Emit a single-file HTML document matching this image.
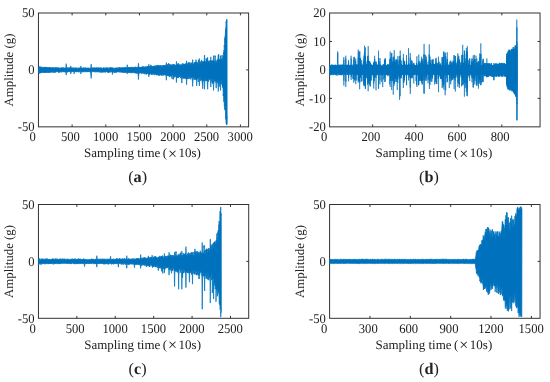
<!DOCTYPE html>
<html><head><meta charset="utf-8"><title>Figure</title>
<style>
html,body{margin:0;padding:0;background:#fff;}
svg{display:block;}
text{font-family:"Liberation Serif",serif;fill:#222222;text-rendering:geometricPrecision;}
.t{font-size:13.3px;}
.l{font-size:13.0px;}
.yl{font-size:12.8px;}
.c{font-size:16.2px;}
</style></head><body>
<svg width="550" height="382" viewBox="0 0 550 382">
<rect width="550" height="382" fill="#ffffff"/>
<rect x="38.45" y="13" width="210.15" height="113.85" fill="none" stroke="#333333" stroke-width="1"/>
<path d="M72.11 126.85v-2.4M72.11 13v2.4M105.77 126.85v-2.4M105.77 13v2.4M139.43 126.85v-2.4M139.43 13v2.4M173.09 126.85v-2.4M173.09 13v2.4M206.75 126.85v-2.4M206.75 13v2.4M240.41 126.85v-2.4M240.41 13v2.4M38.45 69.92h2.4M248.6 69.92h-2.4" stroke="#333333" stroke-width="1" fill="none"/>
<path d="M38.45 67.35L38.58 67.15L38.72 66.81L38.85 66.75L38.99 66.28L39.12 66.44L39.26 67.05L39.39 67.28L39.53 66.72L39.66 67.29L39.8 67.3L39.93 67.76L40.07 67.24L40.2 67.38L40.33 67.5L40.47 66.96L40.6 66.75L40.74 66.72L40.87 67.59L41.01 67.7L41.14 67.79L41.28 66.81L41.41 67.4L41.55 67.31L41.68 67.28L41.82 66.88L41.95 67.47L42.09 67.22L42.22 67.63L42.35 67.51L42.49 67.63L42.62 67.89L42.76 67.41L42.89 67.91L43.03 67.45L43.16 67.54L43.3 67.48L43.43 67.86L43.57 67.83L43.7 67.79L43.84 67.32L43.97 67.41L44.1 67.27L44.24 67.61L44.37 67.45L44.51 67.24L44.64 67.73L44.78 67.42L44.91 66.84L45.05 67.38L45.18 67.44L45.32 67.05L45.45 67.51L45.59 67.07L45.72 67.22L45.86 67.45L45.99 67.44L46.12 67.29L46.26 66.91L46.39 67.05L46.53 67.62L46.66 68.06L46.8 67.79L46.93 67.68L47.07 68.13L47.2 67.9L47.34 67.29L47.47 67.8L47.61 67.47L47.74 67.92L47.87 67.95L48.01 67.82L48.14 67.83L48.28 68.17L48.41 67.84L48.55 67.42L48.68 67.57L48.82 67.52L48.95 67.54L49.09 67.48L49.22 67.92L49.36 67.1L49.49 67.57L49.63 67.31L49.76 67.36L49.89 67.86L50.03 67.72L50.16 67.79L50.3 67.48L50.43 67.63L50.57 67.84L50.7 67.74L50.84 67.52L50.97 68.08L51.11 67.86L51.24 67.74L51.38 67.95L51.51 68.08L51.64 68.11L51.78 67.81L51.91 68.13L52.05 68.08L52.18 67.59L52.32 67.41L52.45 67.48L52.59 67.85L52.72 67.83L52.86 68.07L52.99 67.7L53.13 68.03L53.26 67.96L53.4 68.22L53.53 68.02L53.66 68.25L53.8 67.35L53.93 67.5L54.07 67.68L54.2 67.92L54.34 67.92L54.47 68.11L54.61 68.08L54.74 67.84L54.88 67.87L55.01 67.36L55.15 67.67L55.28 67.6L55.41 67.67L55.55 67.82L55.68 68.07L55.82 67.52L55.95 67.69L56.09 67.43L56.22 67.68L56.36 67.6L56.49 67.65L56.63 67.81L56.76 67.85L56.9 67.55L57.03 68.15L57.16 68.06L57.3 68.2L57.43 67.72L57.57 68.08L57.7 68.17L57.84 68.15L57.97 67.77L58.11 67.9L58.24 67.63L58.38 67.73L58.51 67.51L58.65 67.9L58.78 67.95L58.92 68.27L59.05 67.73L59.18 68.01L59.32 68.04L59.45 68.2L59.59 68.16L59.72 68.13L59.86 68.09L59.99 67.89L60.13 68.05L60.26 67.94L60.4 68.33L60.53 68.08L60.67 68.07L60.8 68.31L60.93 68.22L61.07 67.85L61.2 67.58L61.34 67.64L61.47 68.15L61.61 67.91L61.74 67.94L61.88 67.84L62.01 67.46L62.15 67.52L62.28 67.76L62.42 67.76L62.55 68.1L62.69 67.82L62.82 67.75L62.95 68.12L63.09 67.94L63.22 67.73L63.36 68.12L63.49 68.06L63.63 67.98L63.76 67.7L63.9 68.17L64.03 68.32L64.17 68.09L64.3 67.88L64.44 67.94L64.57 68.01L64.7 68.03L64.84 68.07L64.97 68.07L65.11 67.99L65.24 68.01L65.38 67.92L65.51 68.14L65.65 68.44L65.78 67.19L65.92 66.33L66.05 65.44L66.19 63.66L66.32 65.32L66.46 65.96L66.59 67.49L66.72 67.73L66.86 67.75L66.99 67.89L67.13 68.13L67.26 68L67.4 68.33L67.53 67.59L67.67 67.7L67.8 67.62L67.94 67.74L68.07 68.15L68.21 67.9L68.34 68.13L68.47 68.43L68.61 68.4L68.74 67.62L68.88 67.68L69.01 67.73L69.15 67.8L69.28 67.55L69.42 67.6L69.55 67.58L69.69 67.91L69.82 67.83L69.96 67.83L70.09 68.1L70.23 67.97L70.36 68.35L70.49 67.6L70.63 66.91L70.76 65.94L70.9 66.5L71.03 67.72L71.17 67.67L71.3 67.58L71.44 67.82L71.57 67.85L71.71 67.86L71.84 67.92L71.98 68.12L72.11 68.16L72.24 68.4L72.38 67.89L72.51 67.62L72.65 67.94L72.78 68.07L72.92 67.8L73.05 67.91L73.19 67.85L73.32 68.21L73.46 67.88L73.59 67.99L73.73 68.31L73.86 68.06L73.99 67.76L74.13 67.93L74.26 67.78L74.4 68.13L74.53 68.1L74.67 68.45L74.8 68.51L74.94 68.24L75.07 68.47L75.21 67.79L75.34 67.71L75.48 67.65L75.61 67.77L75.75 67.81L75.88 67.98L76.01 68L76.15 67.89L76.28 68.15L76.42 68.05L76.55 68.11L76.69 68.05L76.82 68.02L76.96 67.75L77.09 68.18L77.23 68.26L77.36 68.3L77.5 68.43L77.63 68.37L77.76 68.2L77.9 68.02L78.03 68.31L78.17 68.27L78.3 68.55L78.44 68.22L78.57 68.2L78.71 68.32L78.84 67.61L78.98 67.7L79.11 68.05L79.25 67.98L79.38 67.83L79.52 68.25L79.65 68.04L79.78 68.09L79.92 68L80.05 68.16L80.19 68.05L80.32 67.94L80.46 67.91L80.59 67.69L80.73 67.09L80.86 65.94L81 67.01L81.13 67.77L81.27 67.7L81.4 67.97L81.53 67.99L81.67 67.87L81.8 67.84L81.94 68.18L82.07 68.06L82.21 68.15L82.34 68.42L82.48 67.95L82.61 68.21L82.75 68.13L82.88 68.11L83.02 68.12L83.15 67.79L83.29 68.01L83.42 67.69L83.55 67.8L83.69 68.37L83.82 68.22L83.96 68.47L84.09 67.68L84.23 67.98L84.36 67.95L84.5 68.32L84.63 68.51L84.77 68.33L84.9 67.64L85.04 67.71L85.17 67.66L85.3 67.92L85.44 67.78L85.57 67.8L85.71 68.27L85.84 68.24L85.98 68.24L86.11 68.09L86.25 68.04L86.38 68.32L86.52 68.13L86.65 67.77L86.79 67.94L86.92 68.63L87.06 68.31L87.19 68.63L87.32 68.13L87.46 68.17L87.59 67.89L87.73 68.06L87.86 67.77L88 68.17L88.13 68.19L88.27 67.97L88.4 68.19L88.54 67.82L88.67 67.89L88.81 68.12L88.94 68.23L89.07 68.16L89.21 68.29L89.34 68.18L89.48 68.37L89.61 68.29L89.75 68.04L89.88 68.03L90.02 67.91L90.15 68.21L90.29 68.18L90.42 68.49L90.56 68.29L90.69 67.52L90.82 66.68L90.96 65.78L91.09 64.23L91.23 64.23L91.36 65.63L91.5 66.48L91.63 67.59L91.77 68.36L91.9 68.06L92.04 68.2L92.17 68.11L92.31 68.11L92.44 68.18L92.58 67.63L92.71 67.64L92.84 67.96L92.98 67.99L93.11 68.15L93.25 68.12L93.38 67.8L93.52 67.66L93.65 67.61L93.79 68.05L93.92 67.93L94.06 68.28L94.19 67.99L94.33 68.08L94.46 67.92L94.59 67.66L94.73 67.98L94.86 68.05L95 67.76L95.13 67.95L95.27 67.91L95.4 68.05L95.54 67.89L95.67 67.87L95.81 67.98L95.94 68.2L96.08 68.19L96.21 67.93L96.35 67.98L96.48 67.66L96.61 68.1L96.75 67.99L96.88 68.01L97.02 67.49L97.15 67.7L97.29 67.39L97.42 68.27L97.56 68.23L97.69 68.54L97.83 67.97L97.96 67.97L98.1 68.22L98.23 67.9L98.36 68.1L98.5 68.26L98.63 67.62L98.77 67.59L98.9 67.76L99.04 68.42L99.17 68.29L99.31 68.09L99.44 68L99.58 67.69L99.71 67.92L99.85 67.78L99.98 68.03L100.12 68.21L100.25 68.14L100.38 67.75L100.52 67.88L100.65 67.81L100.79 68.04L100.92 68.2L101.06 67.56L101.19 67.71L101.33 67.7L101.46 68.02L101.6 68.32L101.73 68.18L101.87 68.06L102 67.97L102.13 68.35L102.27 68.11L102.4 68.29L102.54 68.31L102.67 68.23L102.81 68.47L102.94 68.21L103.08 68.05L103.21 67.84L103.35 67.92L103.48 67.64L103.62 67.59L103.75 67.94L103.89 67.64L104.02 67.79L104.15 68.07L104.29 68.45L104.42 68.36L104.56 68.16L104.69 68.06L104.83 67.8L104.96 67.91L105.1 67.89L105.23 68.18L105.37 68.15L105.5 67.81L105.64 67.86L105.77 68.19L105.9 68.08L106.04 67.98L106.17 67.76L106.31 68.23L106.44 68.01L106.58 68.27L106.71 67.78L106.85 67.62L106.98 67.53L107.12 67.98L107.25 67.89L107.39 68.03L107.52 68.1L107.65 67.77L107.79 68.14L107.92 68.1L108.06 67.76L108.19 68.13L108.33 68.26L108.46 68.44L108.6 68.09L108.73 68.18L108.87 68.4L109 68.43L109.14 68.25L109.27 67.92L109.41 68.1L109.54 67.74L109.67 67.66L109.81 67.72L109.94 68.06L110.08 67.62L110.21 68.05L110.35 67.68L110.48 68.08L110.62 67.81L110.75 68.11L110.89 67.94L111.02 68.33L111.16 67.98L111.29 67.97L111.42 67.54L111.56 67.62L111.69 67.79L111.83 67.93L111.96 67.56L112.1 67.81L112.23 68.01L112.37 67.82L112.5 68.22L112.64 68.23L112.77 67.94L112.91 67.69L113.04 67.52L113.18 68.32L113.31 68.4L113.44 68.16L113.58 68.43L113.71 68.18L113.85 68.28L113.98 68.18L114.12 68.32L114.25 68.52L114.39 68.3L114.52 68.14L114.66 68.01L114.79 68.27L114.93 68.01L115.06 68.03L115.19 68.28L115.33 68.05L115.46 68.06L115.6 67.77L115.73 68.08L115.87 67.87L116 68.44L116.14 68.16L116.27 68.22L116.41 67.95L116.54 67.74L116.68 67.77L116.81 68.06L116.95 68.22L117.08 68.29L117.21 68L117.35 68.05L117.48 67.67L117.62 68.2L117.75 68.16L117.89 68.28L118.02 68.13L118.16 67.94L118.29 68.02L118.43 67.7L118.56 67.47L118.7 67.8L118.83 67.77L118.96 67.89L119.1 68.14L119.23 67.56L119.37 67.92L119.5 67.62L119.64 68.06L119.77 67.66L119.91 67.85L120.04 67.68L120.18 67.69L120.31 67.73L120.45 68.3L120.58 67.98L120.72 68.07L120.85 67.68L120.98 67.85L121.12 68.05L121.25 68.11L121.39 68.27L121.52 68.07L121.66 67.86L121.79 67.95L121.93 67.46L122.06 67.32L122.2 67.37L122.33 67.78L122.47 67.65L122.6 67.38L122.73 67.72L122.87 68.02L123 68.05L123.14 68.17L123.27 67.77L123.41 68L123.54 67.84L123.68 68.03L123.81 67.94L123.95 67.57L124.08 68.27L124.22 67.92L124.35 68.3L124.48 67.62L124.62 67.77L124.75 67.48L124.89 67.33L125.02 67.84L125.16 67.46L125.29 67.94L125.43 68.04L125.56 67.71L125.7 67.24L125.83 67.53L125.97 67.61L126.1 67.39L126.24 67.28L126.37 67.64L126.5 67.83L126.64 68.02L126.77 67.92L126.91 67.51L127.04 66.35L127.18 64.8L127.31 64.8L127.45 66.44L127.58 67.34L127.72 67.88L127.85 68.1L127.99 67.72L128.12 67.24L128.25 67.06L128.39 67.36L128.52 67.36L128.66 67.31L128.79 67.74L128.93 67.33L129.06 67.81L129.2 67.53L129.33 67.77L129.47 68.06L129.6 67.89L129.74 67.31L129.87 67.6L130.01 67.24L130.14 67.26L130.27 67.66L130.41 67.42L130.54 67.07L130.68 67.52L130.81 67.5L130.95 67.07L131.08 67.14L131.22 67.33L131.35 67.94L131.49 67.56L131.62 67.48L131.76 67.11L131.89 67.4L132.02 67.22L132.16 66.96L132.29 67.2L132.43 67.22L132.56 66.92L132.7 67.25L132.83 67.28L132.97 67.61L133.1 67.61L133.24 67.58L133.37 67.7L133.51 67.77L133.64 67.96L133.78 67.31L133.91 67.09L134.04 67.65L134.18 67.74L134.31 67.49L134.45 67.73L134.58 67.46L134.72 67.14L134.85 67.69L134.99 66.83L135.12 66.79L135.26 66.75L135.39 67.57L135.53 67.62L135.66 67.28L135.79 67.76L135.93 67.4L136.06 67.59L136.2 67.19L136.33 67.44L136.47 67.56L136.6 66.98L136.74 67.46L136.87 67.42L137.01 67.51L137.14 67.81L137.28 67.55L137.41 67.32L137.55 67.54L137.68 67.21L137.81 67.45L137.95 67.04L138.08 66.14L138.22 65.38L138.35 63.32L138.49 63.32L138.62 64.86L138.76 66.28L138.89 66.8L139.03 67.53L139.16 67.34L139.3 67.15L139.43 67.63L139.56 67.15L139.7 67.2L139.83 66.96L139.97 67.49L140.1 67.06L140.24 67.35L140.37 67.26L140.51 67.64L140.64 67.35L140.78 67.2L140.91 67.34L141.05 67.1L141.18 67.17L141.31 67.16L141.45 67.2L141.58 66.93L141.72 67.37L141.85 67.32L141.99 67.8L142.12 67.83L142.26 66.64L142.39 66.56L142.53 67.15L142.66 67.26L142.8 66.78L142.93 66.72L143.07 66.34L143.2 66.81L143.33 66.94L143.47 67.33L143.6 67.23L143.74 67.28L143.87 66.69L144.01 66.69L144.14 66.43L144.28 67.53L144.41 67.13L144.55 67.62L144.68 67.65L144.82 67.11L144.95 67.11L145.08 67.09L145.22 67.49L145.35 67.64L145.49 67.13L145.62 67.37L145.76 67.34L145.89 66.15L146.03 66.48L146.16 66.75L146.3 66.87L146.43 66.9L146.57 67.44L146.7 67.27L146.84 66.79L146.97 67.39L147.1 66.41L147.24 66.14L147.37 66.68L147.51 66.41L147.64 66.37L147.78 66.85L147.91 66.87L148.05 67.36L148.18 66.9L148.32 66.55L148.45 66.82L148.59 66.85L148.72 65.48L148.85 64.23L148.99 65.61L149.12 66.6L149.26 66.56L149.39 67.02L149.53 66.13L149.66 66.66L149.8 66.53L149.93 66.87L150.07 66.9L150.2 67.43L150.34 66.6L150.47 66.05L150.61 66.67L150.74 64.83L150.87 65.76L151.01 65.24L151.14 65.87L151.28 66.41L151.41 66.47L151.55 66.65L151.68 66.03L151.82 66.77L151.95 66.41L152.09 66.67L152.22 66.47L152.36 66.79L152.49 67.32L152.62 67.18L152.76 66.22L152.89 66.5L153.03 66.15L153.16 66.58L153.3 65.82L153.43 66.02L153.57 66.55L153.7 67.01L153.84 66.63L153.97 66.93L154.11 66.42L154.24 66.96L154.38 66.26L154.51 66.03L154.64 66.08L154.78 66.05L154.91 65.72L155.05 66.31L155.18 66.29L155.32 66.04L155.45 65.48L155.59 66.97L155.72 66.73L155.86 66.52L155.99 66.43L156.13 67.08L156.26 66.8L156.39 65.75L156.53 65.54L156.66 65.78L156.8 65.74L156.93 66.23L157.07 66.02L157.2 65.26L157.34 64.96L157.47 65.37L157.61 65.39L157.74 65.17L157.88 65.51L158.01 65.35L158.14 65.47L158.28 65.22L158.41 65.34L158.55 65.81L158.68 65.93L158.82 65.44L158.95 65.4L159.09 65.44L159.22 66.06L159.36 66.02L159.49 65.93L159.63 66.22L159.76 65.55L159.9 65.79L160.03 66.2L160.16 66.85L160.3 66.91L160.43 66.02L160.57 65.31L160.7 65.61L160.84 65.49L160.97 65.28L161.11 65.62L161.24 65.52L161.38 65.3L161.51 65.53L161.65 65.7L161.78 66.52L161.91 66.3L162.05 66.56L162.18 65.77L162.32 66.42L162.45 65.68L162.59 66.18L162.72 66.29L162.86 66.69L162.99 66.25L163.13 66.34L163.26 64.97L163.4 65.43L163.53 65.69L163.67 65.89L163.8 65.4L163.93 65.44L164.07 65.87L164.2 66.13L164.34 65.6L164.47 65.34L164.61 65.34L164.74 66L164.88 65.46L165.01 65.02L165.15 65.2L165.28 65.56L165.42 65.54L165.55 65.61L165.68 65.75L165.82 64.78L165.95 65.45L166.09 64.7L166.22 64.08L166.36 62.52L166.49 63.92L166.63 65.53L166.76 65.46L166.9 65.84L167.03 66.12L167.17 66.31L167.3 64.78L167.44 65.71L167.57 65.46L167.7 64.36L167.84 65.23L167.97 64.52L168.11 66.47L168.24 66.37L168.38 65.73L168.51 63L168.65 63.59L168.78 63.89L168.92 64.64L169.05 64.53L169.19 65.28L169.32 64.74L169.45 64.33L169.59 65L169.72 66.53L169.86 65.68L169.99 66L170.13 65.72L170.26 66.05L170.4 65.91L170.53 64.47L170.67 64.12L170.8 64.35L170.94 66.35L171.07 65.62L171.21 66.25L171.34 65.49L171.47 65.8L171.61 65.74L171.74 64.76L171.88 64.78L172.01 65.35L172.15 64.98L172.28 65.06L172.42 64.94L172.55 65.08L172.69 65.01L172.82 64.36L172.96 65.36L173.09 65.39L173.22 65.43L173.36 64.2L173.49 64.01L173.63 64.67L173.76 65.26L173.9 65.78L174.03 66.1L174.17 64.22L174.3 64.95L174.44 65.26L174.57 65.63L174.71 65.48L174.84 66.15L174.97 65.47L175.11 64.7L175.24 65.43L175.38 65.5L175.51 65.82L175.65 65.78L175.78 65.68L175.92 65.22L176.05 64.93L176.19 64.99L176.32 63.21L176.46 61.39L176.59 63.33L176.73 64.5L176.86 64.77L176.99 65.36L177.13 64.59L177.26 65.29L177.4 65.98L177.53 65.33L177.67 65.62L177.8 63.5L177.94 64.34L178.07 64.47L178.21 64.36L178.34 63.66L178.48 64.02L178.61 63.84L178.74 63.58L178.88 63.99L179.01 65.21L179.15 64.86L179.28 64.91L179.42 65.44L179.55 64.54L179.69 65.59L179.82 65.7L179.96 64.84L180.09 65.07L180.23 65.03L180.36 65.6L180.5 65.11L180.63 65.19L180.76 65.39L180.9 65.49L181.03 64.21L181.17 64.69L181.3 65.16L181.44 64.95L181.57 65.08L181.71 65.64L181.84 64.82L181.98 64.86L182.11 65.38L182.25 63.59L182.38 63.68L182.51 63.37L182.65 64.13L182.78 64.79L182.92 65.27L183.05 64.92L183.19 64.71L183.32 65.47L183.46 63.68L183.59 64.14L183.73 64.82L183.86 65.47L184 64.51L184.13 64.47L184.27 63.91L184.4 64.17L184.53 64.83L184.67 64.72L184.8 64.39L184.94 65.34L185.07 65.05L185.21 63.86L185.34 63.89L185.48 64.39L185.61 63.59L185.75 64.09L185.88 64.18L186.02 63.76L186.15 64.29L186.28 64.46L186.42 63.04L186.55 60.82L186.69 62.04L186.82 63.71L186.96 63.24L187.09 62.97L187.23 62.93L187.36 63.55L187.5 64.63L187.63 64.42L187.77 64.92L187.9 64.97L188.04 64.48L188.17 65.2L188.3 62.96L188.44 62.58L188.57 63.3L188.71 63.93L188.84 63.31L188.98 62.54L189.11 63.14L189.25 62.6L189.38 63.68L189.52 64.94L189.65 64.21L189.79 64.15L189.92 62.94L190.05 62.47L190.19 63.75L190.32 64.17L190.46 64.63L190.59 64.32L190.73 63.46L190.86 63.57L191 63.62L191.13 63.45L191.27 64.04L191.4 63.66L191.54 63.7L191.67 63.77L191.8 62.44L191.94 64.69L192.07 65.11L192.21 64.43L192.34 63.45L192.48 62.09L192.61 59.68L192.75 59.68L192.88 62.04L193.02 63.07L193.15 64.31L193.29 64.74L193.42 65.24L193.56 64.59L193.69 63.87L193.82 64.96L193.96 64.3L194.09 63.3L194.23 64.33L194.36 62.29L194.5 63.54L194.63 63.55L194.77 62.72L194.9 62.53L195.04 62.83L195.17 62.35L195.31 62.72L195.44 62.72L195.57 63.87L195.71 62.46L195.84 63.06L195.98 59.6L196.11 60.94L196.25 60.95L196.38 63.61L196.52 62.18L196.65 63.21L196.79 62.57L196.92 62.7L197.06 62.79L197.19 63.47L197.33 62.39L197.46 62.48L197.59 63.7L197.73 64.61L197.86 63.42L198 64.95L198.13 63.73L198.27 63.77L198.4 59.75L198.54 60.24L198.67 60.68L198.81 62.67L198.94 61.29L199.08 62.2L199.21 61L199.34 58.54L199.48 61.22L199.61 61.86L199.75 62.76L199.88 62.93L200.02 64.04L200.15 63.18L200.29 63.43L200.42 61.6L200.56 62.97L200.69 63.13L200.83 64.8L200.96 63.73L201.1 63.51L201.23 61.82L201.36 60.86L201.5 59.89L201.63 63.62L201.77 63.63L201.9 64.3L202.04 61.77L202.17 61.26L202.31 61.31L202.44 63.24L202.58 62.23L202.71 62.23L202.85 61.85L202.98 61.57L203.11 61.83L203.25 61.75L203.38 61.33L203.52 61.52L203.65 61.48L203.79 63.07L203.92 62.02L204.06 61.95L204.19 60.79L204.33 57.69L204.46 55.12L204.6 55.12L204.73 59.36L204.87 60.36L205 61.62L205.13 61.21L205.27 63.62L205.4 62.25L205.54 63.66L205.67 62.27L205.81 63.69L205.94 62.34L206.08 60.14L206.21 58.28L206.35 59.96L206.48 62.05L206.62 60.96L206.75 61.37L206.88 58.89L207.02 58.89L207.15 58.76L207.29 61.34L207.42 60.17L207.56 57.4L207.69 57.4L207.83 60.7L207.96 62.66L208.1 62.12L208.23 61.55L208.37 61.96L208.5 60.88L208.63 61.76L208.77 61.74L208.9 63.56L209.04 62.87L209.17 64.14L209.31 60.89L209.44 60.88L209.58 61.15L209.71 63.17L209.85 62.93L209.98 63.67L210.12 60.09L210.25 61.21L210.39 60.99L210.52 60.7L210.65 59.84L210.79 56.83L210.92 60.38L211.06 60.93L211.19 63.15L211.33 61.72L211.46 60.61L211.6 61.38L211.73 61.92L211.87 62.68L212 61.14L212.14 60.82L212.27 62.09L212.4 60.45L212.54 63.14L212.67 62.42L212.81 63.89L212.94 62.26L213.08 60.88L213.21 60.95L213.35 58.89L213.48 55.69L213.62 55.69L213.75 60.09L213.89 59.6L214.02 60.99L214.16 63.68L214.29 62.37L214.42 63.65L214.56 61.02L214.69 62.58L214.83 62.62L214.96 55.44L215.1 57.01L215.23 56.32L215.37 60.6L215.5 62.09L215.64 61.78L215.77 62.09L215.91 62.99L216.04 62.27L216.17 60.34L216.31 61.98L216.44 62.14L216.58 61.86L216.71 61.49L216.85 62.89L216.98 63.21L217.12 63.11L217.25 61.51L217.39 59.22L217.52 59.26L217.66 60.94L217.79 62.87L217.93 61.42L218.06 57.92L218.19 55.12L218.33 55.12L218.46 59.85L218.6 54.99L218.73 54.17L218.87 55.24L219 60.63L219.14 59.53L219.27 60.37L219.41 60.29L219.54 61.33L219.68 59.98L219.81 59.85L219.94 59.07L220.08 59.81L220.21 61.56L220.35 59.43L220.48 55.69L220.62 55.69L220.75 60.42L220.89 60.88L221.02 58.86L221.16 60.02L221.29 60.93L221.43 59.29L221.56 60.19L221.7 59.8L221.83 57.3L221.96 56.06L222.1 54.98L222.23 61L222.37 60.46L222.5 59.97L222.64 60.79L222.77 58.02L222.91 58.19L223.04 56.79L223.18 55.81L223.31 57L223.45 52.46L223.58 54.02L223.71 53.52L223.85 50.28L223.98 51.27L224.12 50.74L224.25 45.3L224.39 47.05L224.52 43.59L224.66 43.88L224.79 37.63L224.93 42.76L225.06 35.62L225.2 34.95L225.33 33.96L225.46 31.67L225.6 29.73L225.73 33.72L225.87 27.8L226 31.36L226.14 21.34L226.27 24.96L226.41 27.53L226.54 20.18L226.68 23.04L226.81 18.97L226.95 21.38L227.08 26.68L227.15 116.75L227.01 123.79L226.88 124.49L226.74 115.53L226.61 124.98L226.47 115.05L226.34 115.99L226.21 123.59L226.07 119.65L225.94 112.33L225.8 119.24L225.67 118.91L225.53 109.22L225.4 111.29L225.26 104.64L225.13 109.66L224.99 107.25L224.86 109.71L224.72 105.54L224.59 103.19L224.46 105.24L224.32 106.44L224.19 100.38L224.05 97.36L223.92 102L223.78 98.68L223.65 93.92L223.51 96.27L223.38 94.39L223.24 95.95L223.11 92.51L222.97 86.26L222.84 87.56L222.7 83.47L222.57 87.25L222.44 83.25L222.3 84.49L222.17 85.19L222.03 82.36L221.9 83.86L221.76 80.02L221.63 79.57L221.49 80.35L221.36 82.05L221.22 82.03L221.09 84.35L220.95 83.7L220.82 82.65L220.69 87.76L220.55 90.42L220.42 88.24L220.28 82.6L220.15 81.63L220.01 82.27L219.88 81.79L219.74 82.51L219.61 81.19L219.47 81.72L219.34 86.41L219.2 86.79L219.07 86L218.93 80.24L218.8 81.16L218.67 80.97L218.53 84.85L218.4 89.25L218.26 91.56L218.13 87.6L217.99 86.24L217.86 82.53L217.72 81.05L217.59 79.98L217.45 81.14L217.32 83.23L217.18 82.31L217.05 82.28L216.92 80.58L216.78 81.36L216.65 79.94L216.51 82.33L216.38 83.19L216.24 88.14L216.11 88.14L215.97 83.79L215.84 82.54L215.7 79.68L215.57 80.04L215.43 80.66L215.3 80.27L215.17 80.11L215.03 82.48L214.9 79.51L214.76 79.09L214.63 80.93L214.49 79.99L214.36 80.37L214.22 79.58L214.09 80L213.95 81.87L213.82 84.35L213.68 85.96L213.55 90.42L213.41 87.13L213.28 83.98L213.15 82.09L213.01 80.9L212.88 78.84L212.74 79.97L212.61 79.57L212.47 83.88L212.34 81.45L212.2 81.71L212.07 82.36L211.93 80.85L211.8 81.58L211.66 77.14L211.53 78.79L211.4 77.01L211.26 80.55L211.13 81.6L210.99 83.17L210.86 87L210.72 87L210.59 82.75L210.45 80.33L210.32 79.19L210.18 80.21L210.05 77.68L209.91 78.86L209.78 77.72L209.64 78.39L209.51 77.67L209.38 79.28L209.24 79.21L209.11 80.37L208.97 80.01L208.84 79.07L208.7 79.33L208.57 79.42L208.43 81.67L208.3 81.92L208.16 81.81L208.03 80.86L207.89 83.83L207.76 87.46L207.63 89.28L207.49 86.88L207.36 84.08L207.22 81.26L207.09 80.84L206.95 80.48L206.82 79.96L206.68 81.07L206.55 79.63L206.41 78.99L206.28 80.75L206.14 80.4L206.01 78.07L205.87 77.52L205.74 78.51L205.61 79.87L205.47 80.9L205.34 79.2L205.2 78.44L205.07 77.99L204.93 80.87L204.8 82.34L204.66 85.94L204.53 89.28L204.39 87.44L204.26 83.83L204.12 80.43L203.99 78.39L203.86 78.94L203.72 79.06L203.59 80.96L203.45 81.14L203.32 79.05L203.18 78.64L203.05 80.34L202.91 84.03L202.78 88.71L202.64 88.71L202.51 83.91L202.37 83.8L202.24 83.82L202.1 81.79L201.97 79.6L201.84 79.9L201.7 79.98L201.57 78.85L201.43 78.65L201.3 78.38L201.16 80.54L201.03 79.03L200.89 79.84L200.76 80.5L200.62 79.63L200.49 80.5L200.35 76.68L200.22 78.09L200.09 76.54L199.95 77.93L199.82 78.12L199.68 78.41L199.55 82.17L199.41 85.86L199.28 85.86L199.14 82.88L199.01 79.84L198.87 77.62L198.74 77.09L198.6 77.85L198.47 78.35L198.34 81.66L198.2 82.06L198.07 80.59L197.93 79.08L197.8 78.11L197.66 78.01L197.53 77.97L197.39 79.15L197.26 78.56L197.12 76.68L196.99 78.23L196.85 80.85L196.72 85.86L196.58 85.86L196.45 81.7L196.32 79.35L196.18 78.12L196.05 80.05L195.91 77.19L195.78 77.44L195.64 77.18L195.51 79.15L195.37 78.71L195.24 79.63L195.1 77.41L194.97 77.98L194.83 77.7L194.7 76.5L194.57 76.06L194.43 77.05L194.3 79.32L194.16 79.96L194.03 78.03L193.89 77.17L193.76 78.36L193.62 76.71L193.49 77.29L193.35 76.76L193.22 77.59L193.08 79.89L192.95 82.02L192.81 82.91L192.68 86.43L192.55 83.9L192.41 81.81L192.28 78.58L192.14 76.68L192.01 76.34L191.87 77.4L191.74 75.91L191.6 77.17L191.47 77.67L191.33 77.19L191.2 77.77L191.06 77.68L190.93 78.5L190.8 79.41L190.66 76.89L190.53 76.28L190.39 77.59L190.26 77.76L190.12 78.32L189.99 78.25L189.85 77.32L189.72 76.18L189.58 76.26L189.45 77.16L189.31 78.51L189.18 78.26L189.04 79.06L188.91 79.01L188.78 78.71L188.64 76.79L188.51 76.79L188.37 75.43L188.24 77.33L188.1 77.49L187.97 77.29L187.83 78.5L187.7 79.12L187.56 77.46L187.43 78.79L187.29 78.96L187.16 77.97L187.03 77.14L186.89 78.4L186.76 81.01L186.62 84.73L186.49 84.73L186.35 79.74L186.22 77.98L186.08 78.9L185.95 77.68L185.81 77.43L185.68 78.63L185.54 77.6L185.41 75.89L185.27 77.16L185.14 76.6L185.01 76.79L184.87 78.4L184.74 77.74L184.6 77.62L184.47 77.85L184.33 78.46L184.2 78.35L184.06 78.29L183.93 77.16L183.79 77.98L183.66 77.96L183.52 77.96L183.39 78.11L183.26 78.49L183.12 77.92L182.99 77.19L182.85 76.86L182.72 78.45L182.58 77.36L182.45 76.3L182.31 77.18L182.18 77.59L182.04 79.95L181.91 83.02L181.77 83.02L181.64 80.4L181.5 76.96L181.37 75.67L181.24 75.83L181.1 76.77L180.97 75.9L180.83 75.38L180.7 75.92L180.56 77.92L180.43 77.52L180.29 78.31L180.16 76.01L180.02 76L179.89 75.93L179.75 76.04L179.62 76.94L179.49 75.7L179.35 75.08L179.22 75.85L179.08 74.92L178.95 75.46L178.81 76.32L178.68 75.34L178.54 77.28L178.41 77.75L178.27 76.66L178.14 77.75L178 76.55L177.87 77.87L177.74 76.96L177.6 77.94L177.47 76.36L177.33 76.78L177.2 77.75L177.06 77.65L176.93 76.13L176.79 76.76L176.66 78.87L176.52 82.45L176.39 82.45L176.25 78.53L176.12 77.63L175.98 77L175.85 76.08L175.72 75.33L175.58 75.16L175.45 75.66L175.31 76.73L175.18 76.82L175.04 76.61L174.91 76.32L174.77 76.34L174.64 75.58L174.5 76.28L174.37 77.39L174.23 77.51L174.1 74.85L173.97 75.54L173.83 75.94L173.7 76.41L173.56 76.63L173.43 76.1L173.29 79.3L173.16 77.8L173.02 79.29L172.89 75.69L172.75 75.58L172.62 75.24L172.48 75.34L172.35 75.08L172.21 74.26L172.08 77.28L171.95 77.17L171.81 78.48L171.68 74.9L171.54 75.32L171.41 75.62L171.27 75.18L171.14 75.98L171 75.81L170.87 75.9L170.73 76.02L170.6 75.06L170.46 75.25L170.33 75.01L170.2 75.92L170.06 76.71L169.93 76.8L169.79 76.02L169.66 75.86L169.52 77.01L169.39 76.61L169.25 75.15L169.12 76.33L168.98 75.26L168.85 75.85L168.71 75.09L168.58 75.91L168.44 75.62L168.31 74.7L168.18 75.39L168.04 74.36L167.91 74.26L167.77 75.28L167.64 75.4L167.5 74.36L167.37 75.39L167.23 75.01L167.1 75.78L166.96 75.78L166.83 74.34L166.69 75.32L166.56 77.28L166.43 80.17L166.29 80.17L166.16 76.71L166.02 76.36L165.89 76.19L165.75 75.58L165.62 74.91L165.48 75.07L165.35 74.27L165.21 74.15L165.08 75.07L164.94 74.2L164.81 74.51L164.68 74.96L164.54 75.07L164.41 74.8L164.27 73.95L164.14 74.16L164 74.56L163.87 75.22L163.73 74.33L163.6 74.28L163.46 74.86L163.33 75.26L163.19 74.32L163.06 75.29L162.92 74.82L162.79 74.94L162.66 74.34L162.52 75.26L162.39 74.59L162.25 75.16L162.12 74.28L161.98 74.81L161.85 74.84L161.71 75.7L161.58 74.8L161.44 75.11L161.31 74.9L161.17 74.69L161.04 75.1L160.91 74.97L160.77 75.07L160.64 75.22L160.5 74.97L160.37 73.63L160.23 74.13L160.1 74.28L159.96 74.32L159.83 74.54L159.69 74.19L159.56 75.55L159.42 74.51L159.29 75.3L159.15 74.64L159.02 75.31L158.89 75.17L158.75 73.9L158.62 73.94L158.48 74.34L158.35 75.51L158.21 74.66L158.08 74.81L157.94 73.65L157.81 74.22L157.67 74.09L157.54 75.04L157.4 75.11L157.27 74.62L157.14 73.71L157 73.68L156.87 74.21L156.73 75.16L156.6 75.27L156.46 74.58L156.33 74.07L156.19 73.95L156.06 74.07L155.92 74.89L155.79 74.26L155.65 74.45L155.52 74.47L155.38 74.3L155.25 74.16L155.12 73.06L154.98 73.82L154.85 73.75L154.71 73.64L154.58 74.08L154.44 73.39L154.31 75.12L154.17 75.28L154.04 74.77L153.9 74.03L153.77 73.86L153.63 74.11L153.5 73.51L153.37 74.05L153.23 74.02L153.1 73.64L152.96 72.94L152.83 73.07L152.69 73.98L152.56 74.2L152.42 74.87L152.29 74L152.15 73.73L152.02 74.22L151.88 74.1L151.75 74.1L151.61 73.26L151.48 74.52L151.35 74.34L151.21 74.54L151.08 73.41L150.94 73.57L150.81 74.22L150.67 73.42L150.54 73.77L150.4 73.14L150.27 73.09L150.13 72.76L150 73.41L149.86 74.21L149.73 74.24L149.6 74.35L149.46 73.85L149.33 74.45L149.19 73.81L149.06 74.84L148.92 76.76L148.79 76.76L148.65 74.36L148.52 73.86L148.38 74.22L148.25 73.03L148.11 73.08L147.98 73.48L147.85 73.22L147.71 73.75L147.58 73.07L147.44 73.55L147.31 73.78L147.17 73.06L147.04 72.82L146.9 73.42L146.77 72.95L146.63 73.97L146.5 74.37L146.36 74.41L146.23 73.86L146.09 73.67L145.96 74.32L145.83 72.6L145.69 72.85L145.56 73.14L145.42 72.84L145.29 73.37L145.15 73.52L145.02 73.28L144.88 73.74L144.75 73.11L144.61 73.24L144.48 73.38L144.34 72.87L144.21 74.25L144.08 74.08L143.94 73.64L143.81 72.45L143.67 72.95L143.54 72.38L143.4 72.79L143.27 72.6L143.13 73.15L143 73.46L142.86 73.39L142.73 72.78L142.59 72.5L142.46 72.9L142.32 72.88L142.19 73.37L142.06 73.21L141.92 73.35L141.79 73.32L141.65 73.75L141.52 73.04L141.38 72.71L141.25 73.11L141.11 73.2L140.98 73.06L140.84 73.05L140.71 72.71L140.57 72.47L140.44 73L140.31 72.62L140.17 72.9L140.04 72.96L139.9 73.28L139.77 72.74L139.63 73.25L139.5 73.15L139.36 73.14L139.23 73.03L139.09 72.79L138.96 73.2L138.82 74.9L138.69 75.53L138.55 76.95L138.42 79.6L138.29 77.01L138.15 76.51L138.02 74.1L137.88 73.65L137.75 72.65L137.61 72.17L137.48 72.26L137.34 72.85L137.21 73.14L137.07 73.35L136.94 72.86L136.8 73.35L136.67 73.34L136.54 72.79L136.4 72.96L136.27 73.29L136.13 72.71L136 72.77L135.86 72.23L135.73 73.24L135.59 73.16L135.46 72.86L135.32 73.05L135.19 72.73L135.05 72.45L134.92 72.83L134.78 73.16L134.65 72.55L134.52 72.37L134.38 72.81L134.25 72.75L134.11 72.84L133.98 73L133.84 72.93L133.71 72.07L133.57 72.55L133.44 72.58L133.3 72.88L133.17 72.3L133.03 72.29L132.9 72.31L132.77 72.27L132.63 72.65L132.5 72.4L132.36 72.11L132.23 72.55L132.09 71.91L131.96 72.16L131.82 72.37L131.69 73.19L131.55 72.76L131.42 72.54L131.28 72.63L131.15 72.54L131.02 72.96L130.88 72.21L130.75 72.27L130.61 72.42L130.48 72.59L130.34 72.57L130.21 73.05L130.07 73.02L129.94 72.74L129.8 72.88L129.67 72.74L129.53 72.81L129.4 72.89L129.26 71.92L129.13 71.91L129 72.24L128.86 72.82L128.73 72.9L128.59 72.31L128.46 71.96L128.32 72.31L128.19 72.16L128.05 72.44L127.92 71.96L127.78 72.06L127.65 72.58L127.51 72.58L127.38 72.95L127.25 73.91L127.11 73.21L126.98 72.69L126.84 71.84L126.71 72.05L126.57 72.28L126.44 72.77L126.3 72.79L126.17 72.29L126.03 72.26L125.9 72.45L125.76 72.72L125.63 72.84L125.49 72.28L125.36 72.39L125.23 72.51L125.09 72.64L124.96 72.84L124.82 72.75L124.69 72.21L124.55 72.23L124.42 72.46L124.28 72.68L124.15 72.29L124.01 72.44L123.88 72.37L123.74 72.28L123.61 72.19L123.48 72.21L123.34 72.46L123.21 72.69L123.07 72.66L122.94 72.69L122.8 72.28L122.67 72.44L122.53 72.08L122.4 71.98L122.26 72L122.13 72.38L121.99 72.48L121.86 72.39L121.72 72.04L121.59 72.25L121.46 72.07L121.32 72.05L121.19 71.96L121.05 71.94L120.92 72.19L120.78 72.02L120.65 72.22L120.51 71.81L120.38 71.93L120.24 71.81L120.11 72.11L119.97 72.16L119.84 72.23L119.71 71.87L119.57 71.9L119.44 71.84L119.3 72.17L119.17 71.78L119.03 71.55L118.9 71.88L118.76 71.81L118.63 72.1L118.49 71.92L118.36 71.8L118.22 72.14L118.09 71.78L117.95 71.65L117.82 72L117.69 71.98L117.55 71.95L117.42 71.69L117.28 71.65L117.15 71.86L117.01 72.19L116.88 72.23L116.74 72.29L116.61 72.43L116.47 72.03L116.34 72.04L116.2 72.52L116.07 72.14L115.94 71.84L115.8 71.95L115.67 71.98L115.53 71.92L115.4 72.25L115.26 71.95L115.13 71.87L114.99 72.3L114.86 71.98L114.72 72.48L114.59 72.33L114.45 72.02L114.32 72.45L114.19 72.04L114.05 72.5L113.92 71.96L113.78 71.97L113.65 71.71L113.51 71.79L113.38 71.56L113.24 71.54L113.11 72.36L112.97 71.88L112.84 72.14L112.7 72.46L112.57 74.48L112.43 74.48L112.3 72.77L112.17 71.97L112.03 72.02L111.9 71.65L111.76 71.64L111.63 71.83L111.49 71.98L111.36 71.9L111.22 71.65L111.09 72.25L110.95 72.41L110.82 72.08L110.68 71.49L110.55 71.63L110.42 71.76L110.28 71.85L110.15 72.04L110.01 71.81L109.88 72L109.74 72.19L109.61 71.96L109.47 72.01L109.34 72.27L109.2 71.93L109.07 71.87L108.93 72.14L108.8 72.31L108.66 72.65L108.53 72.46L108.4 72.62L108.26 71.99L108.13 72.46L107.99 72.14L107.86 72.27L107.72 72.47L107.59 72.3L107.45 72.01L107.32 72.08L107.18 72.01L107.05 72.02L106.91 71.7L106.78 71.74L106.65 71.62L106.51 71.84L106.38 71.72L106.24 71.82L106.11 71.51L105.97 71.5L105.84 72.02L105.7 72.13L105.57 72.34L105.43 71.9L105.3 71.99L105.16 72.29L105.03 72L104.89 72.24L104.76 72.13L104.63 72.07L104.49 71.67L104.36 71.88L104.22 71.52L104.09 71.89L103.95 71.89L103.82 71.91L103.68 72.04L103.55 71.92L103.41 72.01L103.28 72.32L103.14 72.18L103.01 72.05L102.88 71.89L102.74 71.7L102.61 72.19L102.47 72.14L102.34 72.33L102.2 72.09L102.07 72.27L101.93 72.23L101.8 72.27L101.66 72.5L101.53 72.57L101.39 71.9L101.26 71.83L101.12 72.16L100.99 71.86L100.86 71.79L100.72 71.88L100.59 71.88L100.45 72.32L100.32 72.28L100.18 71.35L100.05 71.65L99.91 71.67L99.78 71.77L99.64 71.89L99.51 71.68L99.37 72.26L99.24 71.85L99.11 71.82L98.97 72.12L98.84 72.28L98.7 71.97L98.57 71.45L98.43 71.65L98.3 71.8L98.16 71.73L98.03 72.03L97.89 71.71L97.76 71.66L97.62 71.83L97.49 71.49L97.36 71.95L97.22 71.89L97.09 71.71L96.95 71.64L96.82 72.01L96.68 71.93L96.55 72.21L96.41 72.03L96.28 71.93L96.14 71.44L96.01 71.56L95.87 71.69L95.74 71.63L95.6 71.36L95.47 71.3L95.34 72.16L95.2 71.88L95.07 72.2L94.93 71.61L94.8 71.64L94.66 71.87L94.53 72.08L94.39 71.76L94.26 71.68L94.12 71.75L93.99 71.9L93.85 71.83L93.72 71.74L93.59 71.65L93.45 71.66L93.32 71.72L93.18 71.51L93.05 71.73L92.91 71.34L92.78 71.48L92.64 71.63L92.51 71.68L92.37 71.75L92.24 71.45L92.1 71.41L91.97 71.64L91.83 71.45L91.7 71.62L91.57 73.65L91.43 76.03L91.3 76.9L91.16 78.46L91.03 76.6L90.89 75.66L90.76 74.3L90.62 71.58L90.49 71.99L90.35 72.24L90.22 72.24L90.08 71.69L89.95 71.38L89.82 71.58L89.68 71.86L89.55 71.86L89.41 71.87L89.28 72.01L89.14 72.03L89.01 71.74L88.87 71.65L88.74 71.97L88.6 71.99L88.47 71.62L88.33 71.82L88.2 71.54L88.06 71.36L87.93 71.59L87.8 71.42L87.66 72L87.53 71.68L87.39 71.8L87.26 71.82L87.12 72.08L86.99 72.05L86.85 71.51L86.72 71.78L86.58 71.56L86.45 71.41L86.31 71.57L86.18 71.34L86.05 71.79L85.91 72.2L85.78 71.82L85.64 71.59L85.51 71.95L85.37 71.64L85.24 71.71L85.1 71.75L84.97 72.11L84.83 71.72L84.7 71.71L84.56 71.75L84.43 71.21L84.29 71.41L84.16 71.53L84.03 71.38L83.89 71.66L83.76 71.5L83.62 71.44L83.49 71.77L83.35 71.51L83.22 72.13L83.08 71.75L82.95 72.03L82.81 72.03L82.68 72.14L82.54 72.22L82.41 71.78L82.28 71.41L82.14 71.78L82.01 71.54L81.87 71.78L81.74 71.46L81.6 71.88L81.47 71.84L81.33 71.96L81.2 72.19L81.06 72.38L80.93 73.91L80.79 73.91L80.66 72.39L80.53 72.01L80.39 71.76L80.26 71.64L80.12 71.57L79.99 71.58L79.85 71.37L79.72 71.55L79.58 72L79.45 72.03L79.31 71.84L79.18 71.83L79.04 71.91L78.91 72.25L78.77 72.04L78.64 72.09L78.51 72.08L78.37 71.74L78.24 71.76L78.1 71.49L77.97 71.78L77.83 71.6L77.7 71.41L77.56 71.52L77.43 71.47L77.29 71.7L77.16 71.31L77.02 71.64L76.89 71.55L76.76 71.87L76.62 72.08L76.49 72.08L76.35 71.99L76.22 72.03L76.08 71.85L75.95 71.9L75.81 71.95L75.68 72.06L75.54 71.92L75.41 71.69L75.27 71.88L75.14 71.65L75 71.78L74.87 71.7L74.74 71.49L74.6 71.64L74.47 71.5L74.33 72.56L74.2 73.91L74.06 73.91L73.93 72.29L73.79 71.79L73.66 71.89L73.52 71.64L73.39 71.71L73.25 71.8L73.12 71.64L72.99 71.91L72.85 71.58L72.72 71.55L72.58 71.88L72.45 71.52L72.31 71.48L72.18 71.65L72.04 71.83L71.91 71.71L71.77 71.85L71.64 72.1L71.5 72.19L71.37 72.22L71.23 72.04L71.1 71.83L70.97 72.6L70.83 73.91L70.7 73.91L70.56 72.51L70.43 72.17L70.29 71.49L70.16 71.52L70.02 71.79L69.89 71.56L69.75 71.54L69.62 71.75L69.48 71.35L69.35 71.69L69.22 71.62L69.08 71.63L68.95 71.56L68.81 71.79L68.68 71.93L68.54 71.76L68.41 71.98L68.27 71.47L68.14 71.33L68 71.67L67.87 72.04L67.73 71.88L67.6 72.21L67.46 71.95L67.33 72.35L67.2 72.18L67.06 72.02L66.93 71.88L66.79 72.12L66.66 71.63L66.52 72.66L66.39 73.22L66.25 75.05L66.12 75.05L65.98 73.54L65.85 72.51L65.71 71.9L65.58 72L65.45 72.21L65.31 71.83L65.18 71.96L65.04 71.76L64.91 71.75L64.77 71.83L64.64 71.84L64.5 72.01L64.37 72.17L64.23 71.65L64.1 71.45L63.96 71.53L63.83 71.99L63.7 71.63L63.56 71.96L63.43 71.81L63.29 72.13L63.16 71.97L63.02 71.52L62.89 71.73L62.75 71.45L62.62 71.7L62.48 71.8L62.35 71.73L62.21 71.64L62.08 71.91L61.94 71.86L61.81 71.97L61.68 72.36L61.54 72.24L61.41 71.41L61.27 71.69L61.14 71.58L61 71.64L60.87 71.74L60.73 71.78L60.6 71.84L60.46 71.69L60.33 72.08L60.19 71.42L60.06 71.78L59.93 71.47L59.79 72.21L59.66 71.77L59.52 71.99L59.39 72.41L59.25 72.22L59.12 72.42L58.98 71.92L58.85 71.8L58.71 72.08L58.58 72.57L58.44 72.21L58.31 72.29L58.17 71.77L58.04 72.01L57.91 71.96L57.77 71.58L57.64 71.95L57.5 71.98L57.37 71.76L57.23 71.8L57.1 71.74L56.96 71.81L56.83 71.71L56.69 71.81L56.56 71.72L56.42 71.9L56.29 71.57L56.16 72.09L56.02 71.93L55.89 71.77L55.75 72.23L55.62 72.27L55.48 72.28L55.35 72.12L55.21 72.07L55.08 72.46L54.94 72.35L54.81 72.56L54.67 72.05L54.54 71.85L54.4 71.79L54.27 71.92L54.14 72.45L54 72.07L53.87 72.58L53.73 71.92L53.6 72.01L53.46 71.81L53.33 71.71L53.19 71.75L53.06 72.12L52.92 72.37L52.79 72.67L52.65 72.36L52.52 71.73L52.39 72.12L52.25 72L52.12 72.12L51.98 71.86L51.85 72.14L51.71 71.87L51.58 72.03L51.44 72.06L51.31 72.32L51.17 72.28L51.04 72.24L50.9 72.21L50.77 72.04L50.63 71.76L50.5 72.05L50.37 72.3L50.23 71.88L50.1 72.39L49.96 72.22L49.83 72.63L49.69 72.05L49.56 72.22L49.42 72.39L49.29 72.45L49.15 72.71L49.02 72.66L48.88 72.11L48.75 72.36L48.62 72.64L48.48 72.05L48.35 71.79L48.21 71.84L48.08 72.83L47.94 72.69L47.81 72.57L47.67 71.92L47.54 72.35L47.4 72.36L47.27 71.79L47.13 71.67L47 72.11L46.87 72.26L46.73 72.45L46.6 72.49L46.46 72.03L46.33 72.24L46.19 71.89L46.06 72.62L45.92 72.7L45.79 72.96L45.65 72.59L45.52 72.42L45.38 72.7L45.25 72.2L45.11 72.38L44.98 72.71L44.85 72.54L44.71 72.77L44.58 72.89L44.44 72.19L44.31 72.49L44.17 72.5L44.04 72.23L43.9 72.46L43.77 72.19L43.63 72.47L43.5 72.55L43.36 72.6L43.23 71.84L43.1 72.29L42.96 71.98L42.83 72.46L42.69 72.09L42.56 72.28L42.42 72.11L42.29 72.3L42.15 72.5L42.02 72.25L41.88 72.69L41.75 72.36L41.61 72.78L41.48 72.54L41.34 72.89L41.21 72.04L41.08 72.17L40.94 72.54L40.81 73.09L40.67 73.06L40.54 72.9L40.4 72.75L40.27 72.82L40.13 73L40 73.07L39.86 72.9L39.73 73.43L39.59 73.08L39.46 72.79L39.33 72.86L39.19 72.81L39.06 73.22L38.92 73.15L38.79 72.57L38.65 72.43L38.52 72.35Z" fill="#0072BD" stroke="#0072BD" stroke-width="0.7" stroke-linejoin="round"/>
<text transform="translate(32.75 141.3) scale(0.95 1)" text-anchor="middle" class="t">0</text>
<text transform="translate(70.41 141.3) scale(0.95 1)" text-anchor="middle" class="t">500</text>
<text transform="translate(105.57 141.3) scale(0.95 1)" text-anchor="middle" class="t">1000</text>
<text transform="translate(139.23 141.3) scale(0.95 1)" text-anchor="middle" class="t">1500</text>
<text transform="translate(172.89 141.3) scale(0.95 1)" text-anchor="middle" class="t">2000</text>
<text transform="translate(206.55 141.3) scale(0.95 1)" text-anchor="middle" class="t">2500</text>
<text transform="translate(240.21 141.3) scale(0.95 1)" text-anchor="middle" class="t">3000</text>
<text transform="translate(34.65 131.2) scale(0.95 1)" text-anchor="end" class="t">-50</text>
<text transform="translate(34.65 74.27) scale(0.95 1)" text-anchor="end" class="t">0</text>
<text transform="translate(34.65 17.35) scale(0.95 1)" text-anchor="end" class="t">50</text>
<text transform="translate(142.53 157.35) scale(1.0 1)" text-anchor="middle" class="l">Sampling time<tspan dx="-0.8"> (</tspan><tspan font-size="16" dx="1.0" dy="1.5">×</tspan><tspan dx="-1.8" dy="-1.5"> 10s)</tspan></text>
<text transform="translate(13.1 70.02) rotate(-90) scale(1.0 1)" text-anchor="middle" class="yl">Amplitude (g)</text>
<text x="137.6" y="182" text-anchor="middle" class="c">(<tspan font-weight="bold">a</tspan>)</text>
<rect x="329.6" y="13" width="210.45" height="113.85" fill="none" stroke="#333333" stroke-width="1"/>
<path d="M372.66 126.85v-2.4M372.66 13v2.4M415.72 126.85v-2.4M415.72 13v2.4M458.78 126.85v-2.4M458.78 13v2.4M501.84 126.85v-2.4M501.84 13v2.4M329.6 98.39h2.4M540.05 98.39h-2.4M329.6 69.92h2.4M540.05 69.92h-2.4M329.6 41.46h2.4M540.05 41.46h-2.4" stroke="#333333" stroke-width="1" fill="none"/>
<path d="M329.6 65.99L329.64 66.23L329.67 64.99L329.71 73.14L329.74 73.03L329.78 66.32L329.82 69.77L329.85 72.68L329.89 75.15L329.92 72.99L329.96 68.03L329.99 67.41L330.03 71.5L330.07 65.41L330.1 69.82L330.14 69.74L330.17 71.06L330.21 70.97L330.25 71.45L330.28 66.41L330.32 70.57L330.35 72.83L330.39 70.62L330.43 65.32L330.46 68.42L330.5 74.2L330.53 70.8L330.57 70.29L330.6 75.18L330.64 64.93L330.68 65.42L330.71 74.23L330.75 69.36L330.78 71.95L330.82 73.04L330.86 72.37L330.89 74.75L330.93 67.89L330.96 71.37L331 67.76L331.04 66.51L331.07 69.14L331.11 71.62L331.14 73.82L331.18 68.29L331.21 68.04L331.25 66.88L331.29 73.84L331.32 74.83L331.36 65.82L331.39 68.77L331.43 74.31L331.47 67.66L331.5 74.72L331.54 68.5L331.57 69.33L331.61 67.6L331.65 74.32L331.68 65.51L331.72 65.16L331.75 64.68L331.79 67.05L331.82 71.96L331.86 64.75L331.9 68.69L331.93 67.56L331.97 68.18L332 73.1L332.04 66.11L332.08 68.34L332.11 72.94L332.15 71.24L332.18 73.78L332.22 70.65L332.26 64.63L332.29 71.18L332.33 71.06L332.36 66.65L332.4 74.44L332.43 74.04L332.47 67.27L332.51 73.92L332.54 68.72L332.58 66.5L332.61 69.24L332.65 74.47L332.69 73.1L332.72 69.49L332.76 65.01L332.79 68.26L332.83 67.8L332.87 68.89L332.9 71.81L332.94 68.76L332.97 75.23L333.01 70.85L333.04 66.55L333.08 73.12L333.12 68.32L333.15 67.54L333.19 73.64L333.22 66.06L333.26 72.7L333.3 64.92L333.33 71.61L333.37 68.72L333.4 65.07L333.44 66.46L333.48 70.08L333.51 73.23L333.55 68.68L333.58 68.97L333.62 74.64L333.65 71.2L333.69 65.37L333.73 69.65L333.76 73.37L333.8 68.37L333.83 70.42L333.87 65.45L333.91 70.03L333.94 75.05L333.98 73.59L334.01 73.44L334.05 65.04L334.09 71.45L334.12 71.56L334.16 64.78L334.19 73.1L334.23 68.61L334.26 65.08L334.3 65.49L334.34 73.6L334.37 70.24L334.41 72.61L334.44 67.76L334.48 72.67L334.52 73.42L334.55 72.39L334.59 73.92L334.62 67.58L334.66 72.31L334.7 71.01L334.73 72.35L334.77 71.22L334.8 72.03L334.84 71.51L334.87 67.67L334.91 73.45L334.95 67.91L334.98 71.58L335.02 74.32L335.05 74.04L335.09 65.59L335.13 74.88L335.16 72.34L335.2 65.99L335.23 74.47L335.27 73.05L335.31 72.43L335.34 66.29L335.38 74.08L335.41 65.11L335.45 74.04L335.48 69.22L335.52 66.97L335.56 69.29L335.59 69.84L335.63 70.6L335.66 72.6L335.7 64.6L335.74 70.97L335.77 68.42L335.81 69.03L335.84 64.93L335.88 72.69L335.92 73.66L335.95 65.61L335.99 69.83L336.02 68.4L336.06 68.57L336.09 66.87L336.13 66.27L336.17 67.75L336.2 75.28L336.24 66.28L336.27 74.87L336.31 66.06L336.35 75.32L336.38 66.96L336.42 68.42L336.45 75.05L336.49 67.18L336.53 69.06L336.56 74.02L336.6 65.85L336.63 68.94L336.67 70.33L336.7 65.11L336.74 73.14L336.78 73.43L336.81 65.68L336.85 73.6L336.88 66.49L336.92 73.06L336.96 66.53L336.99 70.92L337.03 68.66L337.06 68.77L337.1 71.06L337.14 69.73L337.17 68.31L337.21 73.86L337.24 65.43L337.28 66.43L337.31 73.08L337.35 72.9L337.39 71.07L337.42 66.99L337.46 69.74L337.49 71.93L337.53 67.02L337.57 73.22L337.6 67.67L337.64 67.18L337.67 51.42L337.71 75.62L337.75 52.85L337.78 64.83L337.82 72.1L337.85 70.36L337.89 65.21L337.92 73.92L337.96 65.63L338 71.38L338.03 71.62L338.07 64.57L338.1 71.11L338.14 72.66L338.18 73.09L338.21 67.81L338.25 68.46L338.28 72.75L338.32 69.98L338.36 72.23L338.39 66.28L338.43 71.46L338.46 68.67L338.5 65.45L338.53 72.75L338.57 65.03L338.61 70.08L338.64 68.41L338.68 72.39L338.71 67.82L338.75 67.5L338.79 68.93L338.82 66L338.86 70.23L338.89 75.17L338.93 65.45L338.97 69.19L339 68.68L339.04 68.86L339.07 74.89L339.11 72.22L339.14 74.36L339.18 68.3L339.22 66.09L339.25 68.19L339.29 66.53L339.32 71.74L339.36 74.99L339.4 70.9L339.43 73.51L339.47 72.03L339.5 72.75L339.54 73.38L339.58 67.89L339.61 68.87L339.65 66.43L339.68 64.69L339.72 72.76L339.75 65.19L339.79 67.03L339.83 69.25L339.86 64.81L339.9 69.79L339.93 75.03L339.97 73.98L340.01 71.95L340.04 67.8L340.08 69.21L340.11 67.94L340.15 75.13L340.19 72.65L340.22 69.33L340.26 68.26L340.29 70.66L340.33 72.97L340.37 71.98L340.4 67.1L340.44 67.57L340.47 72.66L340.51 65.05L340.54 74.86L340.58 72.8L340.62 70.59L340.65 66.63L340.69 69.22L340.72 68.03L340.76 65.04L340.8 71.36L340.83 73.37L340.87 70.9L340.9 69.24L340.94 73.88L340.98 74.92L341.01 67.48L341.05 64.64L341.08 65.26L341.12 71.26L341.15 70.42L341.19 66.37L341.23 64.68L341.26 71.48L341.3 65.04L341.33 67.78L341.37 73.74L341.41 70.46L341.44 75.3L341.48 70.93L341.51 69.68L341.55 66.7L341.59 71.76L341.62 68.31L341.66 68.16L341.69 69.66L341.73 68.7L341.76 70.36L341.8 68.73L341.84 70.35L341.87 65.47L341.91 74.11L341.94 65.99L341.98 67.27L342.02 75.21L342.05 67.56L342.09 71.41L342.12 69.85L342.16 69.73L342.2 67.38L342.23 70.07L342.27 68.46L342.3 72.96L342.34 74.57L342.37 68.11L342.41 64.64L342.45 74.49L342.48 65.48L342.52 71.18L342.55 68.27L342.59 72.46L342.63 67.86L342.66 70.62L342.7 66.73L342.73 72.34L342.77 71.73L342.81 68.57L342.84 74.19L342.88 64.79L342.91 68.76L342.95 64.82L342.98 73.41L343.02 67.66L343.06 73.15L343.09 74.43L343.13 70.54L343.16 70.24L343.2 69.3L343.24 70.29L343.27 73.22L343.31 67.96L343.34 72.46L343.38 72.19L343.42 66.88L343.45 67.96L343.49 67.47L343.52 65.36L343.56 66.11L343.59 72.96L343.63 64.78L343.67 69.71L343.7 69.29L343.74 72.32L343.77 71.14L343.81 57.12L343.85 85.58L343.88 59.68L343.92 80.88L343.95 67.85L343.99 67.42L344.03 68.64L344.06 74.53L344.1 69.24L344.13 71.5L344.17 67.6L344.2 67.64L344.24 69.9L344.28 67.42L344.31 73.78L344.35 66.51L344.38 64.85L344.42 65.59L344.46 66.55L344.49 70.95L344.53 65.25L344.56 69.25L344.6 73.01L344.64 69.47L344.67 66.13L344.71 68L344.74 66.32L344.78 74.95L344.81 64.84L344.85 65.35L344.89 69.89L344.92 65.35L344.96 73.37L344.99 71.38L345.03 73.5L345.07 68.09L345.1 65.41L345.14 65.26L345.17 74.47L345.21 67.02L345.25 69.29L345.28 72.94L345.32 65.65L345.35 69.61L345.39 74.88L345.42 71.27L345.46 67.95L345.5 66.13L345.53 73.18L345.57 68.93L345.6 74.4L345.64 65.47L345.68 75.23L345.71 64.83L345.75 55.69L345.78 87L345.82 58.54L345.86 81.88L345.89 70.59L345.93 73.08L345.96 72.23L346 74.31L346.03 72.43L346.07 68.26L346.11 69.37L346.14 69.19L346.18 69.61L346.21 65.1L346.25 66.14L346.29 72.48L346.32 69.31L346.36 64.85L346.39 72.44L346.43 67.75L346.47 68.33L346.5 68.09L346.54 69.32L346.57 67.32L346.61 71.27L346.64 65.2L346.68 69.2L346.72 71.68L346.75 68.42L346.79 67.92L346.82 65.39L346.86 68.45L346.9 69.68L346.93 71.51L346.97 70.73L347 72.23L347.04 68.62L347.08 66.02L347.11 68.92L347.15 73.14L347.18 74.94L347.22 65.84L347.25 72.14L347.29 67.88L347.33 65.11L347.36 65.17L347.4 69.33L347.43 65.46L347.47 70.98L347.51 65.16L347.54 67.99L347.58 74.46L347.61 66.55L347.65 73.6L347.69 64.55L347.72 74.8L347.76 67.15L347.79 73.68L347.83 69.49L347.86 71.31L347.9 65.87L347.94 72.37L347.97 67.54L348.01 65.16L348.04 74.64L348.08 67.61L348.12 74.43L348.15 66.91L348.19 66.06L348.22 73.83L348.26 65.77L348.3 70.59L348.33 72L348.37 64.89L348.4 71.18L348.44 73.06L348.47 71.77L348.51 65.55L348.55 59.96L348.58 81.31L348.62 61.96L348.65 77.89L348.69 66.25L348.73 75.23L348.76 66.73L348.8 64.81L348.83 70.95L348.87 70.6L348.91 64.97L348.94 70.93L348.98 71.26L349.01 66.04L349.05 70.21L349.08 68.34L349.12 72.24L349.16 67.98L349.19 71.35L349.23 66.86L349.26 70.01L349.3 65.39L349.34 69.41L349.37 66.06L349.41 70.57L349.44 68.09L349.48 72.44L349.52 68.99L349.55 68.16L349.59 73.27L349.62 69.45L349.66 65.36L349.69 73.15L349.73 70.05L349.77 66.28L349.8 70.72L349.84 75.01L349.87 69.65L349.91 70.33L349.95 65.3L349.98 68.15L350.02 66.93L350.05 71.35L350.09 65.64L350.13 66.37L350.16 74.35L350.2 68.19L350.23 65.55L350.27 68.3L350.3 64.83L350.34 72.51L350.38 68.98L350.41 69.56L350.45 72.14L350.48 66.88L350.52 70.67L350.56 68.31L350.59 66.87L350.63 67.47L350.66 74.25L350.7 74.74L350.74 66.46L350.77 68.3L350.81 73.73L350.84 73.93L350.88 69.95L350.91 73.41L350.95 65.27L350.99 72.91L351.02 65.13L351.06 67.59L351.09 69.32L351.13 55.69L351.17 79.89L351.2 58.54L351.24 76.9L351.27 74.62L351.31 74.81L351.35 65.13L351.38 66.13L351.42 67.18L351.45 74.21L351.49 68.59L351.52 67.6L351.56 70.68L351.6 71.25L351.63 67.48L351.67 75.22L351.7 70.24L351.74 72.56L351.78 70.53L351.81 69.36L351.85 70.79L351.88 65.85L351.92 65.79L351.96 67.12L351.99 66.74L352.03 69.92L352.06 72.4L352.1 66.51L352.13 74.07L352.17 68.91L352.21 68.48L352.24 74.15L352.28 73.12L352.31 68.06L352.35 66.06L352.39 71.11L352.42 69.59L352.46 67.67L352.49 69.04L352.53 70.33L352.57 68.43L352.6 67.65L352.64 66.67L352.67 69.26L352.71 68.18L352.74 64.44L352.78 78.86L352.82 66.57L352.85 72.91L352.89 70.61L352.92 65.76L352.96 73.75L353 67.99L353.03 72.65L353.07 68.56L353.1 66.5L353.14 66.46L353.18 66.92L353.21 69.73L353.25 69.45L353.28 73.47L353.32 74.07L353.35 67.24L353.39 74.77L353.43 65.24L353.46 73.32L353.5 67.54L353.53 70.49L353.57 68.71L353.61 67.15L353.64 65.74L353.68 79.17L353.71 57.12L353.75 82.73L353.79 59.68L353.82 78.89L353.86 64.85L353.89 71.14L353.93 72.73L353.96 69.29L354 65.37L354.04 65.32L354.07 69.08L354.11 71.09L354.14 67.25L354.18 69.29L354.22 66.43L354.25 66.32L354.29 67.74L354.32 64.81L354.36 68.32L354.4 56.81L354.43 80.65L354.47 72.97L354.5 68.54L354.54 67.03L354.57 70.76L354.61 73.52L354.65 71.53L354.68 66.88L354.72 73.09L354.75 75.21L354.79 65.83L354.83 64.82L354.86 65.93L354.9 66.67L354.93 67.44L354.97 69.37L355.01 68.28L355.04 67.26L355.08 71.78L355.11 73.11L355.15 67.83L355.18 68.81L355.22 64.62L355.26 70.85L355.29 70.85L355.33 74.01L355.36 75.17L355.4 73.83L355.44 68.93L355.47 64.91L355.51 74.11L355.54 73.6L355.58 67.96L355.62 72.07L355.65 58.54L355.69 84.16L355.72 60.82L355.76 79.89L355.79 67.17L355.83 66.9L355.87 65L355.9 68.92L355.94 73.73L355.97 74.46L356.01 68.38L356.05 69.54L356.08 72.64L356.12 73.55L356.15 71.54L356.19 64.49L356.23 80.52L356.26 64.49L356.3 67.19L356.33 70.34L356.37 66.16L356.4 69.9L356.44 72.19L356.48 65.34L356.51 68.29L356.55 66.22L356.58 72.81L356.62 64.81L356.66 68.46L356.69 71.28L356.73 72.62L356.76 74.26L356.8 74.98L356.84 73.21L356.87 71.98L356.91 69.59L356.94 71.03L356.98 74.84L357.01 73.77L357.05 75.13L357.09 74.9L357.12 72.12L357.16 68.43L357.19 73.67L357.23 65.78L357.27 64.65L357.3 68.68L357.34 74.81L357.37 73.37L357.41 69.81L357.45 65.22L357.48 64.71L357.52 67.36L357.55 65.7L357.59 74.28L357.62 69.85L357.66 70.16L357.7 72.99L357.73 69.23L357.77 69.24L357.8 64.83L357.84 74.61L357.88 72.1L357.91 73.48L357.95 72.92L357.98 71.89L358.02 71.34L358.06 64.98L358.09 71.78L358.13 70.1L358.16 73.54L358.2 57.75L358.23 82.6L358.27 49.64L358.31 61.57L358.34 80.44L358.38 69.67L358.41 51.81L358.45 81.13L358.49 74.78L358.52 70.88L358.56 64.64L358.59 73.52L358.63 74.85L358.67 70.08L358.7 68.51L358.74 71.2L358.77 72.95L358.81 67.86L358.84 68.95L358.88 71.58L358.92 68.67L358.95 66.25L358.99 69.77L359.02 71.14L359.06 68.67L359.1 69.87L359.13 74.26L359.17 65.56L359.2 73.99L359.24 67.3L359.28 70.65L359.31 65.25L359.35 80.51L359.38 66.46L359.42 70.25L359.45 72.66L359.49 67L359.53 66.38L359.56 69.9L359.6 52.23L359.63 89.24L359.67 65.25L359.71 58.52L359.74 82.26L359.78 50.91L359.81 82.26L359.85 58.52L359.89 69.32L359.92 65.66L359.96 68.06L359.99 72.21L360.03 72.21L360.06 65.1L360.1 68.07L360.14 61.28L360.17 77.72L360.21 58.04L360.24 75.6L360.28 70.29L360.32 68.11L360.35 62.64L360.39 77.54L360.42 57.79L360.46 77.54L360.5 62.64L360.53 66.46L360.57 68.02L360.6 70.23L360.64 66.04L360.67 73.08L360.71 75.27L360.75 66.55L360.78 68.44L360.82 71.69L360.85 69.07L360.89 74.45L360.93 71.95L360.96 69.18L361 66.2L361.03 71.91L361.07 74.67L361.11 74.38L361.14 72.02L361.18 68.56L361.21 67.71L361.25 67.82L361.28 65.87L361.32 67.96L361.36 68.08L361.39 68.91L361.43 68.12L361.46 67.43L361.5 64.78L361.54 73.39L361.57 63.99L361.61 74.79L361.64 60.03L361.68 74.79L361.72 66.07L361.75 81.42L361.79 63.51L361.82 81.42L361.86 66.07L361.9 69.05L361.93 65.01L361.97 67.9L362 68.14L362.04 69.33L362.07 71.87L362.11 66.96L362.15 71.13L362.18 71.69L362.22 69.41L362.25 64.79L362.29 67.39L362.33 68.04L362.36 73.95L362.4 66.59L362.43 70.76L362.47 68.54L362.51 69.27L362.54 66.84L362.58 74.99L362.61 74.28L362.65 72.29L362.68 73.14L362.72 67.96L362.76 74.07L362.79 74.33L362.83 69.6L362.86 74.62L362.9 66.74L362.94 71.77L362.97 72.06L363.01 68.87L363.04 64.77L363.08 72.27L363.12 72.89L363.15 71.35L363.19 66.91L363.22 65.24L363.26 73.67L363.29 75.01L363.33 72.03L363.37 71.86L363.4 67.25L363.44 67.97L363.47 67.25L363.51 71.08L363.55 70.7L363.58 65.15L363.62 74.81L363.65 75.1L363.69 75.15L363.73 66.5L363.76 69.73L363.8 67.82L363.83 68.26L363.87 61.28L363.9 84.61L363.94 55.51L363.98 84.61L364.01 61.31L364.05 86.18L364.08 58.08L364.12 81.75L364.16 72.25L364.19 69.8L364.23 70.26L364.26 68.79L364.3 65.09L364.34 62.1L364.37 84.49L364.41 62.1L364.44 52.33L364.48 85.88L364.51 45.73L364.55 81.53L364.59 69.45L364.62 64.95L364.66 67.55L364.69 74.99L364.73 64.69L364.77 69.49L364.8 69.06L364.84 65.11L364.87 69.01L364.91 72.95L364.95 70.69L364.98 67.23L365.02 71.04L365.05 73.51L365.09 71.12L365.12 65.88L365.16 81.59L365.2 65.88L365.23 61.86L365.27 84.9L365.3 56.49L365.34 56.4L365.38 88.79L365.41 47.39L365.45 88.79L365.48 56.4L365.52 72.49L365.56 69.98L365.59 70.51L365.63 69.02L365.66 69.16L365.7 65.4L365.73 68.58L365.77 71.53L365.81 66.74L365.84 73.59L365.88 66.95L365.91 69.09L365.95 72.52L365.99 67.19L366.02 63.98L366.06 77.47L366.09 63.98L366.13 69.87L366.17 68.51L366.2 71.93L366.24 69.07L366.27 64.73L366.31 64.53L366.34 67.54L366.38 72.06L366.42 70.18L366.45 66.59L366.49 65.74L366.52 65.04L366.56 71.14L366.6 71.68L366.63 71.7L366.67 66.84L366.7 64.98L366.74 69.24L366.78 70.54L366.81 68.13L366.85 70.77L366.88 64.86L366.92 78.23L366.95 61.49L366.99 78.23L367.03 64.86L367.06 73.69L367.1 64.9L367.13 67.8L367.17 71.13L367.21 64.61L367.24 74.18L367.28 71.56L367.31 65.77L367.35 64.59L367.39 77.43L367.42 61.03L367.46 59.9L367.49 84.87L367.53 56.14L367.56 80.8L367.6 75.31L367.64 74.28L367.67 74.19L367.71 67.64L367.74 68.54L367.78 73L367.82 70.9L367.85 65.04L367.89 73.06L367.92 74.6L367.96 68.34L368 74.17L368.03 69.31L368.07 72.58L368.1 74.98L368.14 55.63L368.17 91.22L368.21 46.1L368.25 63.29L368.28 82.77L368.32 60.8L368.35 62.36L368.39 82.09L368.43 62.36L368.46 59.41L368.5 80.39L368.53 74.45L368.57 66.31L368.61 69.55L368.64 74.95L368.68 73.7L368.71 68.24L368.75 69.28L368.78 72.72L368.82 72.18L368.86 65.3L368.89 67.36L368.93 68.17L368.96 65.34L369 72.83L369.04 71.77L369.07 66.27L369.11 62.43L369.14 83.61L369.18 66.58L369.22 61.26L369.25 84.57L369.29 61.26L369.32 70.5L369.36 67.7L369.39 72.89L369.43 72.59L369.47 73.12L369.5 67.96L369.54 65.08L369.57 67.16L369.61 72.45L369.65 68.19L369.68 71.54L369.72 66.42L369.75 64.64L369.79 80.63L369.83 61.11L369.86 80.63L369.9 64.64L369.93 71.66L369.97 70.38L370 68.22L370.04 65.29L370.08 62.93L370.11 85.79L370.15 62.93L370.18 73.49L370.22 68.94L370.26 64.83L370.29 86.69L370.33 62.91L370.36 82.12L370.4 66.16L370.44 68.09L370.47 69.66L370.51 65.21L370.54 73.91L370.58 71.98L370.61 69.84L370.65 64.89L370.69 74.48L370.72 68.82L370.76 65.39L370.79 73.77L370.83 67.72L370.87 67.86L370.9 71.44L370.94 69.54L370.97 65.22L371.01 70.27L371.05 70.4L371.08 66.44L371.12 80.48L371.15 64.12L371.19 80.48L371.22 66.44L371.26 64.83L371.3 66.48L371.33 65.65L371.37 68.68L371.4 72.03L371.44 68.8L371.48 67.99L371.51 73.8L371.55 66.95L371.58 72.05L371.62 69.79L371.66 72.45L371.69 72.28L371.73 65.85L371.76 67L371.8 74.66L371.83 66.99L371.87 65.33L371.91 67.72L371.94 67.85L371.98 72.48L372.01 67.77L372.05 71.23L372.09 65.35L372.12 67.71L372.16 71.84L372.19 65.78L372.23 66.96L372.27 73.16L372.3 73.01L372.34 75.19L372.37 67L372.41 74.4L372.44 72.35L372.48 67.37L372.52 72.03L372.55 72.24L372.59 74.62L372.62 74.79L372.66 69.15L372.7 73.83L372.73 64.91L372.77 75.05L372.8 71.92L372.84 73.34L372.88 65.61L372.91 67.21L372.95 74.13L372.98 74.73L373.02 74.43L373.05 67.33L373.09 67.25L373.13 68.49L373.16 70.04L373.2 70.33L373.23 68.89L373.27 74.16L373.31 65.68L373.34 77.54L373.38 62.86L373.41 77.54L373.45 65.68L373.49 64.73L373.52 65.07L373.56 65.18L373.59 80.17L373.63 63.41L373.66 63.98L373.7 88.6L373.74 61.75L373.77 83.51L373.81 74.47L373.84 71.07L373.88 66.21L373.92 70.14L373.95 69.32L373.99 69.27L374.02 65.13L374.06 73.16L374.1 67.96L374.13 70.47L374.17 72.79L374.2 74.81L374.24 68.73L374.27 73.35L374.31 69.03L374.35 70.68L374.38 70.95L374.42 64.91L374.45 81.06L374.49 63.03L374.53 61.44L374.56 77.17L374.6 55.78L374.63 61.93L374.67 76.59L374.71 58.94L374.74 74.77L374.78 69.72L374.81 69.37L374.85 74.56L374.88 66.59L374.92 71.24L374.96 73.06L374.99 73.09L375.03 64.68L375.06 65.13L375.1 70.26L375.14 72.4L375.17 67.67L375.21 74.76L375.24 66.04L375.28 75.27L375.32 74.8L375.35 71.72L375.39 70.4L375.42 75.28L375.46 72.24L375.49 64.69L375.53 66.96L375.57 74.7L375.6 65.85L375.64 70.3L375.67 64.63L375.71 71.86L375.75 71.99L375.78 64.68L375.82 77.52L375.85 61.18L375.89 77.52L375.93 64.68L375.96 71.95L376 62.2L376.03 90.37L376.07 62.2L376.1 68.19L376.14 72.84L376.18 67.7L376.21 73.44L376.25 73.8L376.28 69.88L376.32 73.47L376.36 73.95L376.39 68.93L376.43 64.78L376.46 74.73L376.5 70.53L376.54 74.36L376.57 69.51L376.61 69.12L376.64 70.03L376.68 74.91L376.71 67.75L376.75 69.84L376.79 69.13L376.82 68.11L376.86 65.53L376.89 70.63L376.93 65.46L376.97 73.43L377 70.43L377.04 73.42L377.07 71.31L377.11 65.56L377.15 64.79L377.18 70.22L377.22 72.34L377.25 71.84L377.29 65.58L377.32 70.59L377.36 73.19L377.4 66.3L377.43 69.82L377.47 70.71L377.5 65.56L377.54 67.26L377.58 75.18L377.61 64.88L377.65 70.42L377.68 73.39L377.72 65.49L377.76 70.8L377.79 67.93L377.83 67.21L377.86 73.23L377.9 64.7L377.93 69.25L377.97 74.72L378.01 69.53L378.04 75.13L378.08 64.74L378.11 68.13L378.15 71.23L378.19 66.69L378.22 66.74L378.26 67.76L378.29 72.79L378.33 74.33L378.37 66.07L378.4 65.72L378.44 71.6L378.47 58.33L378.51 88.68L378.54 50.6L378.58 88.68L378.62 58.33L378.65 67.66L378.69 68.79L378.72 74.36L378.76 74.55L378.8 73.74L378.83 69.96L378.87 68.54L378.9 64.56L378.94 65.59L378.98 67.34L379.01 71.19L379.05 71.61L379.08 67.79L379.12 71.59L379.15 67.05L379.19 67.45L379.23 74.04L379.26 66.64L379.3 74.32L379.33 71.9L379.37 64.79L379.41 68.29L379.44 66.07L379.48 65.31L379.51 72.47L379.55 66.73L379.59 71.31L379.62 74.63L379.66 74.18L379.69 73.97L379.73 68.5L379.76 68.39L379.8 66.17L379.84 72.14L379.87 61.26L379.91 84.21L379.94 58.01L379.98 80.31L380.02 71.09L380.05 64.54L380.09 71.91L380.12 72.76L380.16 65.82L380.2 65.89L380.23 73.57L380.27 71.68L380.3 69.82L380.34 74.62L380.37 71.32L380.41 67L380.45 67.02L380.48 73.72L380.52 72.05L380.55 72.43L380.59 67.93L380.63 73.91L380.66 64.67L380.7 74.08L380.73 69.61L380.77 67.73L380.81 65.08L380.84 68.69L380.88 66.08L380.91 69.59L380.95 72.94L380.98 70.78L381.02 68.77L381.06 69.59L381.09 66.87L381.13 69.5L381.16 71.19L381.2 69.76L381.24 69.71L381.27 75.22L381.31 71.78L381.34 69.14L381.38 67.63L381.42 70.71L381.45 67.26L381.49 69.89L381.52 71.34L381.56 66.47L381.59 81.95L381.63 66.47L381.67 67.44L381.7 72.95L381.74 67.7L381.77 69.87L381.81 65.33L381.85 75.27L381.88 66.97L381.92 70.29L381.95 66.08L381.99 68.78L382.03 75.25L382.06 67.85L382.1 69.57L382.13 72.75L382.17 74.01L382.2 71.03L382.24 69.27L382.28 70.16L382.31 75.15L382.35 73.73L382.38 67.97L382.42 69.43L382.46 67.3L382.49 70.85L382.53 72.55L382.56 66.7L382.6 72.97L382.64 74.68L382.67 65.8L382.71 87.16L382.74 65.8L382.78 65L382.81 72.83L382.85 74.01L382.89 68.18L382.92 73.78L382.96 72.31L382.99 70.86L383.03 72.37L383.07 68.26L383.1 73.82L383.14 68.37L383.17 74.08L383.21 69.06L383.25 64.75L383.28 64.18L383.32 79.53L383.35 64.18L383.39 73.62L383.43 71.33L383.46 66.94L383.5 73.91L383.53 68.15L383.57 71.85L383.6 65.41L383.64 71.54L383.68 71.84L383.71 72.39L383.75 69.49L383.78 65.03L383.82 69.49L383.86 67.31L383.89 69.7L383.93 74.44L383.96 68.99L384 68.9L384.04 68.88L384.07 72.1L384.11 72.45L384.14 71.77L384.18 75L384.21 73.59L384.25 72.23L384.29 69.79L384.32 65.47L384.36 67.75L384.39 69.75L384.43 59.34L384.47 78.11L384.5 74.82L384.54 67.91L384.57 67.7L384.61 68.25L384.65 66.11L384.68 60.34L384.72 82.03L384.75 60.34L384.79 64.52L384.82 68.97L384.86 68.92L384.9 68.7L384.93 72.41L384.97 72.06L385 65.85L385.04 68.84L385.08 64.94L385.11 73.08L385.15 69L385.18 68.84L385.22 74.93L385.26 68.56L385.29 58.41L385.33 81.59L385.36 58.41L385.4 68.9L385.43 68.05L385.47 65.69L385.51 66.23L385.54 64.73L385.58 64.78L385.61 67.76L385.65 72.3L385.69 69.49L385.72 74.43L385.76 69.21L385.79 72.03L385.83 69.53L385.87 67.22L385.9 74.68L385.94 65.86L385.97 74.92L386.01 70.03L386.04 72.97L386.08 74.91L386.12 70.14L386.15 72.5L386.19 74.47L386.22 66.42L386.26 72.68L386.3 65.19L386.33 68.75L386.37 71.49L386.4 74.68L386.44 66.08L386.48 74.16L386.51 66.94L386.55 69.62L386.58 70.41L386.62 74.46L386.65 70.79L386.69 75.15L386.73 67.08L386.76 67.68L386.8 73.86L386.83 69.82L386.87 73.41L386.91 67.63L386.94 73.29L386.98 73.46L387.01 72.26L387.05 64.82L387.09 66.48L387.12 70.97L387.16 66.74L387.19 71.42L387.23 73.3L387.26 65.63L387.3 74.94L387.34 66.75L387.37 64.95L387.41 74.42L387.44 66.04L387.48 66.9L387.52 74.87L387.55 70.53L387.59 72.52L387.62 71.18L387.66 71.2L387.7 71.07L387.73 75.23L387.77 72.4L387.8 72.2L387.84 68.31L387.87 67.81L387.91 63.94L387.95 76.28L387.98 63.94L388.02 69.32L388.05 71.94L388.09 74.9L388.13 67.47L388.16 69.25L388.2 73.57L388.23 69.8L388.27 65.12L388.31 68.78L388.34 71.99L388.38 66.61L388.41 71.06L388.45 75.17L388.48 74.47L388.52 64.93L388.56 74.32L388.59 66.86L388.63 75L388.66 70.75L388.7 72.28L388.74 71.61L388.77 74.35L388.81 70.98L388.84 67.12L388.88 69.66L388.92 73.9L388.95 66.62L388.99 65.91L389.02 70.4L389.06 71.45L389.09 75.14L389.13 74.57L389.17 71.27L389.2 74.11L389.24 64.85L389.27 68.37L389.31 71.95L389.35 69.01L389.38 73.51L389.42 65.41L389.45 69.92L389.49 67.77L389.53 73.36L389.56 70.21L389.6 67.61L389.63 71.14L389.67 74.63L389.7 58.95L389.74 84.25L389.78 70.33L389.81 64.74L389.85 69.28L389.88 65.79L389.92 74.98L389.96 68.5L389.99 69.81L390.03 71.46L390.06 65.58L390.1 74.34L390.14 70.08L390.17 58.91L390.21 86.95L390.24 51.57L390.28 58.64L390.31 75.66L390.35 75.08L390.39 73.39L390.42 65.29L390.46 65.89L390.49 66.68L390.53 71L390.57 63.74L390.6 78.03L390.64 61.42L390.67 75.82L390.71 62.34L390.75 80.91L390.78 57.29L390.82 80.91L390.85 62.34L390.89 63.89L390.92 76.8L390.96 61.63L391 74.92L391.03 68.43L391.07 64.74L391.1 70.18L391.14 65.62L391.18 65.7L391.21 64.69L391.25 71.44L391.28 70.2L391.32 75.1L391.36 71.18L391.39 71.51L391.43 73.99L391.46 66.33L391.5 72.31L391.53 73.92L391.57 74.08L391.61 75.07L391.64 53.14L391.68 90.06L391.71 53.14L391.75 70.86L391.79 64.91L391.82 71.24L391.86 70.2L391.89 67.87L391.93 65.28L391.97 66.42L392 81.39L392.04 66.42L392.07 64.05L392.11 76.08L392.14 64.05L392.18 66.62L392.22 65.03L392.25 61.59L392.29 80.39L392.32 66.26L392.36 65.83L392.4 66.88L392.43 74.49L392.47 73.08L392.5 74.03L392.54 70.29L392.58 74.62L392.61 69.38L392.65 65.34L392.68 64.72L392.72 74.93L392.75 67.95L392.79 73.79L392.83 66.01L392.86 75L392.9 61.63L392.93 80.63L392.97 75.28L393.01 68.17L393.04 73.11L393.08 67.55L393.11 62.35L393.15 78.81L393.19 62.35L393.22 57.35L393.26 94.61L393.29 57.35L393.33 67.62L393.36 75.23L393.4 72.11L393.44 67.53L393.47 74.84L393.51 66.06L393.54 65.47L393.58 67.12L393.62 62.79L393.65 81.86L393.69 58.03L393.72 64.65L393.76 79.08L393.8 64.65L393.83 61.86L393.87 83.69L393.9 56.49L393.94 66.06L393.97 86.16L394.01 66.06L394.05 66.85L394.08 66.7L394.12 66.2L394.15 62.96L394.19 78.91L394.23 62.96L394.26 50.17L394.3 84.01L394.33 69.66L394.37 68.12L394.41 67.8L394.44 68.1L394.48 72.79L394.51 75.08L394.55 65.03L394.58 65.62L394.62 69.87L394.66 62L394.69 78.03L394.73 70.38L394.76 60.94L394.8 77.29L394.84 72.96L394.87 74.33L394.91 64.94L394.94 66.16L394.98 73.4L395.02 66.44L395.05 65.55L395.09 78.85L395.12 62.64L395.16 78.85L395.19 65.55L395.23 73.6L395.27 68.94L395.3 68.7L395.34 62.34L395.37 81.91L395.41 59.49L395.45 78.64L395.48 72.47L395.52 68.4L395.55 73.33L395.59 65.49L395.63 68.32L395.66 66.8L395.7 71.65L395.73 70.7L395.77 72.61L395.8 72.62L395.84 70.84L395.88 66.82L395.91 69.89L395.95 66.32L395.98 74.12L396.02 72.21L396.06 74.94L396.09 65.45L396.13 74.65L396.16 69.47L396.2 68.05L396.24 73.13L396.27 65.84L396.31 78.1L396.34 64.31L396.38 75.87L396.41 63.14L396.45 74.14L396.49 60.6L396.52 59.33L396.56 81.95L396.59 59.33L396.63 71.95L396.67 67.25L396.7 70.47L396.74 64.78L396.77 70.17L396.81 75.21L396.85 66.9L396.88 78.65L396.92 65.77L396.95 60.97L396.99 77.6L397.02 67.34L397.06 65.54L397.1 64.5L397.13 80.25L397.17 62.46L397.2 64.12L397.24 90.12L397.28 64.12L397.31 62.07L397.35 78.99L397.38 62.07L397.42 72.04L397.46 71.96L397.49 73.26L397.53 69.03L397.56 74.33L397.6 72.65L397.63 73.49L397.67 67.69L397.71 72.3L397.74 74.25L397.78 59.94L397.81 83.17L397.85 56.2L397.89 79.55L397.92 71.59L397.96 69.29L397.99 74.58L398.03 66.27L398.07 77.24L398.1 65.46L398.14 68.2L398.17 67.07L398.21 73.06L398.24 65.68L398.28 69.54L398.32 70.86L398.35 73.25L398.39 73.48L398.42 66L398.46 64.85L398.5 70.81L398.53 67.51L398.57 67.78L398.6 69.99L398.64 70.14L398.68 69.35L398.71 71.58L398.75 67.27L398.78 70.81L398.82 69.88L398.85 73.37L398.89 64.78L398.93 74.49L398.96 67.58L399 68.19L399.03 71.61L399.07 64.77L399.11 74.94L399.14 72.38L399.18 71.68L399.21 68.39L399.25 59.92L399.29 76.66L399.32 56.16L399.36 64.55L399.39 78.43L399.43 62.54L399.46 76.11L399.5 69.63L399.54 61.6L399.57 99.81L399.61 61.6L399.64 70.51L399.68 71.69L399.72 71.23L399.75 68.29L399.79 71.7L399.82 66.13L399.86 71.42L399.9 70.63L399.93 70.65L399.97 65.56L400 68.79L400.04 62.28L400.07 75.83L400.11 59.41L400.15 55.87L400.18 96.22L400.22 50.6L400.25 64.02L400.29 77.74L400.33 60.08L400.36 77.74L400.4 64.02L400.43 73.64L400.47 73.81L400.51 68.58L400.54 71.63L400.58 75.02L400.61 73.5L400.65 73.49L400.68 73.24L400.72 70.42L400.76 65.49L400.79 69.04L400.83 67.33L400.86 74.19L400.9 67.84L400.94 65.98L400.97 64.57L401.01 67.63L401.04 68.77L401.08 64.93L401.12 73.94L401.15 66.76L401.19 67.55L401.22 67.48L401.26 64.27L401.29 78.26L401.33 60.5L401.37 78.26L401.4 64.27L401.44 65.07L401.47 74.01L401.51 66.53L401.55 70.17L401.58 72.15L401.62 72.58L401.65 71.51L401.69 71.35L401.73 72.89L401.76 72.96L401.8 64.83L401.83 70.78L401.87 68.59L401.9 67.73L401.94 71.74L401.98 65.22L402.01 72.15L402.05 73.26L402.08 74.85L402.12 72.49L402.16 74.67L402.19 68.55L402.23 69.11L402.26 75.09L402.3 65.06L402.34 67.45L402.37 69.38L402.41 65.11L402.44 69.6L402.48 73.43L402.51 66.9L402.55 65L402.59 74.68L402.62 69.88L402.66 72.88L402.69 65.56L402.73 74.3L402.77 66.61L402.8 73.1L402.84 68.4L402.87 67.85L402.91 67.11L402.95 74.76L402.98 70.11L403.02 73.97L403.05 73.96L403.09 73.58L403.12 73.73L403.16 65.22L403.2 69.27L403.23 72.59L403.27 70.08L403.3 58.28L403.34 87.94L403.38 53.91L403.41 83.02L403.45 68.67L403.48 65.35L403.52 78.95L403.56 66.31L403.59 70.3L403.63 67.14L403.66 61.04L403.7 79.77L403.73 61.04L403.77 64.62L403.81 75.19L403.84 66.72L403.88 63.35L403.91 82.8L403.95 60.89L403.99 79.29L404.02 67.67L404.06 68.42L404.09 65.04L404.13 74.06L404.17 65.32L404.2 69.69L404.24 67.68L404.27 68.11L404.31 71.1L404.34 69.64L404.38 64.81L404.42 70.05L404.45 63.35L404.49 80.7L404.52 60.88L404.56 77.76L404.6 64.03L404.63 77.06L404.67 61.82L404.7 75.11L404.74 71.21L404.78 74.28L404.81 66.25L404.85 66.94L404.88 66.31L404.92 66.48L404.96 72.49L404.99 68.58L405.03 70.3L405.06 71.11L405.1 70.89L405.13 68.05L405.17 64.54L405.21 70.22L405.24 71.37L405.28 68.54L405.31 68.53L405.35 70.93L405.39 68.35L405.42 68.23L405.46 67.26L405.49 73.53L405.53 68.27L405.57 70.81L405.6 65.82L405.64 68.64L405.67 66.56L405.71 66.57L405.74 73.03L405.78 74.49L405.82 67.12L405.85 74.73L405.89 65.08L405.92 67.87L405.96 70.75L406 68.08L406.03 73.91L406.07 68.43L406.1 65.38L406.14 75.33L406.18 65.19L406.21 71.97L406.25 71.04L406.28 65.17L406.32 66.72L406.35 71.17L406.39 64.74L406.43 74.98L406.46 61.03L406.5 85.14L406.53 55.1L406.57 85.14L406.61 61.03L406.64 70.16L406.68 74.54L406.71 68.35L406.75 66.17L406.79 65.53L406.82 73.77L406.86 69.86L406.89 64.68L406.93 74.56L406.96 67.71L407 72.24L407.04 65.51L407.07 68.75L407.11 65.64L407.14 74.79L407.18 68.78L407.22 70.79L407.25 74.17L407.29 70.91L407.32 67.31L407.36 69.04L407.4 68.91L407.43 72.31L407.47 69.83L407.5 70.51L407.54 65.49L407.57 65.84L407.61 70.6L407.65 69.89L407.68 72.17L407.72 69.2L407.75 73.92L407.79 64.89L407.83 70.85L407.86 75.23L407.9 72.12L407.93 65.07L407.97 71.98L408.01 71.15L408.04 64.79L408.08 66.84L408.11 71.43L408.15 73.55L408.18 71.11L408.22 71.3L408.26 65.66L408.29 69.5L408.33 65.33L408.36 64.67L408.4 65.93L408.44 70.94L408.47 71.11L408.51 48.12L408.54 80.41L408.58 66.15L408.62 66.49L408.65 71.95L408.69 67.37L408.72 63.51L408.76 76.3L408.79 63.51L408.83 66.15L408.87 67.78L408.9 73.75L408.94 72.63L408.97 71.97L409.01 69.78L409.05 65.54L409.08 64.84L409.12 68.81L409.15 74.15L409.19 64.75L409.23 64.94L409.26 74.38L409.3 68.13L409.33 68.12L409.37 68.19L409.4 67.49L409.44 75.28L409.48 71.99L409.51 71.68L409.55 68.31L409.58 74.3L409.62 72.34L409.66 73.44L409.69 74.82L409.73 70.21L409.76 73.12L409.8 70.12L409.84 64.89L409.87 77.94L409.91 74.13L409.94 66.99L409.98 68.22L410.01 73.62L410.05 71.24L410.09 71.2L410.12 70.41L410.16 57.61L410.19 87.59L410.23 52.99L410.27 54.05L410.3 93.83L410.34 66.2L410.37 71.33L410.41 74.94L410.45 67.02L410.48 72.68L410.52 64.53L410.55 65.35L410.59 65.76L410.62 65.77L410.66 74.54L410.7 75.04L410.73 71L410.77 70.78L410.8 70.91L410.84 68.88L410.88 66.85L410.91 66.81L410.95 67.18L410.98 77.46L411.02 65.35L411.06 77.46L411.09 67.18L411.13 70.45L411.16 65.78L411.2 64.05L411.23 74.81L411.27 60.13L411.31 74.81L411.34 64.05L411.38 71.7L411.41 66.04L411.45 65.14L411.49 66.95L411.52 65.35L411.56 72.57L411.59 64.45L411.63 74.33L411.67 62.39L411.7 73.13L411.74 73.1L411.77 64.69L411.81 77.83L411.84 61.19L411.88 77.83L411.92 64.69L411.95 73.16L411.99 64.43L412.02 78.27L412.06 60.76L412.1 78.27L412.13 64.43L412.17 75.17L412.2 66.19L412.24 67.39L412.28 74.48L412.31 73.6L412.35 65.97L412.38 73.23L412.42 65.51L412.45 69.49L412.49 64.69L412.53 69.87L412.56 73.91L412.6 68.78L412.63 70.52L412.67 74.57L412.71 66.48L412.74 65.61L412.78 64.91L412.81 68.37L412.85 69.03L412.89 73.22L412.92 64.9L412.96 67.38L412.99 68.1L413.03 67.82L413.06 66.23L413.1 71.62L413.14 74.12L413.17 64.61L413.21 74.99L413.24 72.4L413.28 70.01L413.32 74.9L413.35 71.98L413.39 65.92L413.42 68.57L413.46 69.02L413.5 75.14L413.53 70.71L413.57 74.01L413.6 71.15L413.64 71.13L413.67 70.74L413.71 71.92L413.75 62.96L413.78 83.42L413.82 62.96L413.85 71.61L413.89 73.78L413.93 71.49L413.96 65.91L414 71.45L414.03 66.46L414.07 67.84L414.11 72.54L414.14 73.26L414.18 74.11L414.21 70.47L414.25 67.82L414.28 72.15L414.32 65.01L414.36 75.18L414.39 66.84L414.43 73.49L414.46 64.54L414.5 74.27L414.54 65.37L414.57 70.99L414.61 72.23L414.64 74.89L414.68 72.96L414.72 71.19L414.75 65.21L414.79 64.87L414.82 74.47L414.86 69.25L414.89 74.98L414.93 74.21L414.97 68.67L415 69.63L415.04 65.6L415.07 65.56L415.11 73.61L415.15 68.48L415.18 66.61L415.22 66.98L415.25 69.2L415.29 69.79L415.33 69.16L415.36 70.86L415.4 69.22L415.43 65.69L415.47 71.57L415.5 70.57L415.54 70.59L415.58 65.96L415.61 72.69L415.65 70.58L415.68 67.21L415.72 71.09L415.76 66.08L415.79 69.52L415.83 74.26L415.86 71.37L415.9 73.75L415.94 70.58L415.97 65.1L416.01 81.06L416.04 65.1L416.08 65.63L416.11 67.16L416.15 67.05L416.19 65.68L416.22 65.41L416.26 73.45L416.29 65.63L416.33 73.59L416.37 72.39L416.4 66.78L416.44 64.75L416.47 84.97L416.51 62.81L416.55 80.86L416.58 68.45L416.62 65.32L416.65 69.49L416.69 69.52L416.72 68.99L416.76 69.35L416.8 69.04L416.83 67.97L416.87 56.28L416.9 86.98L416.94 72.8L416.98 75.27L417.01 74.61L417.05 73.15L417.08 65.58L417.12 71.92L417.16 68.83L417.19 71.95L417.23 64.65L417.26 73.25L417.3 71.06L417.33 71.33L417.37 73.02L417.41 74.53L417.44 71.1L417.48 73.15L417.51 75.08L417.55 65.75L417.59 71.62L417.62 75.21L417.66 68.67L417.69 70.16L417.73 67.87L417.77 71.44L417.8 73.82L417.84 68.42L417.87 71.02L417.91 65.85L417.94 71.8L417.98 72.93L418.02 73.32L418.05 72.56L418.09 72.75L418.12 69.69L418.16 71.31L418.2 64.85L418.23 73.13L418.27 65.16L418.3 71.7L418.34 70.11L418.38 65.67L418.41 85.2L418.45 62.83L418.48 85.2L418.52 65.67L418.55 68.03L418.59 63.41L418.63 80.53L418.66 60.97L418.7 77.64L418.73 67.54L418.77 66.43L418.81 54.53L418.84 84.81L418.88 72.08L418.91 73.82L418.95 71.45L418.99 71.53L419.02 74.7L419.06 66.18L419.09 65.92L419.13 73.2L419.16 69.37L419.2 65.92L419.24 66.18L419.27 80.8L419.31 63.68L419.34 80.8L419.38 66.18L419.42 66.42L419.45 73.61L419.49 74.98L419.52 65.59L419.56 73.47L419.6 69.39L419.63 67.66L419.67 71.8L419.7 65.28L419.74 71.68L419.77 63.39L419.81 76.93L419.85 60.94L419.88 75.02L419.92 65.63L419.95 70.4L419.99 65.24L420.03 74.39L420.06 66.08L420.1 64.74L420.13 67.64L420.17 73.89L420.21 64.54L420.24 66.67L420.28 73.06L420.31 64.84L420.35 74.4L420.38 73.93L420.42 75.17L420.46 66.09L420.49 80.52L420.53 63.53L420.56 80.52L420.6 66.09L420.64 74.34L420.67 68.42L420.71 73.51L420.74 69.81L420.78 71.63L420.82 65.95L420.85 77.8L420.89 63.31L420.92 77.8L420.96 65.95L420.99 73.33L421.03 64.69L421.07 75.12L421.1 73.21L421.14 68.39L421.17 73.88L421.21 72.51L421.25 69.91L421.28 67.15L421.32 62.38L421.35 82.7L421.39 59.55L421.43 66.55L421.46 80.99L421.5 66.55L421.53 61.99L421.57 78.07L421.6 56.7L421.64 78.07L421.68 61.99L421.71 66.24L421.75 67.68L421.78 66.81L421.82 73.58L421.86 66.93L421.89 69.2L421.93 73.71L421.96 73.9L422 66.06L422.04 71.02L422.07 72.39L422.11 71.35L422.14 67.93L422.18 65.23L422.21 84.33L422.25 62.09L422.29 84.33L422.32 65.23L422.36 65.11L422.39 72.27L422.43 71.5L422.47 71.3L422.5 71.45L422.54 72.43L422.57 58.66L422.61 80.35L422.65 70.83L422.68 70.22L422.72 64.56L422.75 71.77L422.79 67.86L422.82 65.49L422.86 80.43L422.9 63.82L422.93 77.56L422.97 69.68L423 60.92L423.04 80.07L423.08 72.17L423.11 75.31L423.15 67.43L423.18 69.41L423.22 68.45L423.26 69.17L423.29 71.21L423.33 70.37L423.36 70.18L423.4 65.41L423.43 71.56L423.47 73.68L423.51 74.43L423.54 71.69L423.58 69.14L423.61 69.03L423.65 67.46L423.69 68.2L423.72 74.43L423.76 71.12L423.79 71.33L423.83 74.11L423.87 68.97L423.9 66.95L423.94 74.87L423.97 69.6L424.01 54.31L424.04 93.53L424.08 43.89L424.12 93.53L424.15 54.31L424.19 72.73L424.22 73.09L424.26 68.12L424.3 70.96L424.33 65.29L424.37 64.86L424.4 81.29L424.44 64.86L424.48 65.55L424.51 74.55L424.55 66.94L424.58 71.45L424.62 65.97L424.65 75.01L424.69 69.11L424.73 74.58L424.76 72.15L424.8 69.23L424.83 73.83L424.87 67.82L424.91 69.79L424.94 72.91L424.98 69.51L425.01 70.51L425.05 74.97L425.09 67.66L425.12 67.6L425.16 59.17L425.19 76.27L425.23 71.33L425.26 68.38L425.3 68.76L425.34 74.77L425.37 67.5L425.41 72.39L425.44 70.74L425.48 58.98L425.52 80.65L425.55 54.88L425.59 77.72L425.62 74.32L425.66 68.81L425.7 73.33L425.73 65.33L425.77 65.2L425.8 67.61L425.84 65.77L425.87 67.04L425.91 68.26L425.95 67.25L425.98 65.48L426.02 72.99L426.05 67.45L426.09 73.39L426.13 70.35L426.16 71.66L426.2 68.48L426.23 68.42L426.27 65.57L426.31 66.25L426.34 74.63L426.38 60.25L426.41 80.74L426.45 56.62L426.49 77.79L426.52 64.79L426.56 73.01L426.59 64.99L426.63 67.15L426.66 67.09L426.7 68.76L426.74 65.76L426.77 72.8L426.81 65.93L426.84 65.81L426.88 68.77L426.92 68.18L426.95 72.86L426.99 70.02L427.02 68.99L427.06 71.91L427.1 74.88L427.13 65.06L427.17 66.62L427.2 71.38L427.24 69.58L427.27 68.94L427.31 64.97L427.35 69.29L427.38 67.51L427.42 66.65L427.45 74.25L427.49 69.04L427.53 65.27L427.56 66.42L427.6 65.36L427.63 73.58L427.67 66.92L427.71 72.32L427.74 65.86L427.78 66.85L427.81 71.28L427.85 69.07L427.88 70.26L427.92 65.15L427.96 69.34L427.99 64L428.03 83.31L428.06 61.78L428.1 79.66L428.14 70.02L428.17 70.34L428.21 74.59L428.24 71.65L428.28 72.23L428.32 72.23L428.35 70.54L428.39 74.96L428.42 74.98L428.46 72.79L428.49 67.59L428.53 65.2L428.57 67.16L428.6 74.5L428.64 66.41L428.67 66.47L428.71 66.2L428.75 67.47L428.78 72.51L428.82 69.98L428.85 70.57L428.89 74.96L428.93 69.49L428.96 72.47L429 65.03L429.03 68.12L429.07 66.57L429.1 74.98L429.14 67.63L429.18 66.65L429.21 54.64L429.25 80.34L429.28 44.45L429.32 80.34L429.36 54.64L429.39 59.33L429.43 89.03L429.46 59.33L429.5 72.43L429.54 65.79L429.57 74.74L429.61 67.89L429.64 71.61L429.68 69.66L429.71 71.5L429.75 74.46L429.79 73.54L429.82 63.88L429.86 79.32L429.89 59.85L429.93 79.32L429.97 60.19L430 85.07L430.04 56.54L430.07 80.94L430.11 72.54L430.15 73.43L430.18 74.56L430.22 65.51L430.25 77.87L430.29 62.57L430.32 77.87L430.36 65.51L430.4 65.23L430.43 73.28L430.47 72.41L430.5 71.66L430.54 72.49L430.58 70.84L430.61 66.65L430.65 74.56L430.68 72.69L430.72 74.76L430.76 66.95L430.79 74.04L430.83 69.82L430.86 65.94L430.9 71.92L430.93 74.08L430.97 72.45L431.01 65.17L431.04 74.3L431.08 65.99L431.11 74.03L431.15 64.47L431.19 81.77L431.22 64.47L431.26 71.86L431.29 67.74L431.33 73.73L431.37 65.8L431.4 69.11L431.44 65.1L431.47 68.89L431.51 69.15L431.54 66.05L431.58 69.03L431.62 74.39L431.65 68.72L431.69 72.16L431.72 68.43L431.76 64.54L431.8 68.74L431.83 66.32L431.87 71.5L431.9 59.48L431.94 81.7L431.98 75.13L432.01 72.98L432.05 72.41L432.08 71.86L432.12 64.22L432.15 78.46L432.19 60.42L432.23 78.46L432.26 64.22L432.3 67.53L432.33 70.37L432.37 70.86L432.41 74.45L432.44 75.19L432.48 66.06L432.51 73.72L432.55 59.94L432.59 76.09L432.62 59.94L432.66 66.37L432.69 67.61L432.73 64.54L432.76 69.47L432.8 65.27L432.84 69.86L432.87 72.5L432.91 70.99L432.94 68.2L432.98 65.71L433.02 66.51L433.05 65.27L433.09 69.52L433.12 70.35L433.16 63.3L433.2 74L433.23 58.88L433.27 74L433.3 63.3L433.34 68.31L433.37 66.32L433.41 65.13L433.45 67.9L433.48 66.54L433.52 66.55L433.55 66.58L433.59 68.85L433.63 65.11L433.66 65.69L433.7 75.25L433.73 74.02L433.77 64.6L433.81 68.13L433.84 73.82L433.88 65.48L433.91 74.37L433.95 69.52L433.98 71.14L434.02 72.21L434.06 72.75L434.09 74.39L434.13 71.25L434.16 74.25L434.2 68.58L434.24 71.86L434.27 67.04L434.31 65.19L434.34 65.74L434.38 67.33L434.42 66.89L434.45 74.34L434.49 64.82L434.52 69.1L434.56 64.03L434.59 84.5L434.63 64.03L434.67 70.25L434.7 74.01L434.74 65.4L434.77 69.93L434.81 73.9L434.85 64.84L434.88 69.05L434.92 67.17L434.95 66.65L434.99 67.81L435.03 70.53L435.06 72.3L435.1 74.78L435.13 68.58L435.17 74.14L435.2 71.34L435.24 65.71L435.28 65.55L435.31 66.44L435.35 73.24L435.38 65.15L435.42 73.82L435.46 65.4L435.49 63.11L435.53 81.84L435.56 58.57L435.6 63.54L435.64 80.56L435.67 63.54L435.71 71.94L435.74 71.73L435.78 69.18L435.81 73.8L435.85 70.4L435.89 73.84L435.92 70.43L435.96 65.52L435.99 65.38L436.03 64.97L436.07 67.49L436.1 67.26L436.14 70.71L436.17 62.68L436.21 83.81L436.25 57.86L436.28 83.81L436.32 62.68L436.35 74.69L436.39 67.72L436.42 73.36L436.46 67.88L436.5 69.24L436.53 67.85L436.57 67.74L436.6 66.83L436.64 70.15L436.68 69.16L436.71 72.62L436.75 69.91L436.78 74.36L436.82 65.01L436.86 63L436.89 84.11L436.93 63L436.96 71.06L437 69.64L437.03 70.15L437.07 71.68L437.11 68.6L437.14 71L437.18 70.94L437.21 74.98L437.25 68.92L437.29 74.43L437.32 66.05L437.36 70.17L437.39 71.5L437.43 68.18L437.47 65.76L437.5 73.51L437.54 70.99L437.57 64.8L437.61 65.99L437.64 71.1L437.68 71.42L437.72 66.51L437.75 74.42L437.79 74.05L437.82 69.16L437.86 69.19L437.9 69.17L437.93 67.06L437.97 65.8L438 71.01L438.04 71.81L438.08 66.14L438.11 72.69L438.15 63.51L438.18 78.85L438.22 63.51L438.25 68.44L438.29 74.18L438.33 67.6L438.36 69.97L438.4 61.95L438.43 78.76L438.47 56.63L438.51 62.81L438.54 92.26L438.58 62.81L438.61 65.05L438.65 64.57L438.69 69.28L438.72 69.21L438.76 74.69L438.79 74.05L438.83 67L438.86 69.16L438.9 69.2L438.94 67.19L438.97 66.54L439.01 67.65L439.04 75.22L439.08 69.45L439.12 63.82L439.15 76.88L439.19 61.53L439.22 74.98L439.26 69.68L439.3 75.07L439.33 69.79L439.37 69.23L439.4 65.4L439.44 65.76L439.47 74.66L439.51 73.8L439.55 71.2L439.58 66.9L439.62 73.53L439.65 66.96L439.69 68.92L439.73 65.84L439.76 71.63L439.8 70.98L439.83 74.68L439.87 69.73L439.91 66.95L439.94 69.78L439.98 69.69L440.01 65.43L440.05 67.04L440.08 71.93L440.12 65.11L440.16 67.49L440.19 72.08L440.23 73.05L440.26 68.03L440.3 69.85L440.34 68.86L440.37 73.93L440.41 63.71L440.44 78.91L440.48 70.79L440.52 72.04L440.55 63.49L440.59 78.82L440.62 73.98L440.66 69.49L440.69 70.61L440.73 72.3L440.77 69.72L440.8 68.11L440.84 71.37L440.87 72.01L440.91 66L440.95 68.22L440.98 72.03L441.02 73.64L441.05 71.17L441.09 65.18L441.13 66.35L441.16 73.06L441.2 68.78L441.23 75.28L441.27 65.52L441.3 66.97L441.34 79.03L441.38 65L441.41 79.03L441.45 66.97L441.48 67.94L441.52 71.26L441.56 75.28L441.59 72.96L441.63 68.18L441.66 67.74L441.7 75.15L441.74 69.38L441.77 68.42L441.81 68.44L441.84 68.29L441.88 66.89L441.91 71.71L441.95 66.13L441.99 70.56L442.02 74.68L442.06 68.29L442.09 71.63L442.13 68.46L442.17 57.24L442.2 88.1L442.24 57.24L442.27 58.24L442.31 80.07L442.35 68.09L442.38 61.83L442.42 81.86L442.45 72.83L442.49 74.56L442.52 74.92L442.56 68.86L442.6 71.84L442.63 69.12L442.67 71.97L442.7 70.58L442.74 65.92L442.78 65.34L442.81 74.87L442.85 65.08L442.88 60.52L442.92 84.72L442.96 56.99L442.99 62.04L443.03 87.17L443.06 62.04L443.1 69.72L443.13 65.63L443.17 66.27L443.21 64.53L443.24 68.19L443.28 74.61L443.31 65.57L443.35 73.33L443.39 73.64L443.42 71.34L443.46 51.73L443.49 85.66L443.53 68.43L443.57 65.49L443.6 72.48L443.64 71.29L443.67 68.4L443.71 72.09L443.74 70L443.78 64.16L443.82 77.87L443.85 69.55L443.89 56.56L443.92 89.59L443.96 51.55L444 84.22L444.03 70.98L444.07 65.27L444.1 71.41L444.14 70L444.18 74.18L444.21 72.33L444.25 70.84L444.28 65.68L444.32 68.99L444.35 66.58L444.39 66.1L444.43 74.36L444.46 71.93L444.5 66.33L444.53 67.16L444.57 69.23L444.61 70.97L444.64 69.94L444.68 75.17L444.71 73.94L444.75 71.48L444.79 73.82L444.82 72.84L444.86 66.61L444.89 67.02L444.93 67.43L444.96 69.21L445 65.36L445.04 72.85L445.07 52.79L445.11 95.23L445.14 52.79L445.18 71.62L445.22 72.76L445.25 67.03L445.29 66.57L445.32 67.56L445.36 66.86L445.4 73.26L445.43 68.79L445.47 69.52L445.5 65.5L445.54 71.03L445.57 72.68L445.61 72.01L445.65 56.53L445.68 90.47L445.72 56.53L445.75 67.54L445.79 70.28L445.83 71.04L445.86 65.26L445.9 70.46L445.93 73.98L445.97 66.9L446.01 73.15L446.04 71.11L446.08 68.71L446.11 66.33L446.15 75.26L446.18 68.28L446.22 73.86L446.26 68.51L446.29 68.79L446.33 69.75L446.36 70.72L446.4 69.48L446.44 64.98L446.47 71.52L446.51 70.23L446.54 73.74L446.58 71.13L446.62 74.77L446.65 62.38L446.69 78.19L446.72 65.19L446.76 73.87L446.79 68.18L446.83 68.82L446.87 68.18L446.9 66.73L446.94 74.53L446.97 67.34L447.01 75.05L447.05 72.07L447.08 66.17L447.12 69.16L447.15 59.27L447.19 82.18L447.23 52.17L447.26 82.18L447.3 59.27L447.33 74.88L447.37 67.59L447.4 66.61L447.44 74.82L447.48 70.02L447.51 66.35L447.55 68.42L447.58 70.83L447.62 65.06L447.66 70.76L447.69 71.95L447.73 69.95L447.76 71.58L447.8 71.09L447.84 69.96L447.87 74.49L447.91 68.81L447.94 69.03L447.98 67.64L448.01 72.71L448.05 74.89L448.09 67.68L448.12 71.34L448.16 68.87L448.19 72.4L448.23 71.56L448.27 72.49L448.3 70L448.34 68.33L448.37 72.79L448.41 71.91L448.45 70.33L448.48 67.8L448.52 71.34L448.55 74.66L448.59 69.72L448.63 70.42L448.66 64.55L448.7 69.06L448.73 74.83L448.77 68.37L448.8 74.44L448.84 71.3L448.88 74.95L448.91 68.83L448.95 73.46L448.98 65.12L449.02 73.24L449.06 64.86L449.09 65.45L449.13 69.73L449.16 70.31L449.2 71.12L449.24 67.23L449.27 65.07L449.31 88.09L449.34 65.07L449.38 70.71L449.41 61.77L449.45 76.28L449.49 70.46L449.52 66.04L449.56 80.64L449.59 64.58L449.63 77.72L449.67 74.76L449.7 67.58L449.74 74.2L449.77 66.23L449.81 64.87L449.85 65.44L449.88 73.42L449.92 66.76L449.95 68.87L449.99 65.1L450.02 72.16L450.06 68.79L450.1 68.67L450.13 73.28L450.17 68.84L450.2 67.49L450.24 66.61L450.28 66.08L450.31 75.05L450.35 67.13L450.38 71.82L450.42 67.05L450.46 73.7L450.49 71.26L450.53 70.94L450.56 67.81L450.6 68.67L450.63 66.53L450.67 60.81L450.71 84.34L450.74 60.81L450.78 72.74L450.81 66.21L450.85 71.97L450.89 68.12L450.92 74.74L450.96 65.42L450.99 74.12L451.03 70.89L451.07 71.12L451.1 72.05L451.14 69.53L451.17 65.05L451.21 81.35L451.24 63.22L451.28 78.24L451.32 67.51L451.35 73.19L451.39 73.04L451.42 65.17L451.46 78.39L451.5 63.39L451.53 76.08L451.57 72.42L451.6 71.19L451.64 73.63L451.68 71.66L451.71 72.6L451.75 65.25L451.78 79.54L451.82 62.13L451.85 79.54L451.89 65.25L451.93 67L451.96 72.58L452 65.17L452.03 66.32L452.07 70.92L452.11 72.2L452.14 66.76L452.18 75.11L452.21 69.14L452.25 65.95L452.29 65.46L452.32 65.33L452.36 70.7L452.39 75.16L452.43 71.55L452.46 72.41L452.5 69.08L452.54 67.49L452.57 64.73L452.61 65.54L452.64 79.54L452.68 62.62L452.72 79.54L452.75 65.54L452.79 72.81L452.82 69.9L452.86 70.09L452.9 63.13L452.93 77.31L452.97 60.58L453 75.29L453.04 74.25L453.07 73.84L453.11 72.73L453.15 70.63L453.18 69.32L453.22 67.27L453.25 65.49L453.29 74.34L453.33 64.8L453.36 70.87L453.4 66.89L453.43 71.74L453.47 64.73L453.51 78.26L453.54 61.27L453.58 62.61L453.61 74.57L453.65 70.01L453.68 72.98L453.72 68.93L453.76 73.36L453.79 68.74L453.83 67.01L453.86 68.91L453.9 66.27L453.94 71.21L453.97 68.1L454.01 70.49L454.04 65.43L454.08 55.22L454.12 89.19L454.15 55.22L454.19 66.08L454.22 74.41L454.26 67.79L454.29 74.23L454.33 66.89L454.37 72.93L454.4 74.57L454.44 65.92L454.47 65L454.51 77.7L454.55 61.71L454.58 77.7L454.62 65L454.65 67.6L454.69 66.19L454.73 73.38L454.76 65.74L454.8 75.05L454.83 63.34L454.87 80.53L454.9 71.17L454.94 71.2L454.98 72.01L455.01 70.19L455.05 69.92L455.08 73.55L455.12 75.19L455.16 69.63L455.19 73.27L455.23 64.75L455.26 77.38L455.3 61.3L455.34 56.14L455.37 91.59L455.41 56.14L455.44 75.23L455.48 68.18L455.51 65.01L455.55 67.17L455.59 67.07L455.62 70.81L455.66 70.17L455.69 65.58L455.73 72.77L455.77 69.87L455.8 67.45L455.84 71.68L455.87 70.23L455.91 62.84L455.95 78.11L455.98 62.84L456.02 72.53L456.05 72.9L456.09 67.57L456.12 71.01L456.16 64.58L456.2 66.69L456.23 65.34L456.27 67.9L456.3 72.85L456.34 71.83L456.38 71.4L456.41 73.14L456.45 70.29L456.48 66.78L456.52 69.69L456.56 73.53L456.59 67.41L456.63 64.89L456.66 70.2L456.7 73.8L456.73 67.43L456.77 69.5L456.81 66.59L456.84 68.78L456.88 65.9L456.91 75.18L456.95 68.3L456.99 68.83L457.02 66.91L457.06 72.97L457.09 69L457.13 64.68L457.17 76.57L457.2 61.19L457.24 76.57L457.27 64.68L457.31 67.35L457.34 72.61L457.38 71.96L457.42 70.64L457.45 72.81L457.49 73.82L457.52 64.84L457.56 73.04L457.6 67.24L457.63 67.56L457.67 67.38L457.7 72.06L457.74 72.93L457.78 57.83L457.81 86.8L457.85 53.29L457.88 82.2L457.92 69.84L457.95 73.28L457.99 71.58L458.03 61.32L458.06 75.55L458.1 55.58L458.13 75.55L458.17 61.32L458.21 73.77L458.24 64.9L458.28 65.95L458.31 65.76L458.35 69.14L458.39 69.88L458.42 74.16L458.46 72.74L458.49 74.12L458.53 69.58L458.56 70.62L458.6 73.47L458.64 74.26L458.67 69.12L458.71 73.81L458.74 75.19L458.78 61.66L458.82 83.75L458.85 56.15L458.89 83.75L458.92 61.66L458.96 70.28L459 75.23L459.03 71.81L459.07 70.15L459.1 74.34L459.14 69.06L459.17 70.55L459.21 74.75L459.25 73.74L459.28 62.27L459.32 88.01L459.35 62.27L459.39 64.26L459.43 74.7L459.46 60.48L459.5 59.58L459.53 85.28L459.57 59.58L459.61 70.45L459.64 64.72L459.68 65.95L459.71 70.73L459.75 69.6L459.78 70.38L459.82 73.7L459.86 64.87L459.89 72.85L459.93 72.96L459.96 74.14L460 65.15L460.04 65.44L460.07 68.44L460.11 69.62L460.14 69.05L460.18 71.33L460.22 65.71L460.25 69.3L460.29 66.08L460.32 67.82L460.36 67.99L460.39 68.07L460.43 66.94L460.47 66.54L460.5 67.94L460.54 71.86L460.57 72.49L460.61 73.21L460.65 66.07L460.68 70.08L460.72 75.33L460.75 68.85L460.79 65.99L460.83 65.4L460.86 65.18L460.9 65.94L460.93 73.42L460.97 62.21L461 77.61L461.04 62.21L461.08 71.45L461.11 74.93L461.15 65.67L461.18 66.92L461.22 65.97L461.26 71.16L461.29 72.65L461.33 66.2L461.36 68.25L461.4 68.12L461.44 74.96L461.47 54.94L461.51 86.39L461.54 65.78L461.58 71.51L461.61 65.9L461.65 73.39L461.69 69.06L461.72 71.56L461.76 69.56L461.79 73.21L461.83 71.19L461.87 70.34L461.9 69.07L461.94 73.12L461.97 68.78L462.01 73.04L462.05 64.77L462.08 72.72L462.12 63.57L462.15 75.87L462.19 63.57L462.22 70.51L462.26 68.2L462.3 74.14L462.33 70.87L462.37 69.32L462.4 64.79L462.44 65.75L462.48 60.68L462.51 80.19L462.55 57.21L462.58 77.39L462.62 54.85L462.66 85.24L462.69 44.8L462.73 85.24L462.76 54.85L462.8 72.21L462.83 71.79L462.87 65.47L462.91 69.07L462.94 65L462.98 74.67L463.01 65.33L463.05 74.71L463.09 67.25L463.12 69.07L463.16 74.02L463.19 72.06L463.23 70.14L463.27 66.3L463.3 79.83L463.34 66.3L463.37 64.58L463.41 71.52L463.44 67.52L463.48 62.88L463.52 84.3L463.55 62.88L463.59 65.68L463.62 69.79L463.66 68.25L463.7 66.32L463.73 80.69L463.77 69.07L463.8 65.56L463.84 70.8L463.88 65.02L463.91 67.7L463.95 75.13L463.98 65.23L464.02 74.12L464.05 72.93L464.09 69.25L464.13 65.17L464.16 62.76L464.2 75.29L464.23 62.76L464.27 74.38L464.31 70.67L464.34 69.11L464.38 50.68L464.41 96.69L464.45 50.68L464.49 70.53L464.52 65.27L464.56 82.45L464.59 65.27L464.63 70.06L464.66 66.92L464.7 68.8L464.74 64.6L464.77 68.44L464.81 63.42L464.84 75.66L464.88 63.42L464.92 71.35L464.95 65.31L464.99 70.57L465.02 65.13L465.06 73.71L465.1 66.85L465.13 70.52L465.17 72.88L465.2 68.95L465.24 61.64L465.27 87.97L465.31 58.54L465.35 83.05L465.38 71.67L465.42 73.77L465.45 73.6L465.49 72.85L465.53 70.35L465.56 75.12L465.6 73.11L465.63 70.7L465.67 65.79L465.71 65.97L465.74 65.22L465.78 72.9L465.81 73.99L465.85 66.15L465.88 67.78L465.92 72.67L465.96 70.65L465.99 65.33L466.03 66.5L466.06 65.21L466.1 69.99L466.14 73.25L466.17 69.5L466.21 74.11L466.24 74.07L466.28 53.93L466.32 91.92L466.35 47.93L466.39 85.92L466.42 67.81L466.46 68.06L466.49 66.75L466.53 80.96L466.57 66.75L466.6 65.12L466.64 72.98L466.67 67.44L466.71 69.31L466.75 67.69L466.78 63.3L466.82 77.13L466.85 63.3L466.89 66.04L466.93 68.36L466.96 51.12L467 95.83L467.03 51.12L467.07 67.28L467.1 69.37L467.14 69.11L467.18 67.66L467.21 74.24L467.25 74.82L467.28 52.66L467.32 96.22L467.36 46.19L467.39 89.05L467.43 71.26L467.46 68.23L467.5 72.54L467.54 65.47L467.57 65.45L467.61 71.11L467.64 68.99L467.68 66.83L467.71 64.72L467.75 67.84L467.79 70.47L467.82 74.86L467.86 68.39L467.89 68.2L467.93 67.83L467.97 71.57L468 66.01L468.04 68.92L468.07 71.22L468.11 72.7L468.15 75L468.18 67.63L468.22 71.92L468.25 66.1L468.29 71.85L468.32 72.02L468.36 66.86L468.4 71.22L468.43 64.67L468.47 69.22L468.5 65.19L468.54 74.02L468.58 74.83L468.61 59.89L468.65 76.24L468.68 70.18L468.72 67.4L468.76 69.65L468.79 64.87L468.83 66.57L468.86 70.15L468.9 73.38L468.93 71.18L468.97 71.11L469.01 71.44L469.04 67.6L469.08 66.28L469.11 66.36L469.15 73.2L469.19 73.51L469.22 62.25L469.26 77.95L469.29 66.86L469.33 65.56L469.37 71.7L469.4 74.6L469.44 71.33L469.47 71.83L469.51 74.14L469.55 67.98L469.58 69.8L469.62 68.59L469.65 58.46L469.69 81.01L469.72 58.46L469.76 66.53L469.8 69.62L469.83 68.63L469.87 70.25L469.9 71.14L469.94 67.42L469.98 68.83L470.01 71.33L470.05 68.27L470.08 69.54L470.12 74.13L470.16 67.28L470.19 69.96L470.23 65.29L470.26 65.61L470.3 74.1L470.33 72.45L470.37 67.8L470.41 73.17L470.44 66.42L470.48 68.05L470.51 65.05L470.55 71.53L470.59 67.89L470.62 68.82L470.66 67.96L470.69 65.08L470.73 71.52L470.77 72.83L470.8 66.63L470.84 73.7L470.87 69.37L470.91 65.32L470.94 66.17L470.98 67.85L471.02 75.18L471.05 64.73L471.09 70.44L471.12 72.19L471.16 74.61L471.2 73.77L471.23 74.84L471.27 69.28L471.3 61.32L471.34 76.23L471.38 66.48L471.41 74.47L471.45 70.77L471.48 66.65L471.52 66.36L471.55 67.66L471.59 69.66L471.63 73.61L471.66 71.06L471.7 67.45L471.73 66.89L471.77 68.73L471.81 65.61L471.84 69.23L471.88 61.77L471.91 77.94L471.95 58.71L471.99 58.6L472.02 82.35L472.06 58.6L472.09 70.48L472.13 70.75L472.16 66.16L472.2 75.2L472.24 70.03L472.27 70.34L472.31 74.27L472.34 70.51L472.38 65.88L472.42 74.78L472.45 72.63L472.49 63.8L472.52 76.95L472.56 63.8L472.6 71.63L472.63 74L472.67 71.33L472.7 66.35L472.74 70.62L472.77 71.04L472.81 63.78L472.85 78.95L472.88 63.78L472.92 62.39L472.95 74.96L472.99 75.02L473.03 67.09L473.06 72L473.1 67.24L473.13 73.55L473.17 61.21L473.21 87.43L473.24 55.41L473.28 87.43L473.31 61.21L473.35 75.19L473.38 66.44L473.42 69.79L473.46 74.95L473.49 68.25L473.53 69.83L473.56 64.57L473.6 64.78L473.64 65.83L473.67 69.67L473.71 66.48L473.74 67.37L473.78 72.39L473.82 67.25L473.85 72.13L473.89 70.79L473.92 74.47L473.96 73.85L473.99 69.91L474.03 66.27L474.07 59.7L474.1 79.21L474.14 69.46L474.17 72.02L474.21 73.12L474.25 71.37L474.28 58.91L474.32 84.5L474.35 54.79L474.39 80.52L474.43 67.24L474.46 69.95L474.5 71.14L474.53 66.66L474.57 75.14L474.6 65.1L474.64 72.39L474.68 66.17L474.71 66.3L474.75 66.27L474.78 68.64L474.82 68.31L474.86 74.81L474.89 70.71L474.93 68.57L474.96 72.38L475 59.17L475.04 77.89L475.07 59.17L475.11 66.07L475.14 71.72L475.18 68.58L475.21 74.8L475.25 66.71L475.29 66.52L475.32 67.89L475.36 67.86L475.39 69.27L475.43 71.81L475.47 66.71L475.5 73.91L475.54 69.04L475.57 74.17L475.61 67.27L475.65 69.9L475.68 68.48L475.72 73.49L475.75 70.83L475.79 68.19L475.82 70.56L475.86 67.51L475.9 74.42L475.93 71.46L475.97 74.17L476 55.65L476.04 81.12L476.08 67.24L476.11 67.15L476.15 74.92L476.18 65.32L476.22 84.83L476.26 63.59L476.29 63.01L476.33 82.37L476.36 63.01L476.4 67.22L476.43 74.13L476.47 64.55L476.51 67.63L476.54 75.18L476.58 67.29L476.61 70.68L476.65 73.43L476.69 67.01L476.72 79.15L476.76 67.01L476.79 63.08L476.83 85.73L476.87 58.52L476.9 85.73L476.94 63.08L476.97 71.68L477.01 74.58L477.04 66.2L477.08 73.31L477.12 74.46L477.15 73.07L477.19 70.55L477.22 62.38L477.26 76.05L477.3 62.38L477.33 75.05L477.37 71.03L477.4 64.52L477.44 66.88L477.48 66.11L477.51 65.45L477.55 72.94L477.58 68.33L477.62 70.83L477.65 71.4L477.69 67.13L477.73 69.25L477.76 68.6L477.8 72.41L477.83 65.17L477.87 68.24L477.91 68.52L477.94 67.12L477.98 65.45L478.01 73.43L478.05 72.48L478.09 64.82L478.12 63.23L478.16 83.59L478.19 63.23L478.23 64.66L478.26 70.67L478.3 64.59L478.34 81.23L478.37 61.04L478.41 63.76L478.44 88.62L478.48 61.45L478.52 83.52L478.55 65.11L478.59 68.28L478.62 74.42L478.66 68.95L478.7 72.64L478.73 66.25L478.77 71.45L478.8 75.14L478.84 68.14L478.87 64.58L478.91 67.36L478.95 64.93L478.98 74.23L479.02 72.18L479.05 66.94L479.09 70.33L479.13 73.41L479.16 71.63L479.2 72.25L479.23 67.72L479.27 66.98L479.31 67.38L479.34 68.11L479.38 67.25L479.41 65.35L479.45 72.48L479.48 72.32L479.52 64.71L479.56 65.81L479.59 57.95L479.63 83.7L479.66 53.46L479.7 79.94L479.74 69.22L479.77 72.69L479.81 74.27L479.84 71.67L479.88 66.59L479.92 65.34L479.95 81.73L479.99 63.62L480.02 78.51L480.06 65.79L480.09 72.37L480.13 64.94L480.17 70.17L480.2 67.91L480.24 68.11L480.27 61.78L480.31 79.49L480.35 65.63L480.38 70.23L480.42 72.08L480.45 65.2L480.49 67.76L480.53 71.4L480.56 73.56L480.6 71.06L480.63 70.53L480.67 66.53L480.7 67.74L480.74 53.99L480.78 85.16L480.81 43.36L480.85 85.16L480.88 53.99L480.92 74.47L480.96 66.04L480.99 67.38L481.03 72.53L481.06 74.03L481.1 74.56L481.14 71.87L481.17 65.75L481.21 73.26L481.24 72.64L481.28 66.34L481.31 73.33L481.35 72.75L481.39 67.26L481.42 66.07L481.46 65.14L481.49 74.85L481.53 71.77L481.57 65.84L481.6 83.21L481.64 65.84L481.67 72.9L481.71 68.79L481.75 73.58L481.78 73.71L481.82 66.71L481.85 68.54L481.89 69.19L481.92 71.27L481.96 68.05L482 65.03L482.03 71.28L482.07 74.82L482.1 72.55L482.14 66.89L482.18 72.11L482.21 67.17L482.25 73.13L482.28 68.88L482.32 71.38L482.36 69.57L482.39 71.28L482.43 68.91L482.46 67.34L482.5 67.75L482.53 70.68L482.57 64.44L482.61 81.7L482.64 60.79L482.68 81.7L482.71 64.44L482.75 64.74L482.79 67.47L482.82 74.1L482.86 64.9L482.89 74.82L482.93 74.94L482.97 67.38L483 65.4L483.04 68.41L483.07 65.86L483.11 58.88L483.14 82.07L483.18 58.88L483.22 67.05L483.25 69.99L483.29 67.65L483.32 70.27L483.36 74.22L483.4 66.01L483.43 73.1L483.47 73.12L483.5 73.93L483.54 71.59L483.58 65.25L483.61 66.6L483.65 69.23L483.68 74.3L483.72 69.87L483.75 70.78L483.79 75.43L483.83 64.02L483.86 65.07L483.9 68.31L483.93 73.53L483.97 68.83L484.01 72.44L484.04 67.81L484.08 76.51L484.11 68.46L484.15 69.08L484.19 63.87L484.22 68.91L484.26 65.9L484.29 73.88L484.33 69.18L484.36 72.43L484.4 63.02L484.44 63.41L484.47 73.55L484.51 68.17L484.54 76.03L484.58 69.24L484.62 63.02L484.65 75.05L484.69 66.66L484.72 69.7L484.76 62.9L484.8 71.23L484.83 65.27L484.87 68.55L484.9 65.66L484.94 64.91L484.97 67.82L485.01 72.06L485.05 68.56L485.08 65.8L485.12 65.36L485.15 68.05L485.19 70.55L485.23 75.85L485.26 75.39L485.3 67.85L485.33 71.41L485.37 67.41L485.41 69.63L485.44 71.36L485.48 74.13L485.51 64.98L485.55 73.17L485.58 68.06L485.62 75.59L485.66 63.33L485.69 74.87L485.73 69.87L485.76 65.49L485.8 73.73L485.84 67.86L485.87 71.23L485.91 63.35L485.94 75.14L485.98 74.32L486.02 69.28L486.05 67.34L486.09 68.85L486.12 74.44L486.16 70.06L486.19 76.12L486.23 67.46L486.27 72.36L486.3 63.36L486.34 71.35L486.37 76.31L486.41 76.87L486.45 72.35L486.48 73.32L486.52 63.51L486.55 65.94L486.59 71.81L486.63 73.34L486.66 76.08L486.7 75.28L486.73 66.47L486.77 63.02L486.8 77.19L486.84 58.42L486.88 77.19L486.91 63.02L486.95 75.49L486.98 66.29L487.02 64.55L487.06 75.47L487.09 63.23L487.13 65.57L487.16 68.43L487.2 67.13L487.24 76.38L487.27 73.81L487.31 64.15L487.34 64.76L487.38 73.94L487.41 69.26L487.45 72.14L487.49 74.38L487.52 65.92L487.56 67.42L487.59 76.07L487.63 67.53L487.67 76.86L487.7 75.68L487.74 71.15L487.77 76.54L487.81 69.64L487.85 67.32L487.88 73.36L487.92 67.12L487.95 76.02L487.99 75.78L488.02 69.95L488.06 76.64L488.1 66.25L488.13 64.35L488.17 76.94L488.2 65.67L488.24 68.93L488.28 63.17L488.31 65.65L488.35 64.19L488.38 64.88L488.42 64.9L488.46 66.26L488.49 64.14L488.53 75.81L488.56 65.6L488.6 67.39L488.63 71.88L488.67 70.82L488.71 75.44L488.74 72.62L488.78 66.87L488.81 69.19L488.85 63.85L488.89 73.41L488.92 73.78L488.96 66.55L488.99 63.43L489.03 71.82L489.07 71.44L489.1 76.26L489.14 73.7L489.17 64.1L489.21 63.14L489.24 70.05L489.28 64.89L489.32 73.96L489.35 67.82L489.39 64.04L489.42 72.06L489.46 67.96L489.5 66.45L489.53 75.04L489.57 73.35L489.6 68.6L489.64 73.35L489.68 74.76L489.71 74.75L489.75 65.9L489.78 70.49L489.82 69.13L489.85 67.99L489.89 72.41L489.93 67.68L489.96 70.61L490 75.72L490.03 69.59L490.07 69.94L490.11 67.24L490.14 63.38L490.18 76.36L490.21 68.27L490.25 67.03L490.29 70.21L490.32 70.9L490.36 66.92L490.39 69.34L490.43 71.11L490.46 67.71L490.5 68.41L490.54 75.79L490.57 71.93L490.61 64.32L490.64 74.78L490.68 69.62L490.72 67.97L490.75 75.33L490.79 74.19L490.82 72.45L490.86 68.51L490.9 75.24L490.93 66.13L490.97 67.33L491 65.61L491.04 73.61L491.08 69.33L491.11 64.82L491.15 70.83L491.18 68.92L491.22 71.2L491.25 66.51L491.29 68.11L491.33 66.35L491.36 63.24L491.4 65.96L491.43 68.89L491.47 73.42L491.51 69.74L491.54 63.57L491.58 63.02L491.61 75.29L491.65 67.47L491.69 76.72L491.72 75.51L491.76 71.76L491.79 75.67L491.83 67.78L491.86 69.94L491.9 71.56L491.94 64.93L491.97 71.97L492.01 73.52L492.04 73L492.08 76.72L492.12 66.76L492.15 67.86L492.19 71.12L492.22 65.41L492.26 72.33L492.3 73.99L492.33 76.57L492.37 74.51L492.4 70.65L492.44 72.34L492.47 70.72L492.51 76.27L492.55 76.67L492.58 67.42L492.62 71.13L492.65 65.86L492.69 65L492.73 71.9L492.76 70.52L492.8 66.15L492.83 75.14L492.87 65.57L492.91 71.82L492.94 73.5L492.98 70.37L493.01 67.83L493.05 65.11L493.08 65.34L493.12 76.54L493.16 74.71L493.19 72.23L493.23 76.19L493.26 70.67L493.3 70.6L493.34 69.59L493.37 72.06L493.41 73.64L493.44 68.66L493.48 76.24L493.52 76.47L493.55 66.44L493.59 74.32L493.62 74.78L493.66 73.53L493.69 68.86L493.73 73.64L493.77 65.75L493.8 80.17L493.84 62.97L493.87 80.17L493.91 65.75L493.95 75.07L493.98 73.78L494.02 75.48L494.05 66.91L494.09 74.31L494.13 70.61L494.16 75.72L494.2 64.56L494.23 66.42L494.27 67.58L494.3 67.1L494.34 71.89L494.38 74.34L494.41 76.78L494.45 71.21L494.48 64.12L494.52 76.65L494.56 74.28L494.59 69.55L494.63 75.99L494.66 72.81L494.7 66.34L494.74 73.99L494.77 72.7L494.81 73.03L494.84 74.12L494.88 65.57L494.91 63.53L494.95 68.64L494.99 73.42L495.02 73.58L495.06 67.22L495.09 66.8L495.13 65.42L495.17 75.1L495.2 74.21L495.24 72.19L495.27 70.94L495.31 65.46L495.35 75.8L495.38 72.79L495.42 75.4L495.45 65.59L495.49 66.93L495.52 65.55L495.56 72.52L495.6 69.57L495.63 64.42L495.67 76.75L495.7 65.65L495.74 66.12L495.78 70.85L495.81 66.02L495.85 66.26L495.88 74.48L495.92 63.27L495.96 63.66L495.99 73.39L496.03 63.46L496.06 69.28L496.1 69.78L496.13 66.02L496.17 64.02L496.21 73.39L496.24 75.31L496.28 65.1L496.31 70.75L496.35 69.2L496.39 70.22L496.42 64.54L496.46 68.96L496.49 67.02L496.53 66.11L496.57 77L496.6 69.06L496.64 68.44L496.67 75.56L496.71 74.66L496.74 76.08L496.78 71.14L496.82 66L496.85 73.55L496.89 64.63L496.92 76.08L496.96 72.13L497 73.74L497.03 63.41L497.07 74.66L497.1 64.91L497.14 69.66L497.18 73.2L497.21 71.09L497.25 75.18L497.28 68.39L497.32 67.55L497.35 70.75L497.39 65.77L497.43 66.13L497.46 67.44L497.5 66.34L497.53 70.94L497.57 74.83L497.61 69.52L497.64 70.47L497.68 74.93L497.71 67.14L497.75 70.72L497.79 67.43L497.82 74.32L497.86 73.72L497.89 75.7L497.93 64.12L497.96 67.22L498 72.64L498.04 76.3L498.07 72.25L498.11 65.94L498.14 64.25L498.18 74.67L498.22 63.88L498.25 74.17L498.29 76.54L498.32 75.16L498.36 76.78L498.4 73.61L498.43 66.08L498.47 70.23L498.5 65.77L498.54 75.72L498.57 66.39L498.61 75.1L498.65 72.45L498.68 63.74L498.72 66.65L498.75 66.65L498.79 67.85L498.83 71.81L498.86 68.11L498.9 70.92L498.93 65.79L498.97 67.44L499.01 64.38L499.04 65.13L499.08 65.1L499.11 75.69L499.15 76.74L499.18 71.6L499.22 63.59L499.26 68.41L499.29 68.81L499.33 65.3L499.36 68.02L499.4 75.44L499.44 70.3L499.47 64.7L499.51 65.57L499.54 76.16L499.58 62.83L499.62 69.63L499.65 72.92L499.69 70.91L499.72 63.62L499.76 64.29L499.79 71.98L499.83 67.97L499.87 76.02L499.9 65.77L499.94 75.97L499.97 66.85L500.01 72.53L500.05 74.88L500.08 74.99L500.12 63.2L500.15 73.88L500.19 70.35L500.23 74.82L500.26 70.06L500.3 65.37L500.33 73.5L500.37 66.88L500.4 71.98L500.44 75.27L500.48 65.48L500.51 72.15L500.55 67.95L500.58 63.49L500.62 66.75L500.66 72.33L500.69 68.29L500.73 66.38L500.76 73.97L500.8 63.45L500.84 73.81L500.87 76.51L500.91 69.47L500.94 70.29L500.98 74.83L501.01 70.16L501.05 73.17L501.09 65.47L501.12 70.05L501.16 69.58L501.19 74.99L501.23 63.57L501.27 73.44L501.3 68.73L501.34 65.99L501.37 69.64L501.41 72.49L501.45 67.89L501.48 66.83L501.52 75.07L501.55 73.41L501.59 74.43L501.62 76.72L501.66 68.2L501.7 62.82L501.73 73.16L501.77 63.7L501.8 71.56L501.84 64.04L501.88 75.7L501.91 72.52L501.95 64.99L501.98 64.11L502.02 65.62L502.06 67.33L502.09 72.62L502.13 63.02L502.16 68.88L502.2 65.38L502.23 71.37L502.27 63.7L502.31 68.18L502.34 66.92L502.38 75.01L502.41 71.15L502.45 75.66L502.49 72L502.52 68.96L502.56 72.91L502.59 76.95L502.63 70.91L502.67 66.25L502.7 71.64L502.74 65.98L502.77 71.52L502.81 69.22L502.84 72.74L502.88 75.81L502.92 65.92L502.95 69.74L502.99 65.74L503.02 65.87L503.06 65.96L503.1 71.62L503.13 72.86L503.17 73.83L503.2 70.38L503.24 68.45L503.28 64.78L503.31 62.84L503.35 66.66L503.38 68.96L503.42 72.94L503.45 68.74L503.49 73L503.53 64.66L503.56 73.8L503.6 71.21L503.63 73.85L503.67 73.94L503.71 66.16L503.74 74.16L503.78 72.47L503.81 76.42L503.85 64.08L503.89 64.25L503.92 71.69L503.96 63.95L503.99 73.79L504.03 73.44L504.06 69.13L504.1 73.95L504.14 64.14L504.17 63.23L504.21 75.3L504.24 70.67L504.28 71L504.32 62.97L504.35 63.01L504.39 76.16L504.42 63.45L504.46 67.84L504.5 70.33L504.53 70.83L504.57 64.87L504.6 75.21L504.64 71.38L504.67 75.62L504.71 71.39L504.75 65.65L504.78 65.19L504.82 75.03L504.85 73.5L504.89 67.07L504.93 74.59L504.96 76.34L505 64.69L505.03 76.7L505.07 64.36L505.11 68.52L505.14 71.41L505.18 72.77L505.21 71.45L505.25 64.28L505.28 68.8L505.32 74.98L505.36 69.04L505.39 72.6L505.43 64.2L505.46 74.77L505.5 69.99L505.54 76.71L505.57 73.29L505.61 66.95L505.64 68.3L505.68 63.96L505.72 74.83L505.75 70.42L505.79 75.58L505.82 67.14L505.86 75.55L505.89 63.89L505.93 70.11L505.97 69.36L506 71.8L506.04 71.37L506.07 64.61L506.11 66.24L506.15 71.52L506.18 65.42L506.22 71.65L506.25 75.9L506.29 73.79L506.33 71L506.36 70.74L506.4 74.54L506.43 67.02L506.47 73.65L506.5 67.79L506.54 69.54L506.58 59.49L506.61 84.84L506.65 57.32L506.68 79.12L506.72 53.91L506.76 83.23L506.79 56.36L506.83 81.7L506.86 53.63L506.9 84.22L506.94 60.97L506.97 87.14L507.01 55.84L507.04 81.1L507.08 61.07L507.11 78.84L507.15 60.11L507.19 81.22L507.22 55.7L507.26 81.02L507.29 52.74L507.33 84.4L507.37 56.43L507.4 83.51L507.44 58.32L507.47 84.8L507.51 58.39L507.55 82.46L507.58 55.32L507.62 85.91L507.65 57.31L507.69 86.89L507.72 56.96L507.76 89.06L507.8 59.24L507.83 85.36L507.87 56.95L507.9 84.02L507.94 59.58L507.98 82.75L508.01 58.75L508.05 86.52L508.08 52.21L508.12 87.77L508.16 50.66L508.19 83.3L508.23 53.67L508.26 89.72L508.3 55.21L508.33 84.88L508.37 53.44L508.41 79.42L508.44 51.25L508.48 83.76L508.51 52.27L508.55 80.6L508.59 55.2L508.62 85.52L508.66 52.02L508.69 85.86L508.73 53.69L508.77 89.58L508.8 57.63L508.84 84.24L508.87 50.72L508.91 84.35L508.94 53.96L508.98 84.93L509.02 49.6L509.05 86.92L509.09 51.85L509.12 79.59L509.16 56.13L509.2 87.75L509.23 58.69L509.27 88.14L509.3 50.08L509.34 87.96L509.38 52.31L509.41 82.43L509.45 59.18L509.48 90.05L509.52 55.71L509.55 89.65L509.59 52.87L509.63 90.03L509.66 60.23L509.7 88.54L509.73 51.99L509.77 85.84L509.81 58.61L509.84 81.72L509.88 49.74L509.91 83.89L509.95 51.76L509.99 90.69L510.02 57.81L510.06 80.18L510.09 60.02L510.13 84.43L510.16 50.84L510.2 88.74L510.24 53.53L510.27 79.49L510.31 57.52L510.34 81.2L510.38 58.55L510.42 81.03L510.45 59.96L510.49 85.39L510.52 56.35L510.56 83.64L510.6 57.1L510.63 88.8L510.67 56.91L510.7 81.38L510.74 56.98L510.77 82.48L510.81 56.21L510.85 84.04L510.88 57.59L510.92 87L510.95 58.43L510.99 90.34L511.03 49.8L511.06 85.45L511.1 51.58L511.13 82.16L511.17 56.76L511.21 90.42L511.24 54.58L511.28 88.46L511.31 50.53L511.35 88.02L511.38 54.78L511.42 84.2L511.46 59.45L511.49 90.02L511.53 51.87L511.56 80.46L511.6 50.15L511.64 83.13L511.67 49.92L511.71 81.53L511.74 59.84L511.78 90.06L511.82 49.4L511.85 85.7L511.89 49.09L511.92 80.86L511.96 58.25L511.99 91.51L512.03 48.71L512.07 88.2L512.1 55.99L512.14 88.46L512.17 60.02L512.21 84.13L512.25 49.68L512.28 82.62L512.32 58.43L512.35 85.83L512.39 51.79L512.43 83.66L512.46 50L512.5 90.95L512.53 57.31L512.57 84.6L512.61 49.74L512.64 86.09L512.68 50.73L512.71 83.83L512.75 49.78L512.78 90.33L512.82 50.22L512.86 90.96L512.89 54.9L512.93 86.53L512.96 49.66L513 89.18L513.04 52.96L513.07 80.64L513.11 56.9L513.14 85.95L513.18 50.09L513.22 91.73L513.25 47.04L513.29 85.21L513.32 47.21L513.36 85.23L513.39 57.14L513.43 92.3L513.47 58.06L513.5 86.58L513.54 49.39L513.57 88.59L513.61 48.33L513.65 87.42L513.68 53.51L513.72 84.98L513.75 51.12L513.79 88L513.83 52.55L513.86 89.58L513.9 52.51L513.93 89.85L513.97 52.52L514 91.01L514.04 56.38L514.08 85.57L514.11 54.97L514.15 92.55L514.18 51.24L514.22 93.47L514.26 51.47L514.29 93.49L514.33 48.96L514.36 93.02L514.4 54.83L514.44 94.48L514.47 54.75L514.51 91.23L514.54 50.34L514.58 85.94L514.61 57.32L514.65 81.75L514.69 58.55L514.72 88.75L514.76 50.92L514.79 82.73L514.83 58.05L514.87 81.57L514.9 50.43L514.94 91.93L514.97 45.83L515.01 88.05L515.05 47.88L515.08 84.88L515.12 57.6L515.15 89.8L515.19 53.57L515.22 87.41L515.26 56.51L515.3 91.71L515.33 45.3L515.37 92.58L515.4 56.03L515.44 85.84L515.48 55.07L515.51 96.49L515.55 52.14L515.58 84.19L515.62 45.74L515.66 85.24L515.69 56.56L515.73 87.71L515.76 57.11L515.8 89.12L515.83 51.02L515.87 87.02L515.91 49.08L515.94 94.36L515.98 52.24L516.01 86.6L516.05 47.6L516.09 88.97L516.12 53.32L516.16 97.18L516.19 54.01L516.23 88.82L516.27 52.65L516.3 95.3L516.34 46.75L516.37 96.99L516.41 52.83L516.44 95.79L516.48 46.47L516.52 84.65L516.55 52.98L516.59 96.26L516.62 49.97L516.66 85.56L516.7 54.75L516.73 87.72L516.77 46.37L516.8 19.55L516.84 104.08L516.88 27.23L516.91 120.3L516.95 41.46L516.98 120.3L517.02 95.49L517.05 46.27L517.09 90.72" fill="none" stroke="#0072BD" stroke-width="0.6" stroke-linejoin="round"/>
<text transform="translate(324.2 141.3) scale(0.95 1)" text-anchor="middle" class="t">0</text>
<text transform="translate(370.96 141.3) scale(0.95 1)" text-anchor="middle" class="t">200</text>
<text transform="translate(414.02 141.3) scale(0.95 1)" text-anchor="middle" class="t">400</text>
<text transform="translate(457.08 141.3) scale(0.95 1)" text-anchor="middle" class="t">600</text>
<text transform="translate(500.14 141.3) scale(0.95 1)" text-anchor="middle" class="t">800</text>
<text transform="translate(325.8 131.2) scale(0.95 1)" text-anchor="end" class="t">-20</text>
<text transform="translate(325.8 102.74) scale(0.95 1)" text-anchor="end" class="t">-10</text>
<text transform="translate(325.8 74.27) scale(0.95 1)" text-anchor="end" class="t">0</text>
<text transform="translate(325.8 45.81) scale(0.95 1)" text-anchor="end" class="t">10</text>
<text transform="translate(325.8 17.35) scale(0.95 1)" text-anchor="end" class="t">20</text>
<text transform="translate(433.82 157.35) scale(1.0 1)" text-anchor="middle" class="l">Sampling time<tspan dx="-0.8"> (</tspan><tspan font-size="16" dx="1.0" dy="1.5">×</tspan><tspan dx="-1.8" dy="-1.5"> 10s)</tspan></text>
<text transform="translate(303.6 70.02) rotate(-90) scale(1.0 1)" text-anchor="middle" class="yl">Amplitude (g)</text>
<text x="428.9" y="182" text-anchor="middle" class="c">(<tspan font-weight="bold">b</tspan>)</text>
<rect x="38.45" y="204.5" width="210.25" height="113.8" fill="none" stroke="#333333" stroke-width="1"/>
<path d="M76.86 318.3v-2.4M76.86 204.5v2.4M115.27 318.3v-2.4M115.27 204.5v2.4M153.68 318.3v-2.4M153.68 204.5v2.4M192.09 318.3v-2.4M192.09 204.5v2.4M230.5 318.3v-2.4M230.5 204.5v2.4M38.45 261.4h2.4M248.7 261.4h-2.4" stroke="#333333" stroke-width="1" fill="none"/>
<path d="M38.45 258.63L38.6 259.1L38.76 258.74L38.91 259.07L39.06 259.01L39.22 259.3L39.37 258.76L39.53 259L39.68 258.6L39.83 258.67L39.99 259.14L40.14 259.19L40.29 259.44L40.45 259.31L40.6 259.34L40.75 259.43L40.91 259.5L41.06 259.72L41.22 259.24L41.37 258.75L41.52 259.13L41.68 258.95L41.83 259.38L41.98 259.34L42.14 258.83L42.29 259.29L42.44 258.87L42.6 258.78L42.75 259.2L42.91 258.89L43.06 258.99L43.21 259.11L43.37 259.08L43.52 259.7L43.67 259.35L43.83 259.37L43.98 258.9L44.13 259.32L44.29 259.28L44.44 259.21L44.6 259.54L44.75 259.55L44.9 259L45.06 259.13L45.21 259.02L45.36 259.7L45.52 259.49L45.67 259.67L45.82 258.62L45.98 258.57L46.13 258.82L46.29 259.35L46.44 259.54L46.59 259.38L46.75 258.96L46.9 258.54L47.05 258.81L47.21 259.14L47.36 258.74L47.51 259.12L47.67 259.15L47.82 259.51L47.98 259.41L48.13 258.98L48.28 259.18L48.44 259.14L48.59 259.54L48.74 259.33L48.9 259.72L49.05 259.53L49.2 259.57L49.36 259.6L49.51 259.43L49.67 259.06L49.82 259.1L49.97 259.72L50.13 259.48L50.28 259.8L50.43 259.74L50.59 259.37L50.74 259.71L50.89 259.49L51.05 259.79L51.2 259.64L51.36 259.29L51.51 259.01L51.66 259.29L51.82 258.89L51.97 259.29L52.12 259.08L52.28 258.93L52.43 258.66L52.58 258.61L52.74 259.46L52.89 259.32L53.05 259.59L53.2 258.87L53.35 258.73L53.51 259.08L53.66 259.32L53.81 259.12L53.97 258.98L54.12 259.55L54.27 259.63L54.43 259.57L54.58 259.22L54.74 259.21L54.89 259.22L55.04 258.6L55.2 258.65L55.35 259.09L55.5 259.21L55.66 258.85L55.81 259.2L55.96 258.91L56.12 259.39L56.27 259L56.43 258.88L56.58 259.28L56.73 258.91L56.89 259.03L57.04 259.16L57.19 258.64L57.35 259.4L57.5 259.05L57.66 259.49L57.81 259.71L57.96 259.67L58.12 259.45L58.27 259.89L58.42 259.53L58.58 259.76L58.73 259.03L58.88 259.48L59.04 259.31L59.19 259.48L59.35 259.41L59.5 259.51L59.65 258.81L59.81 258.77L59.96 258.67L60.11 258.76L60.27 258.63L60.42 259.08L60.57 259.25L60.73 259.04L60.88 259.4L61.04 258.99L61.19 259.23L61.34 259.29L61.5 259.62L61.65 259.47L61.8 259.5L61.96 258.58L62.11 258.56L62.26 259.04L62.42 259.34L62.57 259.18L62.73 259.5L62.88 258.86L63.03 258.95L63.19 259.3L63.34 259.47L63.49 259.18L63.65 259.39L63.8 258.82L63.95 258.87L64.11 258.99L64.26 259.75L64.42 259.49L64.57 259.71L64.72 258.66L64.88 259.06L65.03 259.18L65.18 259.1L65.34 258.94L65.49 259.3L65.64 259.27L65.8 259.53L65.95 259.38L66.11 259.34L66.26 259.21L66.41 259.26L66.57 259.53L66.72 259.4L66.87 259.47L67.03 259.28L67.18 259.12L67.33 259.12L67.49 258.97L67.64 258.93L67.8 258.76L67.95 259.16L68.1 259.16L68.26 259.21L68.41 259.3L68.56 259.43L68.72 259.41L68.87 259.45L69.02 259.43L69.18 259.18L69.33 259.22L69.49 259.51L69.64 259.51L69.79 259.44L69.95 259.22L70.1 259.48L70.25 259.13L70.41 259.16L70.56 259.37L70.71 258.94L70.87 259.2L71.02 259.17L71.18 259.25L71.33 259.11L71.48 258.95L71.64 259.68L71.79 259.6L71.94 259.62L72.1 258.74L72.25 258.98L72.4 258.78L72.56 259.3L72.71 259.31L72.87 259.59L73.02 259.42L73.17 259.22L73.33 259.59L73.48 259.32L73.63 259.15L73.79 259.15L73.94 258.87L74.09 259.29L74.25 258.78L74.4 259.6L74.56 259.81L74.71 259.82L74.86 258.84L75.02 258.87L75.17 258.92L75.32 259.2L75.48 258.78L75.63 259.12L75.78 259.14L75.94 259.34L76.09 259.37L76.25 259.27L76.4 259.51L76.55 259.35L76.71 259.14L76.86 259.57L77.01 259.52L77.17 259.37L77.32 258.99L77.47 259.11L77.63 259.51L77.78 259.23L77.94 259.24L78.09 258.79L78.24 258.48L78.4 258.51L78.55 259.33L78.7 259.47L78.86 259.12L79.01 259.62L79.16 259.23L79.32 259.43L79.47 258.88L79.63 259.18L79.78 258.81L79.93 259.63L80.09 259.8L80.24 259.73L80.39 259.11L80.55 258.82L80.7 258.83L80.85 259.52L81.01 259.21L81.16 259.5L81.32 259.63L81.47 259.54L81.62 259.6L81.78 259.22L81.93 259.02L82.08 259.43L82.24 259.43L82.39 259.73L82.54 259.5L82.7 259.32L82.85 259.23L83.01 259.25L83.16 259.59L83.31 259.17L83.47 259.56L83.62 258.5L83.77 258.89L83.93 258.87L84.08 259.12L84.23 259.47L84.39 259.05L84.54 259.36L84.7 259.26L84.85 259.37L85 259.3L85.16 259.28L85.31 259.07L85.46 259.47L85.62 259.06L85.77 259.37L85.92 259.53L86.08 259.6L86.23 259.55L86.39 259.71L86.54 259.31L86.69 259.49L86.85 259.63L87 259.5L87.15 259.79L87.31 259.7L87.46 259.71L87.61 259.55L87.77 259.35L87.92 259.55L88.08 259.56L88.23 259.64L88.38 259.43L88.54 259.66L88.69 259.54L88.84 259.48L89 259.49L89.15 259.61L89.3 259.62L89.46 259.48L89.61 259.52L89.77 259.14L89.92 259.33L90.07 259.42L90.23 259.25L90.38 259.36L90.53 259.55L90.69 259.92L90.84 259.74L90.99 259.09L91.15 258.91L91.3 258.71L91.46 258.94L91.61 259.33L91.76 259.06L91.92 259.23L92.07 258.99L92.22 259.23L92.38 259.12L92.53 259.49L92.68 259.03L92.84 259.09L92.99 258.95L93.15 259.32L93.3 259.55L93.45 259.45L93.61 259.72L93.76 258.94L93.91 259.03L94.07 259.36L94.22 259.63L94.37 259.28L94.53 259.28L94.68 259.65L94.84 259.44L94.99 259.64L95.14 259.69L95.3 259.42L95.45 259.35L95.6 259.12L95.76 258.83L95.91 258.87L96.06 259.39L96.22 259.53L96.37 259.23L96.53 258.63L96.68 256.88L96.83 255.71L96.99 257L97.14 258.91L97.29 259.08L97.45 259.07L97.6 259.18L97.76 258.71L97.91 259.15L98.06 259.49L98.22 259.56L98.37 259.13L98.52 259.18L98.68 259.07L98.83 259.03L98.98 259.33L99.14 259.42L99.29 259.75L99.45 259.52L99.6 259.77L99.75 258.87L99.91 258.99L100.06 259.11L100.21 259.05L100.37 258.83L100.52 259.09L100.67 259.46L100.83 259.41L100.98 259.74L101.14 259.53L101.29 259.27L101.44 259.41L101.6 258.98L101.75 259.34L101.9 259.12L102.06 259.08L102.21 258.67L102.36 258.92L102.52 259.24L102.67 259.55L102.83 259.32L102.98 259.05L103.13 258.73L103.29 259.05L103.44 259.35L103.59 259.66L103.75 259.75L103.9 259.37L104.05 259.43L104.21 259.05L104.36 259.48L104.52 259.29L104.67 259.69L104.82 258.74L104.98 258.82L105.13 259.02L105.28 259.55L105.44 259.4L105.59 259.52L105.74 259.74L105.9 259.72L106.05 259.48L106.21 259.2L106.36 259.27L106.51 259.4L106.67 258.83L106.82 258.96L106.97 259.28L107.13 258.85L107.28 259.25L107.43 259.15L107.59 259.23L107.74 259.62L107.9 259.45L108.05 259.26L108.2 259.24L108.36 258.85L108.51 259.7L108.66 259.42L108.82 259.59L108.97 259.12L109.12 259.39L109.28 259.17L109.43 258.69L109.59 258.91L109.74 258.96L109.89 259.4L110.05 259.47L110.2 259.68L110.35 258.98L110.51 257.24L110.66 256.28L110.81 257.9L110.97 258.93L111.12 259.43L111.28 259.34L111.43 259.44L111.58 259.69L111.74 259.16L111.89 259.02L112.04 259.34L112.2 259.29L112.35 259.54L112.5 259.13L112.66 258.95L112.81 259.03L112.97 259L113.12 259.71L113.27 259.52L113.43 259.85L113.58 258.73L113.73 258.83L113.89 259.26L114.04 259.14L114.19 259.26L114.35 259.47L114.5 259.47L114.66 259.75L114.81 259.82L114.96 258.93L115.12 258.91L115.27 259.05L115.42 259.36L115.58 259.75L115.73 259.51L115.88 259.61L116.04 259.31L116.19 259.43L116.35 258.4L116.5 258.99L116.65 258.46L116.81 259.74L116.96 259.79L117.11 259.44L117.27 258.94L117.42 258.54L117.57 258.66L117.73 259.25L117.88 259.66L118.04 259.28L118.19 259.19L118.34 258.87L118.5 259.23L118.65 259.72L118.8 259.72L118.96 259.37L119.11 258.46L119.26 258.92L119.42 258.88L119.57 258.63L119.73 258.81L119.88 258.49L120.03 259.02L120.19 258.79L120.34 258.87L120.49 259.19L120.65 259.58L120.8 259.34L120.95 259.09L121.11 259.38L121.26 259.42L121.42 258.92L121.57 258.85L121.72 259.31L121.88 259.16L122.03 259.17L122.18 259.57L122.34 258.9L122.49 258.83L122.64 259.32L122.8 258.48L122.95 258.8L123.11 259L123.26 259.43L123.41 259.28L123.57 259.31L123.72 259.29L123.87 259.14L124.03 259.31L124.18 258.12L124.33 258.18L124.49 258.45L124.64 258.61L124.8 258.68L124.95 258.49L125.1 259.69L125.26 259.41L125.41 259.37L125.56 259.46L125.72 259.3L125.87 259.36L126.02 258.9L126.18 258.7L126.33 259.05L126.49 258.6L126.64 257.22L126.79 255.71L126.95 256.71L127.1 258.33L127.25 258.85L127.41 259.62L127.56 259.24L127.71 259.28L127.87 259.35L128.02 259.31L128.18 258.86L128.33 258.81L128.48 259.26L128.64 259.17L128.79 258.43L128.94 258.55L129.1 258.93L129.25 259.23L129.4 258.82L129.56 259.11L129.71 259.49L129.87 259.31L130.02 259.45L130.17 259.27L130.33 259.35L130.48 259.6L130.63 259.19L130.79 258.79L130.94 259.29L131.09 259.19L131.25 259.44L131.4 259.27L131.56 259.15L131.71 258.76L131.86 258.97L132.02 258.67L132.17 258.74L132.32 258.76L132.48 258.75L132.63 259.06L132.78 259.02L132.94 258.66L133.09 258.83L133.25 258.97L133.4 259.3L133.55 259.29L133.71 259.5L133.86 258.52L134.01 259.06L134.17 259.05L134.32 259.32L134.48 259.25L134.63 259.65L134.78 259.24L134.94 258.72L135.09 258.73L135.24 259.17L135.4 259.11L135.55 259.36L135.7 259.31L135.86 259.2L136.01 258.81L136.17 258.35L136.32 258.8L136.47 258.65L136.63 258.59L136.78 258.3L136.93 258.64L137.09 258.67L137.24 258.24L137.39 258.46L137.55 258.46L137.7 258.95L137.86 258.75L138.01 258.94L138.16 258.63L138.32 259.17L138.47 258.3L138.62 258.3L138.78 258.68L138.93 259.12L139.08 259.16L139.24 259.42L139.39 259.13L139.55 259.34L139.7 259.28L139.85 258.51L140.01 258.05L140.16 258.66L140.31 257.98L140.47 256.74L140.62 254.57L140.77 255.96L140.93 257.95L141.08 258.51L141.24 259.11L141.39 259.23L141.54 258.69L141.7 258.17L141.85 257.74L142 257.78L142.16 258.8L142.31 258.71L142.46 258.67L142.62 258.86L142.77 258.6L142.93 258.75L143.08 257.65L143.23 257.63L143.39 257.93L143.54 257.85L143.69 258.2L143.85 257.86L144 257.78L144.15 257.67L144.31 258.34L144.46 257.71L144.62 257.5L144.77 257.59L144.92 257.44L145.08 257.98L145.23 257.58L145.38 258.23L145.54 258.18L145.69 258.41L145.84 258.36L146 258.52L146.15 258.35L146.31 257.87L146.46 258.14L146.61 258.43L146.77 258.42L146.92 258.08L147.07 258.55L147.23 258.23L147.38 258.11L147.53 258.53L147.69 257.72L147.84 258.21L148 258.28L148.15 256.73L148.3 256.3L148.46 255.89L148.61 257.69L148.76 257.67L148.92 258.14L149.07 258.29L149.22 257.95L149.38 258.36L149.53 258.67L149.69 258.15L149.84 258.67L149.99 257.1L150.15 257.82L150.3 257.38L150.45 257.79L150.61 257.35L150.76 257.67L150.91 258.4L151.07 258L151.22 258.42L151.38 257.01L151.53 257.58L151.68 256.96L151.84 258.35L151.99 257.16L152.14 255.14L152.3 257.45L152.45 258.11L152.6 258.63L152.76 258.36L152.91 258.35L153.07 257.71L153.22 257.69L153.37 256.84L153.53 256.93L153.68 257.46L153.83 257.24L153.99 257.93L154.14 257.2L154.29 256.91L154.45 257.44L154.6 256.5L154.76 256.66L154.91 257.08L155.06 256.31L155.22 256.75L155.37 257.15L155.52 257.15L155.68 256.52L155.83 256.49L155.98 257.21L156.14 257.75L156.29 257.85L156.45 257.63L156.6 256.96L156.75 257.79L156.91 257.94L157.06 257.97L157.21 258.59L157.37 258.44L157.52 257.75L157.67 258.26L157.83 257.68L157.98 257.06L158.14 257.02L158.29 257.22L158.44 257.22L158.6 257.45L158.75 256.9L158.9 257.64L159.06 256.78L159.21 257.77L159.36 258.23L159.52 258.09L159.67 256.36L159.83 256.35L159.98 255.85L160.13 257.59L160.29 256.81L160.44 256.74L160.59 258.04L160.75 257.35L160.9 257.52L161.05 256.36L161.21 256.64L161.36 256.43L161.52 256.45L161.67 256.47L161.82 256.91L161.98 256.53L162.13 256.12L162.28 256.78L162.44 255.85L162.59 255.97L162.74 255.48L162.9 256.77L163.05 257L163.21 256.58L163.36 257.49L163.51 258.17L163.67 258.18L163.82 257.56L163.97 257.51L164.13 257.01L164.28 255.71L164.43 253.43L164.59 255.58L164.74 256.85L164.9 257.49L165.05 257.48L165.2 256.48L165.36 256.31L165.51 256.28L165.66 255.95L165.82 256.84L165.97 256.37L166.12 256.95L166.28 256.13L166.43 256.2L166.59 257.15L166.74 257.44L166.89 257.8L167.05 257.69L167.2 257.17L167.35 257.37L167.51 255.88L167.66 256.86L167.81 256.43L167.97 255.61L168.12 255.82L168.28 256.58L168.43 256.98L168.58 256.19L168.74 257.2L168.89 255.16L169.04 252.3L169.2 254.46L169.35 256.32L169.5 256.13L169.66 256.79L169.81 255.42L169.97 256.12L170.12 256.05L170.27 255.06L170.43 254.65L170.58 254.93L170.73 256.23L170.89 255.5L171.04 256.54L171.19 256.69L171.35 257.05L171.5 256.43L171.66 255.16L171.81 255.98L171.96 255.97L172.12 256.36L172.27 256.72L172.42 257.23L172.58 255.16L172.73 255.94L172.88 255.61L173.04 255.4L173.19 256.22L173.35 255.44L173.5 257.12L173.65 257.46L173.81 256.73L173.96 256.28L174.11 257.2L174.27 256.38L174.42 255.45L174.58 252.3L174.73 254.36L174.88 256.26L175.04 256.14L175.19 255.7L175.34 255.69L175.5 254.38L175.65 254.54L175.8 251.5L175.96 252.61L176.11 251.68L176.27 256.22L176.42 255.33L176.57 256.05L176.73 255.5L176.88 255.99L177.03 255.49L177.19 256.45L177.34 256.83L177.49 257.24L177.65 256.28L177.8 255.9L177.96 256.82L178.11 254.22L178.26 254.1L178.42 255.38L178.57 255.44L178.72 255.4L178.88 255.98L179.03 255.66L179.18 256.37L179.34 255.95L179.49 254.44L179.65 254.03L179.8 253.78L179.95 255.72L180.11 256.46L180.26 256.22L180.41 253.43L180.57 253.84L180.72 252.49L180.87 255.53L181.03 255.2L181.18 255.98L181.34 256.18L181.49 256.07L181.64 255.19L181.8 251.16L181.95 251.16L182.1 255.99L182.26 256.16L182.41 255.55L182.56 255.38L182.72 256.47L182.87 255.38L183.03 256.31L183.18 253.08L183.33 253.39L183.49 254.55L183.64 255.96L183.79 254.73L183.95 254.75L184.1 254.78L184.25 255.52L184.41 254.73L184.56 254.1L184.72 255.02L184.87 253.57L185.02 254.79L185.18 255.72L185.33 254.9L185.48 253.46L185.64 254.53L185.79 251.56L185.94 246.61L186.1 250.88L186.25 253.73L186.41 255.91L186.56 255.38L186.71 256.55L186.87 255.51L187.02 255.26L187.17 255.06L187.33 253.74L187.48 254.65L187.63 253.96L187.79 253.67L187.94 254.7L188.1 254.69L188.25 253.81L188.4 252.47L188.56 253.49L188.71 254.53L188.86 254.84L189.02 255.82L189.17 254.7L189.32 253.81L189.48 254.52L189.63 253.3L189.79 253.18L189.94 254.78L190.09 254.67L190.25 253.5L190.4 254.64L190.55 254.74L190.71 254.61L190.86 253.14L191.01 252.31L191.17 252.78L191.32 252.85L191.48 252.27L191.63 252.52L191.78 253.47L191.94 255.23L192.09 254.44L192.24 254.96L192.4 253.83L192.55 252.19L192.7 252.08L192.86 254.31L193.01 254.51L193.17 254.71L193.32 255.25L193.47 255.74L193.63 254.93L193.78 252.2L193.93 252.27L194.09 252.23L194.24 252.41L194.39 251.66L194.55 252.4L194.7 255.14L194.86 248.88L195.01 248.88L195.16 252.07L195.32 253.66L195.47 252.09L195.62 254.62L195.78 255.6L195.93 254.38L196.08 251.33L196.24 252.47L196.39 251.75L196.55 252.9L196.7 253.2L196.85 254.3L197.01 252.75L197.16 253.38L197.31 254.26L197.47 252.31L197.62 251.08L197.77 252.25L197.93 253.44L198.08 253.28L198.24 253.33L198.39 252.57L198.54 252.32L198.7 252.34L198.85 253.95L199 254.03L199.16 254.06L199.31 253.6L199.46 255.1L199.62 253.96L199.77 252.16L199.93 253.52L200.08 253.77L200.23 250.69L200.39 251.78L200.54 251.72L200.69 254.08L200.85 252.43L201 253.39L201.15 253.81L201.31 253.83L201.46 254.22L201.62 252.75L201.77 253.37L201.92 253.15L202.08 247.15L202.23 242.51L202.38 249.09L202.54 253.94L202.69 254.32L202.84 253.09L203 252.92L203.15 252.65L203.31 254.32L203.46 253.57L203.61 253.89L203.77 252.1L203.92 246.05L204.07 247.64L204.23 244.94L204.38 252.51L204.53 250.93L204.69 252.21L204.84 252.16L205 253.91L205.15 253.22L205.3 250.15L205.46 250.95L205.61 251.39L205.76 251.4L205.92 249.75L206.07 250.14L206.22 249.43L206.38 250.48L206.53 249.84L206.69 248.66L206.84 248.96L206.99 249.78L207.15 251.1L207.3 249.28L207.45 251.35L207.61 251.74L207.76 251.79L207.91 252.63L208.07 250.98L208.22 248.67L208.38 248.52L208.53 250.15L208.68 250.47L208.84 248.17L208.99 248.8L209.14 248.54L209.3 249.04L209.45 252.2L209.6 250.69L209.76 250.19L209.91 249.76L210.07 249.05L210.22 239.21L210.37 239.21L210.53 248.93L210.68 246.91L210.83 245.97L210.99 248.4L211.14 247.28L211.3 251.07L211.45 249.05L211.6 249.31L211.76 244.43L211.91 246.24L212.06 245.24L212.22 246.15L212.37 248.76L212.52 247.03L212.68 245.14L212.83 244.57L212.99 245.51L213.14 243.29L213.29 245.77L213.45 245.04L213.6 242.62L213.75 247.98L213.91 247.89L214.06 244.93L214.21 244.04L214.37 242.04L214.52 245.49L214.68 241.4L214.83 244.29L214.98 244.87L215.14 242.8L215.29 245.75L215.44 244.05L215.6 244.13L215.75 245.13L215.9 240.7L216.06 242.2L216.21 244.18L216.37 239.84L216.52 240.57L216.67 240.77L216.83 233.52L216.98 239.81L217.13 241.29L217.29 240.51L217.44 236.76L217.59 236.34L217.75 234.03L217.9 232.3L218.06 235.05L218.21 230.13L218.36 233.34L218.52 229.83L218.67 225.91L218.82 224.82L218.98 226.1L219.13 220.72L219.28 225.59L219.44 224.91L219.59 222.92L219.75 221.87L219.9 222.61L220.05 211.23L220.21 219.4L220.36 216.14L220.51 210.37L220.67 206.96L220.82 207.38L220.97 214.13L221.13 215.16L221.28 213.7L221.36 311.55L221.2 312.56L221.05 312.43L220.9 312.04L220.74 317.08L220.59 309.31L220.44 304.96L220.28 305.11L220.13 309.72L219.98 303.38L219.82 299.88L219.67 304.89L219.51 304.47L219.36 304.23L219.21 303.99L219.05 293.71L218.9 290.05L218.75 293.56L218.59 291.98L218.44 290.5L218.29 290.47L218.13 288.36L217.98 290.99L217.82 285.11L217.67 296.32L217.52 295.87L217.36 288.71L217.21 285.23L217.06 288.5L216.9 287.85L216.75 290.41L216.6 285.5L216.44 290.41L216.29 295.8L216.13 297.28L215.98 301.76L215.83 290.51L215.67 280.41L215.52 280.64L215.37 286.6L215.21 289.15L215.06 286.74L214.91 280.16L214.75 283.05L214.6 280.3L214.44 285.17L214.29 284.69L214.14 280.6L213.98 285.82L213.83 285.47L213.68 298.95L213.52 298.95L213.37 279.59L213.22 278.97L213.06 276.81L212.91 279.21L212.75 276.19L212.6 291.27L212.45 289.94L212.29 293.02L212.14 277.14L211.99 277.68L211.83 278.19L211.68 279.63L211.53 280.12L211.37 278.23L211.22 274.28L211.06 273.8L210.91 275.81L210.76 276.8L210.6 275.42L210.45 288.48L210.3 303.05L210.14 291.12L209.99 280.2L209.84 278.84L209.68 277.6L209.53 277.64L209.37 277.11L209.22 277.95L209.07 277.11L208.91 280.28L208.76 279.72L208.61 279.75L208.45 277.26L208.3 274.38L208.15 274.19L207.99 279.2L207.84 278.01L207.68 279.43L207.53 273.91L207.38 274.16L207.22 272.27L207.07 277.62L206.92 278.14L206.76 278.68L206.61 273.95L206.46 273.45L206.3 274.92L206.15 276.29L205.99 278.49L205.84 276.04L205.69 274.72L205.53 273.92L205.38 275.58L205.23 273.73L205.07 271.95L204.92 273.67L204.77 282.93L204.61 290.99L204.46 280L204.3 277.94L204.15 277.28L204 275.38L203.84 275.96L203.69 275.65L203.54 274.52L203.38 273.66L203.23 276.24L203.08 273.24L202.92 274.47L202.77 273.88L202.61 272.51L202.46 287.02L202.31 309.2L202.15 309.2L202 285.51L201.85 274.68L201.69 275.67L201.54 270.5L201.39 271.14L201.23 272.57L201.08 270.52L200.92 272.61L200.77 271.16L200.62 270.91L200.46 270.79L200.31 271.63L200.16 272.65L200 274.38L199.85 274.46L199.7 274.69L199.54 274.92L199.39 275.83L199.23 278.49L199.08 277.36L198.93 279.04L198.77 273.41L198.62 275.72L198.47 272.95L198.31 270.58L198.16 271.62L198.01 269.81L197.85 272.31L197.7 274.02L197.54 271.84L197.39 273.49L197.24 273.7L197.08 275.37L196.93 271.47L196.78 270.84L196.62 272.38L196.47 274.81L196.32 273.21L196.16 274.76L196.01 273.81L195.85 273.13L195.7 271.92L195.55 270.58L195.39 271.36L195.24 271.59L195.09 274.19L194.93 274.62L194.78 273.2L194.63 272.68L194.47 273.84L194.32 272.44L194.16 269.93L194.01 270.9L193.86 271.66L193.7 272.74L193.55 271.45L193.4 272.53L193.24 273.99L193.09 273.73L192.94 274.05L192.78 274.21L192.63 278.95L192.47 284.16L192.32 276.99L192.17 270.55L192.01 270.28L191.86 272.07L191.71 272.24L191.55 274.66L191.4 272.47L191.24 271.8L191.09 273.13L190.94 272.14L190.78 270.38L190.63 270.97L190.48 270.82L190.32 272.67L190.17 271.79L190.02 271.12L189.86 272.32L189.71 272.18L189.55 280.66L189.4 282.25L189.25 279.07L189.09 271.92L188.94 271.76L188.79 273.23L188.63 269.31L188.48 271.07L188.33 270.11L188.17 272.59L188.02 272.46L187.86 272.92L187.71 272.2L187.56 271.47L187.4 272.62L187.25 273L187.1 270.8L186.94 270.9L186.79 271.83L186.64 272.21L186.48 270.4L186.33 269.62L186.17 274.77L186.02 287.57L185.87 287.57L185.71 275.07L185.56 273.11L185.41 272.8L185.25 271.72L185.1 273.12L184.95 269.59L184.79 269.57L184.64 268.65L184.48 271.55L184.33 271.1L184.18 270.03L184.02 268.16L183.87 269.67L183.72 268.34L183.56 272.83L183.41 271.62L183.26 273.13L183.1 271.45L182.95 271.65L182.79 271.13L182.64 277.64L182.49 276.2L182.33 276.61L182.18 272.18L182.03 279.81L181.87 289.28L181.72 280.9L181.57 269.2L181.41 268.04L181.26 268.71L181.1 269.79L180.95 269.15L180.8 271.31L180.64 271.12L180.49 269.51L180.34 271.63L180.18 272.58L180.03 273.11L179.88 269.17L179.72 267.95L179.57 268.16L179.41 269.09L179.26 269.55L179.11 270.17L178.95 267.83L178.8 279.81L178.65 289.28L178.49 282.32L178.34 269.72L178.19 268.91L178.03 269.9L177.88 271.84L177.72 270.55L177.57 271.86L177.42 270.67L177.26 272.54L177.11 270.69L176.96 269.45L176.8 271.06L176.65 268.15L176.5 269.49L176.34 269.08L176.19 271.54L176.03 270.7L175.88 271.57L175.73 269.58L175.57 269.9L175.42 268.85L175.27 270.83L175.11 270.29L174.96 269.84L174.81 275.51L174.65 286.44L174.5 286.44L174.34 275.23L174.19 270.71L174.04 270.8L173.88 268.14L173.73 268.07L173.58 267.7L173.42 268.28L173.27 269.22L173.12 269.4L172.96 270.03L172.81 270.04L172.65 270.75L172.5 270.55L172.35 269.2L172.19 270.75L172.04 268.16L171.89 268.29L171.73 268.5L171.58 273.31L171.43 272.51L171.27 271.35L171.12 267.97L170.96 268.25L170.81 267.71L170.66 268.85L170.5 270.27L170.35 269.5L170.2 268.58L170.04 268.75L169.89 269.79L169.74 268.37L169.58 268.66L169.43 268.45L169.27 268.46L169.12 275.06L168.97 275.06L168.81 268.72L168.66 269.45L168.51 267.89L168.35 266.18L168.2 267.21L168.05 267.33L167.89 267.44L167.74 267.43L167.58 268.12L167.43 267.62L167.28 267.92L167.12 267.55L166.97 267.04L166.82 265.98L166.66 267.1L166.51 268.03L166.36 268.2L166.2 267.73L166.05 267.16L165.89 266.67L165.74 267.91L165.59 266.8L165.43 266.05L165.28 266.28L165.13 269.15L164.97 268.86L164.82 269.24L164.67 267.1L164.51 272.78L164.36 272.78L164.2 268.16L164.05 267.83L163.9 268.07L163.74 266.5L163.59 266.16L163.44 266.63L163.28 269.01L163.13 267.55L162.98 268.28L162.82 273.51L162.67 271.32L162.51 271.72L162.36 267.09L162.21 268.15L162.05 267.92L161.9 269.98L161.75 269.52L161.59 271.32L161.44 268.26L161.29 267.35L161.13 268.38L160.98 266.78L160.82 267.27L160.67 266.56L160.52 267.17L160.36 266.72L160.21 266.71L160.06 268.46L159.9 267.52L159.75 267.47L159.6 267.65L159.44 267.25L159.29 268.03L159.13 267.46L158.98 266.76L158.83 267.02L158.67 266.88L158.52 266.87L158.37 270.5L158.21 270.5L158.06 266.49L157.91 266.44L157.75 266.89L157.6 268.06L157.44 267.86L157.29 265.24L157.14 265.24L156.98 265.95L156.83 266.03L156.68 266.65L156.52 266.59L156.37 265.14L156.22 265.7L156.06 265.75L155.91 267.31L155.75 266.34L155.6 266.73L155.45 265.88L155.29 266.12L155.14 266.83L154.99 265.45L154.83 265.3L154.68 265.81L154.53 266.08L154.37 266.31L154.22 265.49L154.06 266.29L153.91 267.05L153.76 266.5L153.6 264.66L153.45 265.44L153.3 265.39L153.14 266.9L152.99 265.88L152.83 266.35L152.68 266.77L152.53 267.69L152.37 266.61L152.22 266.43L152.07 266.65L151.91 266.25L151.76 265.47L151.61 264.84L151.45 265.27L151.3 264.91L151.14 265.15L150.99 264.4L150.84 264.9L150.68 265.25L150.53 265.12L150.38 264.96L150.22 265.41L150.07 265.55L149.92 266.78L149.76 266.78L149.61 265.69L149.45 266.41L149.3 266.59L149.15 265.75L148.99 266.23L148.84 266.39L148.69 266.13L148.53 265.92L148.38 265.26L148.23 265.23L148.07 265.32L147.92 264.76L147.76 265.4L147.61 265.76L147.46 265.92L147.3 265.35L147.15 265.36L147 265.55L146.84 265.12L146.69 266.96L146.54 266.68L146.38 266.9L146.23 265.23L146.07 265.35L145.92 265.51L145.77 264.5L145.61 265.08L145.46 264.35L145.31 265.04L145.15 265.15L145 265.64L144.85 264.37L144.69 264.8L144.54 264.31L144.38 264.83L144.23 265.59L144.08 265.37L143.92 264.91L143.77 264.48L143.62 265.08L143.46 264.27L143.31 264.96L143.16 264.48L143 264.6L142.85 264.78L142.69 264.51L142.54 265.01L142.39 264.71L142.23 264.62L142.08 265.24L141.93 265.68L141.77 265.04L141.62 265.64L141.47 265.32L141.31 265.07L141.16 264.22L141 263.84L140.85 265.95L140.7 268.23L140.54 268.23L140.39 265.37L140.24 264.21L140.08 264.32L139.93 264.23L139.78 264L139.62 264.45L139.47 264.52L139.31 264.66L139.16 265.17L139.01 265.15L138.85 264.18L138.7 263.87L138.55 264.38L138.39 264.65L138.24 264.83L138.09 264.16L137.93 264.23L137.78 264.31L137.62 264.39L137.47 264.28L137.32 264.53L137.16 263.99L137.01 263.73L136.86 264.22L136.7 263.94L136.55 264.54L136.4 264.37L136.24 264.68L136.09 264.77L135.93 264.39L135.78 264.23L135.63 264.34L135.47 264.67L135.32 264.08L135.17 263.99L135.01 264.2L134.86 264.13L134.71 265.58L134.55 267.66L134.4 267.66L134.24 264.93L134.09 264.59L133.94 265L133.78 263.62L133.63 263.94L133.48 263.84L133.32 263.9L133.17 263.59L133.02 264.12L132.86 263.89L132.71 263.87L132.55 263.92L132.4 264.25L132.25 264.32L132.09 264.49L131.94 263.57L131.79 263.81L131.63 263.57L131.48 264.04L131.33 264.08L131.17 264.08L131.02 263.86L130.86 263.96L130.71 263.75L130.56 263.96L130.4 263.86L130.25 264.24L130.1 263.34L129.94 263.8L129.79 263.62L129.64 264.27L129.48 264.49L129.33 264.38L129.17 264.02L129.02 263.89L128.87 264.45L128.71 264.52L128.56 264.57L128.41 264.76L128.25 264.45L128.1 264.35L127.95 263.88L127.79 264.21L127.64 264.35L127.48 264.06L127.33 263.52L127.18 263.63L127.02 265.61L126.87 268.23L126.72 268.23L126.56 265.29L126.41 263.71L126.26 264.1L126.1 263.94L125.95 263.79L125.79 264.03L125.64 263.83L125.49 264.73L125.33 264.18L125.18 264.44L125.03 264.01L124.87 263.49L124.72 263.51L124.57 263.31L124.41 263.3L124.26 263.6L124.1 263.67L123.95 263.69L123.8 263.59L123.64 264.04L123.49 264.53L123.34 264.21L123.18 264.18L123.03 264.31L122.88 264.59L122.72 263.61L122.57 264.03L122.41 263.56L122.26 263.96L122.11 264.17L121.95 264.41L121.8 263.48L121.65 263.78L121.49 263.44L121.34 264.01L121.19 264.17L121.03 264.34L120.88 263.53L120.72 263.34L120.57 263.58L120.42 263.54L120.26 263.55L120.11 263.52L119.96 263.92L119.8 263.79L119.65 263.48L119.5 263.42L119.34 263.25L119.19 263.56L119.03 263.67L118.88 263.42L118.73 263.47L118.57 265.13L118.42 267.09L118.27 267.09L118.11 265.04L117.96 263.31L117.81 263.59L117.65 263.51L117.5 263.78L117.34 263.55L117.19 263.46L117.04 263.4L116.88 263.31L116.73 263.7L116.58 263.85L116.42 264.01L116.27 263.57L116.12 264.05L115.96 263.66L115.81 263.38L115.65 263.6L115.5 263.61L115.35 263.6L115.19 263.82L115.04 263.76L114.89 263.43L114.73 263.65L114.58 263.85L114.42 263.51L114.27 263.95L114.12 263.95L113.96 263.83L113.81 263.57L113.66 263.86L113.5 263.99L113.35 264.37L113.2 264.24L113.04 263.39L112.89 263.69L112.73 263.78L112.58 264.03L112.43 263.64L112.27 263.66L112.12 263.49L111.97 263.97L111.81 263.62L111.66 264.02L111.51 264.29L111.35 264.39L111.2 263.56L111.04 263.41L110.89 263.68L110.74 263.06L110.58 263.41L110.43 263.15L110.28 263.47L110.12 263.53L109.97 263.57L109.82 263.1L109.66 263.06L109.51 263.36L109.35 263.71L109.2 263.65L109.05 264L108.89 264.25L108.74 264.36L108.59 264.12L108.43 264.05L108.28 263.56L108.13 263.64L107.97 264.15L107.82 263.67L107.66 264.18L107.51 263.42L107.36 263.36L107.2 263.72L107.05 263.28L106.9 263.69L106.74 263.71L106.59 263.41L106.44 263.68L106.28 263.76L106.13 264.06L105.97 263.87L105.82 263.89L105.67 263.95L105.51 264.16L105.36 263.62L105.21 263.8L105.05 263.86L104.9 264.16L104.75 263.66L104.59 263.69L104.44 263.25L104.28 264.22L104.13 263.72L103.98 264.03L103.82 263.99L103.67 263.72L103.52 264.26L103.36 263.1L103.21 263.33L103.06 263.02L102.9 263.59L102.75 263.81L102.59 264.01L102.44 263.62L102.29 263.68L102.13 263.24L101.98 263.18L101.83 263.19L101.67 263.44L101.52 263.62L101.37 263.8L101.21 263.59L101.06 263.22L100.9 263.45L100.75 263.16L100.6 263.63L100.44 263.65L100.29 263.2L100.14 263.54L99.98 263.76L99.83 263.93L99.68 263.86L99.52 263.9L99.37 263.73L99.21 262.95L99.06 263.16L98.91 263.3L98.75 263.85L98.6 263.4L98.45 263.54L98.29 263.2L98.14 263.53L97.99 263.55L97.83 263.91L97.68 263.63L97.52 263.69L97.37 263.57L97.22 263.61L97.06 264.96L96.91 267.09L96.76 267.09L96.6 264.5L96.45 264.15L96.3 263.84L96.14 263.88L95.99 263.86L95.83 264.02L95.68 263.85L95.53 264L95.37 263.89L95.22 263.92L95.07 263.12L94.91 263.52L94.76 263.46L94.61 263.5L94.45 263.96L94.3 263.8L94.14 264.08L93.99 264.06L93.84 264.1L93.68 263.74L93.53 263.8L93.38 263.33L93.22 263.38L93.07 263.65L92.92 263.53L92.76 263.27L92.61 263.11L92.45 263L92.3 263.13L92.15 263.27L91.99 263.01L91.84 263.16L91.69 263.28L91.53 263.58L91.38 264.03L91.23 263.74L91.07 263.72L90.92 263.23L90.76 263.39L90.61 263.44L90.46 263.63L90.3 263.8L90.15 263.52L90 263.35L89.84 263.8L89.69 263.63L89.54 263.41L89.38 263.14L89.23 263.07L89.07 263.59L88.92 263.88L88.77 263.8L88.61 263.76L88.46 263.86L88.31 263.45L88.15 263.6L88 263.7L87.85 263.83L87.69 263.21L87.54 263.09L87.38 262.88L87.23 263.46L87.08 263.93L86.92 263.6L86.77 263.59L86.62 263.97L86.46 263.48L86.31 263.74L86.16 263.45L86 263.86L85.85 263.78L85.69 264.05L85.54 263.63L85.39 263.58L85.23 263.25L85.08 263.53L84.93 263.41L84.77 264.78L84.62 266.52L84.47 266.52L84.31 264.8L84.16 263.39L84 262.93L83.85 262.93L83.7 263.23L83.54 263.84L83.39 263.87L83.24 263.63L83.08 263.19L82.93 263.56L82.78 263.46L82.62 263.44L82.47 263.55L82.31 263.82L82.16 263.11L82.01 263.24L81.85 263.18L81.7 263.31L81.55 263.74L81.39 263.6L81.24 263.64L81.09 263.86L80.93 263.5L80.78 263.66L80.62 263.88L80.47 263.56L80.32 263.53L80.16 263.68L80.01 263.74L79.86 263.9L79.7 263.53L79.55 263.61L79.4 263.35L79.24 263.78L79.09 263.75L78.93 263.67L78.78 263.64L78.63 263.3L78.47 262.97L78.32 263.36L78.17 263.31L78.01 263.72L77.86 263.97L77.71 263.48L77.55 263.92L77.4 264.07L77.24 263.7L77.09 263.8L76.94 263.73L76.78 264.07L76.63 263.39L76.48 263.43L76.32 263.49L76.17 263.67L76.01 263.47L75.86 263.8L75.71 263.3L75.55 263.68L75.4 263.56L75.25 263.58L75.09 263.78L74.94 263.99L74.79 264.08L74.63 263.86L74.48 264.1L74.32 263.98L74.17 263.73L74.02 263.64L73.86 263.47L73.71 263.91L73.56 263.71L73.4 263.71L73.25 263.77L73.1 263.3L72.94 263.13L72.79 262.83L72.63 263.18L72.48 263.16L72.33 263.13L72.17 263.24L72.02 263.37L71.87 263.78L71.71 263.66L71.56 263.81L71.41 263.73L71.25 263.42L71.1 263.69L70.94 263.94L70.79 264.04L70.64 263.46L70.48 263.42L70.33 263.69L70.18 263.67L70.02 263.87L69.87 263.54L69.72 263.05L69.56 263L69.41 263.38L69.25 263.55L69.1 263.54L68.95 263.41L68.79 263.17L68.64 263.47L68.49 263.48L68.33 263.62L68.18 263.94L68.03 263.71L67.87 263.37L67.72 263.24L67.56 263.07L67.41 263.56L67.26 263.17L67.1 263.51L66.95 263.7L66.8 263.71L66.64 263.28L66.49 263.39L66.34 263.78L66.18 263.37L66.03 263.22L65.87 263.29L65.72 263.37L65.57 263.28L65.41 263.45L65.26 263.14L65.11 263.22L64.95 263.29L64.8 263.53L64.65 263.31L64.49 263.59L64.34 263.26L64.18 263.19L64.03 263.2L63.88 263.36L63.72 263.25L63.57 263.33L63.42 263.02L63.26 263.4L63.11 263.15L62.96 263.49L62.8 263.14L62.65 263.25L62.49 262.89L62.34 263L62.19 263.32L62.03 263.26L61.88 263.33L61.73 263.48L61.57 263.41L61.42 263.49L61.27 263.61L61.11 263.94L60.96 263.44L60.8 263.52L60.65 263.5L60.5 263.67L60.34 263.74L60.19 263.28L60.04 263.66L59.88 263.5L59.73 263.42L59.58 263.91L59.42 263.97L59.27 263.92L59.11 263.79L58.96 263.58L58.81 263.98L58.65 263.4L58.5 263.81L58.35 263.74L58.19 263.93L58.04 263.54L57.89 263.57L57.73 263.41L57.58 263.43L57.42 263.31L57.27 264.15L57.12 264.04L56.96 263.62L56.81 263L56.66 263.16L56.5 263.36L56.35 263.32L56.2 263.4L56.04 263.7L55.89 263.6L55.73 263.81L55.58 263.49L55.43 263.71L55.27 263.9L55.12 264L54.97 263.32L54.81 263.65L54.66 263.55L54.51 263.4L54.35 263.31L54.2 263.42L54.04 264.2L53.89 263.8L53.74 264.02L53.58 263.87L53.43 264.24L53.28 264.24L53.12 263.62L52.97 264.13L52.82 263.84L52.66 263.46L52.51 263.3L52.35 263.15L52.2 263.41L52.05 263.28L51.89 263.46L51.74 263.3L51.59 263.73L51.43 263.59L51.28 264.04L51.13 263.57L50.97 264.05L50.82 263.72L50.66 263.98L50.51 263.84L50.36 263.06L50.2 263.25L50.05 263.05L49.9 263.74L49.74 264L49.59 263.72L49.44 263.21L49.28 263.23L49.13 263.56L48.97 263.33L48.82 263.77L48.67 263.5L48.51 263.97L48.36 263.77L48.21 264.16L48.05 263.56L47.9 263.75L47.75 263.78L47.59 263L47.44 263.37L47.28 263.17L47.13 263.38L46.98 263.79L46.82 263.64L46.67 263.31L46.52 263.18L46.36 263.39L46.21 263.21L46.06 263.61L45.9 263.57L45.75 263.31L45.59 263.72L45.44 263.63L45.29 263.97L45.13 264.02L44.98 264.33L44.83 263.74L44.67 263.54L44.52 263.99L44.37 263.51L44.21 263.39L44.06 263.56L43.9 263.15L43.75 263.48L43.6 263.3L43.44 263.28L43.29 263.2L43.14 263.53L42.98 263.76L42.83 263.47L42.68 263.8L42.52 263.96L42.37 263.99L42.21 264.14L42.06 263.38L41.91 263.48L41.75 263.58L41.6 263.95L41.45 264.34L41.29 264.26L41.14 264.29L40.99 263.74L40.83 264.3L40.68 263.88L40.52 264.22L40.37 263.89L40.22 263.4L40.06 263.67L39.91 263.77L39.76 264.23L39.6 263.8L39.45 263.72L39.3 263.61L39.14 263.74L38.99 263.74L38.83 264.18L38.68 264.07L38.53 264.25Z" fill="#0072BD" stroke="#0072BD" stroke-width="0.7" stroke-linejoin="round"/>
<text transform="translate(32.75 332.75) scale(0.95 1)" text-anchor="middle" class="t">0</text>
<text transform="translate(75.16 332.75) scale(0.95 1)" text-anchor="middle" class="t">500</text>
<text transform="translate(115.07 332.75) scale(0.95 1)" text-anchor="middle" class="t">1000</text>
<text transform="translate(153.48 332.75) scale(0.95 1)" text-anchor="middle" class="t">1500</text>
<text transform="translate(191.89 332.75) scale(0.95 1)" text-anchor="middle" class="t">2000</text>
<text transform="translate(230.3 332.75) scale(0.95 1)" text-anchor="middle" class="t">2500</text>
<text transform="translate(34.65 322.65) scale(0.95 1)" text-anchor="end" class="t">-50</text>
<text transform="translate(34.65 265.75) scale(0.95 1)" text-anchor="end" class="t">0</text>
<text transform="translate(34.65 208.85) scale(0.95 1)" text-anchor="end" class="t">50</text>
<text transform="translate(142.57 348.8) scale(1.0 1)" text-anchor="middle" class="l">Sampling time<tspan dx="-0.8"> (</tspan><tspan font-size="16" dx="1.0" dy="1.5">×</tspan><tspan dx="-1.8" dy="-1.5"> 10s)</tspan></text>
<text transform="translate(13.1 261.5) rotate(-90) scale(1.0 1)" text-anchor="middle" class="yl">Amplitude (g)</text>
<text x="137.6" y="374.1" text-anchor="middle" class="c">(<tspan font-weight="bold">c</tspan>)</text>
<rect x="329.6" y="204.5" width="210.45" height="113.8" fill="none" stroke="#333333" stroke-width="1"/>
<path d="M369.96 318.3v-2.4M369.96 204.5v2.4M410.32 318.3v-2.4M410.32 204.5v2.4M450.68 318.3v-2.4M450.68 204.5v2.4M491.04 318.3v-2.4M491.04 204.5v2.4M531.39 318.3v-2.4M531.39 204.5v2.4M329.6 261.4h2.4M540.05 261.4h-2.4" stroke="#333333" stroke-width="1" fill="none"/>
<path d="M329.6 259.25L329.87 259.34L330.14 259.05L330.41 259.2L330.68 259.49L330.95 259.45L331.21 259.51L331.48 259.09L331.75 259.44L332.02 259.32L332.29 259.49L332.56 259.07L332.83 259.31L333.1 259.69L333.37 259.61L333.64 259.41L333.9 259.52L334.17 259.15L334.44 259.36L334.71 259.59L334.98 259.08L335.25 259.44L335.52 259.32L335.79 259.2L336.06 259.05L336.33 259.5L336.6 259.14L336.86 259.46L337.13 259.25L337.4 259.6L337.67 259.17L337.94 259.29L338.21 259.44L338.48 259.57L338.75 259.72L339.02 259.42L339.29 259.52L339.56 259.34L339.82 259.47L340.09 259.22L340.36 259.03L340.63 259.15L340.9 259.46L341.17 259.47L341.44 259.34L341.71 259.38L341.98 259.42L342.25 259.49L342.51 259.07L342.78 259.4L343.05 259.27L343.32 259.04L343.59 259.39L343.86 259.2L344.13 259.64L344.4 259.36L344.67 259.07L344.94 259.27L345.21 259.3L345.47 259.67L345.74 259.17L346.01 259.18L346.28 259.33L346.55 259.08L346.82 259.55L347.09 259.3L347.36 259.36L347.63 259.75L347.9 259.43L348.17 259.6L348.43 259.02L348.7 259.4L348.97 259.61L349.24 259.45L349.51 259.07L349.78 259.27L350.05 259.01L350.32 259.26L350.59 259.43L350.86 259.26L351.12 259.4L351.39 259.66L351.66 259.13L351.93 259.57L352.2 259.37L352.47 259.59L352.74 259.61L353.01 259.25L353.28 259.3L353.55 259.69L353.82 259.11L354.08 259.17L354.35 259.1L354.62 259.54L354.89 259.17L355.16 259.58L355.43 259.22L355.7 259.47L355.97 259.11L356.24 259.36L356.51 259.77L356.78 259.38L357.04 259.18L357.31 259.62L357.58 259.38L357.85 259.41L358.12 259.37L358.39 259.41L358.66 259.25L358.93 259.63L359.2 259.4L359.47 259.49L359.73 259.02L360 259.05L360.27 259.43L360.54 259.62L360.81 259.36L361.08 259.01L361.35 259.09L361.62 259.08L361.89 259.2L362.16 259.3L362.43 259.07L362.69 259.09L362.96 259.08L363.23 259.37L363.5 259.31L363.77 259.72L364.04 259.07L364.31 259.17L364.58 259.42L364.85 259.26L365.12 259.08L365.38 259.33L365.65 259.29L365.92 259.22L366.19 258.99L366.46 259L366.73 259.34L367 259.17L367.27 259.15L367.54 259.26L367.81 259.35L368.08 259.43L368.34 259.41L368.61 258.98L368.88 259.43L369.15 259.68L369.42 259.53L369.69 259.45L369.96 259.29L370.23 259.36L370.5 259.23L370.77 258.99L371.04 259.34L371.3 259.73L371.57 259.43L371.84 259.48L372.11 259.31L372.38 259.34L372.65 259.1L372.92 259.11L373.19 259.08L373.46 259.52L373.73 259.43L373.99 259.78L374.26 259.36L374.53 259.26L374.8 259.26L375.07 259.33L375.34 259.38L375.61 259.54L375.88 259.39L376.15 259.41L376.42 259.73L376.69 259.31L376.95 259.52L377.22 259.28L377.49 259.32L377.76 259.17L378.03 259.15L378.3 259.49L378.57 259.17L378.84 259.34L379.11 259.26L379.38 259.29L379.65 259.63L379.91 259.38L380.18 259.41L380.45 259.51L380.72 259.4L380.99 259.77L381.26 259.11L381.53 259.11L381.8 259.37L382.07 259.49L382.34 259.24L382.6 259.41L382.87 259.35L383.14 259.6L383.41 259.42L383.68 259.34L383.95 259.24L384.22 259.1L384.49 259.08L384.76 259.43L385.03 259.3L385.3 259.21L385.56 259.16L385.83 259.22L386.1 259.16L386.37 259.23L386.64 259.16L386.91 259.08L387.18 259.76L387.45 259.46L387.72 259.33L387.99 259.38L388.26 259.08L388.52 259.16L388.79 258.98L389.06 258.99L389.33 259.13L389.6 259.58L389.87 259.28L390.14 259.07L390.41 259.38L390.68 259.45L390.95 259.45L391.21 259.69L391.48 259.07L391.75 259.01L392.02 259.41L392.29 259.35L392.56 259.33L392.83 259.63L393.1 259.16L393.37 259.48L393.64 259.22L393.91 259.58L394.17 259.06L394.44 259.24L394.71 259.05L394.98 259.27L395.25 259.77L395.52 259.38L395.79 259.43L396.06 259.63L396.33 259.08L396.6 259.15L396.87 259.57L397.13 259.15L397.4 259.37L397.67 259.14L397.94 259.34L398.21 259.54L398.48 259.55L398.75 259.37L399.02 259.11L399.29 259.35L399.56 259.08L399.82 259.1L400.09 259.33L400.36 259.67L400.63 259.31L400.9 259.46L401.17 259.08L401.44 259.29L401.71 259.18L401.98 259.08L402.25 259.72L402.52 259.38L402.78 259.34L403.05 259.54L403.32 259.1L403.59 259.44L403.86 259.12L404.13 259.31L404.4 259.28L404.67 259.28L404.94 259.08L405.21 259.4L405.47 259.13L405.74 259.14L406.01 259.25L406.28 259.41L406.55 259.22L406.82 259.64L407.09 259.36L407.36 259.71L407.63 259.27L407.9 259.69L408.17 259.67L408.43 259.41L408.7 259.07L408.97 259.52L409.24 259.43L409.51 259.76L409.78 259.64L410.05 259.46L410.32 259.06L410.59 259L410.86 259.4L411.13 259.63L411.39 259.62L411.66 259.31L411.93 259.04L412.2 259.33L412.47 259.52L412.74 259.42L413.01 259.37L413.28 259.19L413.55 259.22L413.82 259.3L414.08 259.18L414.35 259.36L414.62 259.58L414.89 259.15L415.16 259.32L415.43 259.22L415.7 259.03L415.97 259.45L416.24 259.15L416.51 259.53L416.78 259.53L417.04 259.39L417.31 259.55L417.58 259.18L417.85 259.59L418.12 259.44L418.39 259.37L418.66 259.34L418.93 259.03L419.2 259.16L419.47 259.44L419.74 259.69L420 259.3L420.27 259.38L420.54 259.43L420.81 259.51L421.08 259.18L421.35 259.03L421.62 259.44L421.89 259.45L422.16 259.19L422.43 259.34L422.69 259.24L422.96 259.4L423.23 259.11L423.5 259.04L423.77 259.44L424.04 259.82L424.31 259.46L424.58 259.69L424.85 259.53L425.12 259.07L425.39 259.38L425.65 259.59L425.92 259.25L426.19 259.51L426.46 259.02L426.73 259.28L427 259.31L427.27 259.59L427.54 259.46L427.81 259.36L428.08 259.07L428.35 259.44L428.61 259.08L428.88 259.25L429.15 259.29L429.42 258.98L429.69 259.08L429.96 259.48L430.23 259.17L430.5 259.19L430.77 259.36L431.04 259.71L431.3 258.97L431.57 259.06L431.84 259.22L432.11 259.2L432.38 259.4L432.65 259.26L432.92 259.18L433.19 259.28L433.46 259.39L433.73 259.73L434 259.29L434.26 259.01L434.53 259.28L434.8 259.54L435.07 259.02L435.34 259.41L435.61 259.09L435.88 259.35L436.15 259.15L436.42 259.22L436.69 259.07L436.95 259.52L437.22 259.13L437.49 259.31L437.76 259.29L438.03 259.51L438.3 259.42L438.57 259.02L438.84 259.64L439.11 259.29L439.38 259.05L439.65 259.48L439.91 259.46L440.18 259.44L440.45 259.07L440.72 259.32L440.99 259.22L441.26 259.27L441.53 259.17L441.8 259.4L442.07 259.16L442.34 259.29L442.61 258.99L442.87 259.08L443.14 259.16L443.41 259.26L443.68 259.01L443.95 259.14L444.22 259.41L444.49 259.12L444.76 259.25L445.03 259.34L445.3 259.23L445.56 259.02L445.83 259.1L446.1 259.34L446.37 259.13L446.64 259.52L446.91 259.02L447.18 259.32L447.45 259.37L447.72 259.59L447.99 259.38L448.26 259.4L448.52 259.17L448.79 259.59L449.06 259.3L449.33 259.43L449.6 259.39L449.87 259.4L450.14 259.33L450.41 259.46L450.68 259.81L450.95 259.45L451.22 259.46L451.48 259.06L451.75 259.41L452.02 259.78L452.29 259.45L452.56 259.49L452.83 259.37L453.1 259.2L453.37 259.65L453.64 259.34L453.91 259.39L454.17 259.59L454.44 259.21L454.71 259.37L454.98 259.26L455.25 259.35L455.52 259.28L455.79 259.44L456.06 259.15L456.33 259.41L456.6 259.69L456.87 259.38L457.13 259.23L457.4 259.49L457.67 259.02L457.94 259.09L458.21 259.47L458.48 259.29L458.75 259.26L459.02 259.11L459.29 259.28L459.56 259.39L459.83 259.72L460.09 259.35L460.36 259.28L460.63 259.54L460.9 259.43L461.17 259.69L461.44 259.33L461.71 259.44L461.98 259.32L462.25 259.55L462.52 259.06L462.78 259.52L463.05 259.37L463.32 259.05L463.59 259.09L463.86 259.26L464.13 259.22L464.4 259.26L464.67 259.43L464.94 259.73L465.21 259.15L465.48 259.13L465.74 259.33L466.01 258.92L466.28 259.27L466.55 259.07L466.82 259.34L467.09 259.23L467.36 259.44L467.63 259.67L467.9 259.59L468.17 259.21L468.43 259.4L468.7 259.66L468.97 259.43L469.24 259.03L469.51 259.44L469.78 259.53L470.05 259.25L470.32 259.37L470.59 259.45L470.86 259.4L471.13 259.19L471.39 259.5L471.66 259.44L471.93 259.7L472.2 258.99L472.47 259.12L472.74 259.35L473.01 259.04L473.28 259.06L473.55 259.3L473.82 259.28L474.09 259.36L474.35 259.3L474.62 259.61L474.89 259.58L475.16 258.99L475.43 257.8L475.7 257.03L475.97 255.17L476.24 252.29L476.51 251.88L476.78 251.03L477.04 250.45L477.31 251.19L477.58 250.63L477.85 250.06L478.12 250.31L478.39 250.56L478.66 249.03L478.93 246.7L479.2 246.65L479.47 244.84L479.74 245.71L480 247.37L480.27 244.48L480.54 245.33L480.81 244.13L481.08 243.95L481.35 246.17L481.62 243.11L481.89 240.44L482.16 241.99L482.43 240.03L482.7 242.01L482.96 238.4L483.23 235.29L483.5 236.43L483.77 240.7L484.04 237.31L484.31 241.5L484.58 235.37L484.85 235.6L485.12 231.76L485.39 232.23L485.65 233.81L485.92 229.06L486.19 231.02L486.46 229.05L486.73 229.01L487 234.21L487.27 228.1L487.54 226.98L487.81 233.47L488.08 227.55L488.35 227.96L488.61 228L488.88 228.21L489.15 230.06L489.42 231L489.69 236.85L489.96 232.46L490.23 238.46L490.5 234.76L490.77 229.79L491.04 231.27L491.31 236.96L491.57 232.68L491.84 231.15L492.11 232.19L492.38 229.17L492.65 233.69L492.92 238.91L493.19 231.37L493.46 233.31L493.73 232.09L494 231.55L494.26 233.76L494.53 236.22L494.8 235.84L495.07 233.64L495.34 241.94L495.61 236.89L495.88 231.38L496.15 236L496.42 234.33L496.69 233.8L496.96 231.79L497.22 231.99L497.49 235.99L497.76 231.22L498.03 234.08L498.3 237.56L498.57 236.01L498.84 237.37L499.11 231.69L499.38 231.82L499.65 236.76L499.91 235.75L500.18 232.9L500.45 235.38L500.72 236.12L500.99 231.95L501.26 230.84L501.53 234.33L501.8 228.23L502.07 224.01L502.34 221.14L502.61 221.68L502.87 221.87L503.14 225.41L503.41 224.36L503.68 227.13L503.95 225.15L504.22 229.69L504.49 227.81L504.76 232.89L505.03 223.5L505.3 219.19L505.57 224.3L505.83 215.28L506.1 216.38L506.37 218.48L506.64 212.23L506.91 214.57L507.18 212.89L507.45 221.41L507.72 218.31L507.99 227.12L508.26 216.99L508.52 222.75L508.79 224.66L509.06 226.78L509.33 222.52L509.6 226.63L509.87 231.14L510.14 226.18L510.41 218.19L510.68 222.89L510.95 221.63L511.22 225.7L511.48 215.67L511.75 216.35L512.02 228.25L512.29 220.72L512.56 221.42L512.83 219.47L513.1 218.94L513.37 223.03L513.64 220.25L513.91 227.19L514.18 224.29L514.44 229.42L514.71 221.44L514.98 216.17L515.25 223.57L515.52 215.14L515.79 213.27L516.06 219.35L516.33 214.61L516.6 221.54L516.87 209.55L517.13 207.96L517.4 208.02L517.67 206.92L517.94 208.02L518.21 208.24L518.48 209.37L518.75 210.26L519.02 209.75L519.29 207.77L519.56 208.71L519.83 210.39L520.09 206.83L520.36 206.59L520.63 209.22L520.9 209.18L521.17 206.87L521.44 207.39L521.71 208.61L521.98 208.83L521.84 316.35L521.57 316.03L521.31 316.63L521.04 313.64L520.77 316.66L520.5 314.79L520.23 313.56L519.96 314.58L519.69 313.41L519.42 313.18L519.15 316.92L518.88 315.45L518.61 308.59L518.35 310.82L518.08 313L517.81 305.7L517.54 305.93L517.27 307.29L517 302.7L516.73 307.1L516.46 308.2L516.19 303.94L515.92 306.19L515.65 304.36L515.39 301.8L515.12 298.76L514.85 292.71L514.58 294.84L514.31 301.86L514.04 301.72L513.77 303.26L513.5 299.98L513.23 301.14L512.96 300.39L512.7 299.48L512.43 302.51L512.16 294.99L511.89 304.27L511.62 311.09L511.35 298.5L511.08 305.75L510.81 306.25L510.54 308.45L510.27 303.16L510 295.44L509.74 298.03L509.47 303.13L509.2 309.15L508.93 309.6L508.66 305.59L508.39 311.4L508.12 303.34L507.85 308.94L507.58 303.08L507.31 310.76L507.05 308.24L506.78 308.42L506.51 304.94L506.24 306.04L505.97 302.96L505.7 298.12L505.43 308.62L505.16 306.56L504.89 295.94L504.62 300.87L504.35 294.61L504.09 299.33L503.82 296.83L503.55 300.53L503.28 295.25L503.01 295.34L502.74 291.74L502.47 296.18L502.2 292.25L501.93 287.86L501.66 290.56L501.39 291.16L501.13 294.34L500.86 291.11L500.59 293.46L500.32 295.1L500.05 290.04L499.78 285.22L499.51 290.34L499.24 292.39L498.97 291.54L498.7 294L498.44 289.11L498.17 292.87L497.9 293.02L497.63 286.61L497.36 287.34L497.09 282.07L496.82 292.77L496.55 287.04L496.28 286.21L496.01 287.4L495.74 286.89L495.48 285.6L495.21 292.06L494.94 286.64L494.67 283.53L494.4 285.94L494.13 285.75L493.86 283.2L493.59 282.68L493.32 285.65L493.05 286.17L492.78 286.39L492.52 288.97L492.25 285.52L491.98 287.42L491.71 285.11L491.44 286.73L491.17 289.81L490.9 285.56L490.63 283.14L490.36 286.17L490.09 290.61L489.83 291.03L489.56 292.9L489.29 292.36L489.02 294.28L488.75 289.97L488.48 293.05L488.21 294.71L487.94 291.18L487.67 292.63L487.4 289.97L487.13 289.08L486.87 291.28L486.6 291.66L486.33 286L486.06 286.41L485.79 285.23L485.52 287.31L485.25 288.53L484.98 283.87L484.71 289.03L484.44 284.12L484.17 288.77L483.91 285.11L483.64 288.59L483.37 289.99L483.1 285.43L482.83 283.57L482.56 283.8L482.29 278.67L482.02 280.09L481.75 282.93L481.48 281.66L481.22 280.49L480.95 283.35L480.68 278.51L480.41 282.03L480.14 280.04L479.87 281.07L479.6 278.08L479.33 276.67L479.06 277.12L478.79 276.13L478.52 272.76L478.26 273.86L477.99 275.67L477.72 273.64L477.45 272.76L477.18 274.4L476.91 273.99L476.64 272.11L476.37 273.12L476.1 269.2L475.83 268.51L475.57 267.17L475.3 264.73L475.03 263.44L474.76 263.42L474.49 263.47L474.22 263.53L473.95 263.81L473.68 263.17L473.41 263.57L473.14 263.41L472.87 263.4L472.61 263.82L472.34 264.1L472.07 263.59L471.8 263.74L471.53 263.33L471.26 263.73L470.99 263.73L470.72 263.72L470.45 263.34L470.18 263.61L469.91 263.5L469.65 263.72L469.38 263.71L469.11 263.29L468.84 263.47L468.57 263.61L468.3 263.72L468.03 263.39L467.76 263.06L467.49 263.39L467.22 263.8L466.96 263.68L466.69 263.5L466.42 263.35L466.15 263.41L465.88 263.04L465.61 263.59L465.34 263.31L465.07 263.76L464.8 263.77L464.53 263.3L464.26 263.75L464 263.49L463.73 263.61L463.46 263.5L463.19 263.18L462.92 263.08L462.65 263.48L462.38 263.21L462.11 263.47L461.84 263.27L461.57 263.44L461.3 263.31L461.04 263.61L460.77 263L460.5 263.35L460.23 263.4L459.96 263.15L459.69 263.28L459.42 263.71L459.15 263.51L458.88 263.44L458.61 263.64L458.35 263.54L458.08 263.43L457.81 263.71L457.54 263.56L457.27 263.79L457 263.38L456.73 263.08L456.46 263.36L456.19 263.8L455.92 263.33L455.65 263.62L455.39 263.17L455.12 263.5L454.85 263.48L454.58 263.59L454.31 263.2L454.04 263.46L453.77 263.46L453.5 263.3L453.23 263.46L452.96 263.36L452.69 263.63L452.43 263.8L452.16 263.55L451.89 263.61L451.62 263.36L451.35 263.34L451.08 263.67L450.81 263.58L450.54 263.36L450.27 263.56L450 263.36L449.74 263.4L449.47 263.55L449.2 263.78L448.93 263.36L448.66 263.57L448.39 263.63L448.12 263.79L447.85 263L447.58 263.34L447.31 263.03L447.04 263.36L446.78 263.26L446.51 263.58L446.24 263.73L445.97 263.73L445.7 263.37L445.43 263.08L445.16 263.51L444.89 263.66L444.62 263.4L444.35 263.35L444.09 263.35L443.82 263.79L443.55 263.49L443.28 263.62L443.01 263.34L442.74 263.65L442.47 263.09L442.2 263.38L441.93 262.99L441.66 263.35L441.39 263.14L441.13 263.43L440.86 263.5L440.59 263.69L440.32 263.39L440.05 263L439.78 263.33L439.51 263.36L439.24 263.7L438.97 263.36L438.7 263.54L438.43 263.28L438.17 263.44L437.9 263.5L437.63 263.25L437.36 263.4L437.09 263.35L436.82 263.45L436.55 263.33L436.28 263.57L436.01 263.64L435.74 263.78L435.48 263.57L435.21 263.67L434.94 263.21L434.67 263.66L434.4 263.45L434.13 263.09L433.86 263.55L433.59 263.66L433.32 263.66L433.05 263.77L432.78 263.48L432.52 263.11L432.25 263.7L431.98 263.24L431.71 263.48L431.44 263.6L431.17 263.53L430.9 263.66L430.63 263.56L430.36 263.63L430.09 263.21L429.82 263.39L429.56 263.57L429.29 263.16L429.02 263.11L428.75 263.5L428.48 263.42L428.21 263.62L427.94 263.76L427.67 263.31L427.4 263.56L427.13 263.66L426.87 263.53L426.6 263.8L426.33 263.27L426.06 263.37L425.79 263.38L425.52 263.49L425.25 263.58L424.98 263.35L424.71 262.97L424.44 263.36L424.17 263.56L423.91 264.09L423.64 263.74L423.37 263.6L423.1 263.31L422.83 263.74L422.56 263.34L422.29 263.43L422.02 263.19L421.75 263.62L421.48 263.63L421.21 263.47L420.95 263.24L420.68 263.57L420.41 263.45L420.14 263.76L419.87 263.51L419.6 263.62L419.33 263.45L419.06 263.54L418.79 263.61L418.52 263.25L418.26 263.45L417.99 263.32L417.72 263.65L417.45 263.61L417.18 263.45L416.91 263.37L416.64 263.48L416.37 263.55L416.1 263.46L415.83 263.47L415.56 263.72L415.3 263.65L415.03 263.39L414.76 263.14L414.49 263.23L414.22 263.62L413.95 263.31L413.68 263.59L413.41 263.81L413.14 263.68L412.87 263.54L412.61 263.37L412.34 263.46L412.07 263.53L411.8 263.67L411.53 263.61L411.26 263.43L410.99 263.47L410.72 263.79L410.45 263.38L410.18 263.69L409.91 263.53L409.65 263.34L409.38 263.75L409.11 263.47L408.84 263.75L408.57 263.78L408.3 263.73L408.03 263.31L407.76 263.58L407.49 263.35L407.22 263.7L406.95 263.36L406.69 263.66L406.42 263.49L406.15 263.5L405.88 263.17L405.61 263.53L405.34 263.22L405.07 263.47L404.8 263.5L404.53 263.2L404.26 263.6L404 263.72L403.73 263.46L403.46 263.57L403.19 263.58L402.92 263.59L402.65 263.71L402.38 263.61L402.11 263.63L401.84 263.4L401.57 263.23L401.3 263.42L401.04 263.38L400.77 263.59L400.5 263.68L400.23 263.74L399.96 263.38L399.69 263.58L399.42 263.07L399.15 263.35L398.88 263.6L398.61 263.33L398.34 263.37L398.08 263.69L397.81 263.75L397.54 263.41L397.27 263.54L397 263.13L396.73 263.11L396.46 263.53L396.19 263.61L395.92 263.78L395.65 263.49L395.39 263.1L395.12 263.39L394.85 263.57L394.58 263.48L394.31 263.73L394.04 263.11L393.77 263.4L393.5 263.11L393.23 263.37L392.96 263.47L392.69 263.75L392.43 263.8L392.16 263.73L391.89 263.43L391.62 263.4L391.35 263.4L391.08 263.48L390.81 263.14L390.54 263.45L390.27 263.53L390 263.31L389.73 263.56L389.47 263.71L389.2 263.28L388.93 263.63L388.66 263.17L388.39 263.44L388.12 263.52L387.85 263.53L387.58 263.55L387.31 263.43L387.04 263.48L386.78 263.35L386.51 263.26L386.24 263.38L385.97 263.39L385.7 263.49L385.43 263.56L385.16 263.25L384.89 263.32L384.62 263.78L384.35 263.69L384.08 263.53L383.82 263.43L383.55 263.43L383.28 263.58L383.01 263.8L382.74 263.33L382.47 263.34L382.2 263.22L381.93 263.56L381.66 263.19L381.39 263.59L381.12 263.26L380.86 263.45L380.59 263.32L380.32 263.69L380.05 263.37L379.78 262.99L379.51 263.17L379.24 263.55L378.97 263.22L378.7 263.38L378.43 263.61L378.17 263.72L377.9 263.63L377.63 263.23L377.36 263.7L377.09 263.39L376.82 263.48L376.55 263.24L376.28 263.41L376.01 263.53L375.74 263.39L375.47 263.75L375.21 263.65L374.94 263.67L374.67 263.81L374.4 263.44L374.13 263.25L373.86 263.64L373.59 263.41L373.32 263.6L373.05 263.46L372.78 263.5L372.52 263.55L372.25 263.81L371.98 263.34L371.71 263.44L371.44 263.62L371.17 263.63L370.9 263.72L370.63 263.6L370.36 263.18L370.09 263.44L369.82 263.43L369.56 263.15L369.29 263.37L369.02 263.55L368.75 263.5L368.48 263.49L368.21 263.41L367.94 263.46L367.67 263.37L367.4 263.43L367.13 263.77L366.86 263.75L366.6 263.21L366.33 263.47L366.06 263.36L365.79 263.31L365.52 263.17L365.25 263.51L364.98 264.08L364.71 263.79L364.44 263.15L364.17 263.35L363.91 263.56L363.64 263.62L363.37 263.09L363.1 263.45L362.83 263.38L362.56 263.63L362.29 263.25L362.02 263.58L361.75 263.36L361.48 263.31L361.21 263.48L360.95 263.23L360.68 263.34L360.41 263.79L360.14 263.5L359.87 263.81L359.6 263.72L359.33 263.72L359.06 263.27L358.79 263.4L358.52 263.78L358.25 263.82L357.99 263.41L357.72 263.7L357.45 263.22L357.18 263.51L356.91 263.54L356.64 263.18L356.37 263.59L356.1 263.75L355.83 263.04L355.56 263.34L355.3 263.2L355.03 263.45L354.76 263.81L354.49 263.82L354.22 262.99L353.95 263.35L353.68 263.28L353.41 263.58L353.14 263.73L352.87 263.42L352.6 263.13L352.34 263.44L352.07 263.38L351.8 263.66L351.53 263.34L351.26 263.4L350.99 263.57L350.72 263.57L350.45 263.2L350.18 263.61L349.91 263.44L349.64 263.53L349.38 263.44L349.11 263.35L348.84 263.18L348.57 263.54L348.3 263.33L348.03 263.36L347.76 263.37L347.49 263.51L347.22 263.62L346.95 263.38L346.69 263.44L346.42 263.29L346.15 263.03L345.88 263.41L345.61 263.35L345.34 263.77L345.07 263.09L344.8 263.43L344.53 263.4L344.26 263.06L343.99 263.79L343.73 263.59L343.46 263.78L343.19 263.34L342.92 263.39L342.65 263.48L342.38 263.26L342.11 263.42L341.84 263.43L341.57 263.68L341.3 263.24L341.04 263.48L340.77 263.48L340.5 263.54L340.23 263.39L339.96 263.01L339.69 263.41L339.42 263.05L339.15 263.52L338.88 263.15L338.61 263.54L338.34 263.72L338.08 263L337.81 263.39L337.54 263.15L337.27 263.58L337 263.38L336.73 263.46L336.46 263.28L336.19 263.65L335.92 263.42L335.65 263.16L335.38 263.35L335.12 263.79L334.85 263.44L334.58 263.74L334.31 263.62L334.04 263.28L333.77 263.74L333.5 263.53L333.23 263.35L332.96 263.39L332.69 263.45L332.43 263.32L332.16 263.73L331.89 263.31L331.62 263.75L331.35 263.6L331.08 263.44L330.81 263.34L330.54 263.4L330.27 263.71L330 263.33L329.73 263.48Z" fill="#0072BD" stroke="#0072BD" stroke-width="0.7" stroke-linejoin="round"/>
<text transform="translate(324.2 332.75) scale(0.95 1)" text-anchor="middle" class="t">0</text>
<text transform="translate(368.26 332.75) scale(0.95 1)" text-anchor="middle" class="t">300</text>
<text transform="translate(408.62 332.75) scale(0.95 1)" text-anchor="middle" class="t">600</text>
<text transform="translate(448.98 332.75) scale(0.95 1)" text-anchor="middle" class="t">900</text>
<text transform="translate(490.84 332.75) scale(0.95 1)" text-anchor="middle" class="t">1200</text>
<text transform="translate(531.19 332.75) scale(0.95 1)" text-anchor="middle" class="t">1500</text>
<text transform="translate(325.8 322.65) scale(0.95 1)" text-anchor="end" class="t">-50</text>
<text transform="translate(325.8 265.75) scale(0.95 1)" text-anchor="end" class="t">0</text>
<text transform="translate(325.8 208.85) scale(0.95 1)" text-anchor="end" class="t">50</text>
<text transform="translate(433.82 348.8) scale(1.0 1)" text-anchor="middle" class="l">Sampling time<tspan dx="-0.8"> (</tspan><tspan font-size="16" dx="1.0" dy="1.5">×</tspan><tspan dx="-1.8" dy="-1.5"> 10s)</tspan></text>
<text transform="translate(303.6 261.5) rotate(-90) scale(1.0 1)" text-anchor="middle" class="yl">Amplitude (g)</text>
<text x="428.9" y="374.1" text-anchor="middle" class="c">(<tspan font-weight="bold">d</tspan>)</text>
</svg>
</body></html>
